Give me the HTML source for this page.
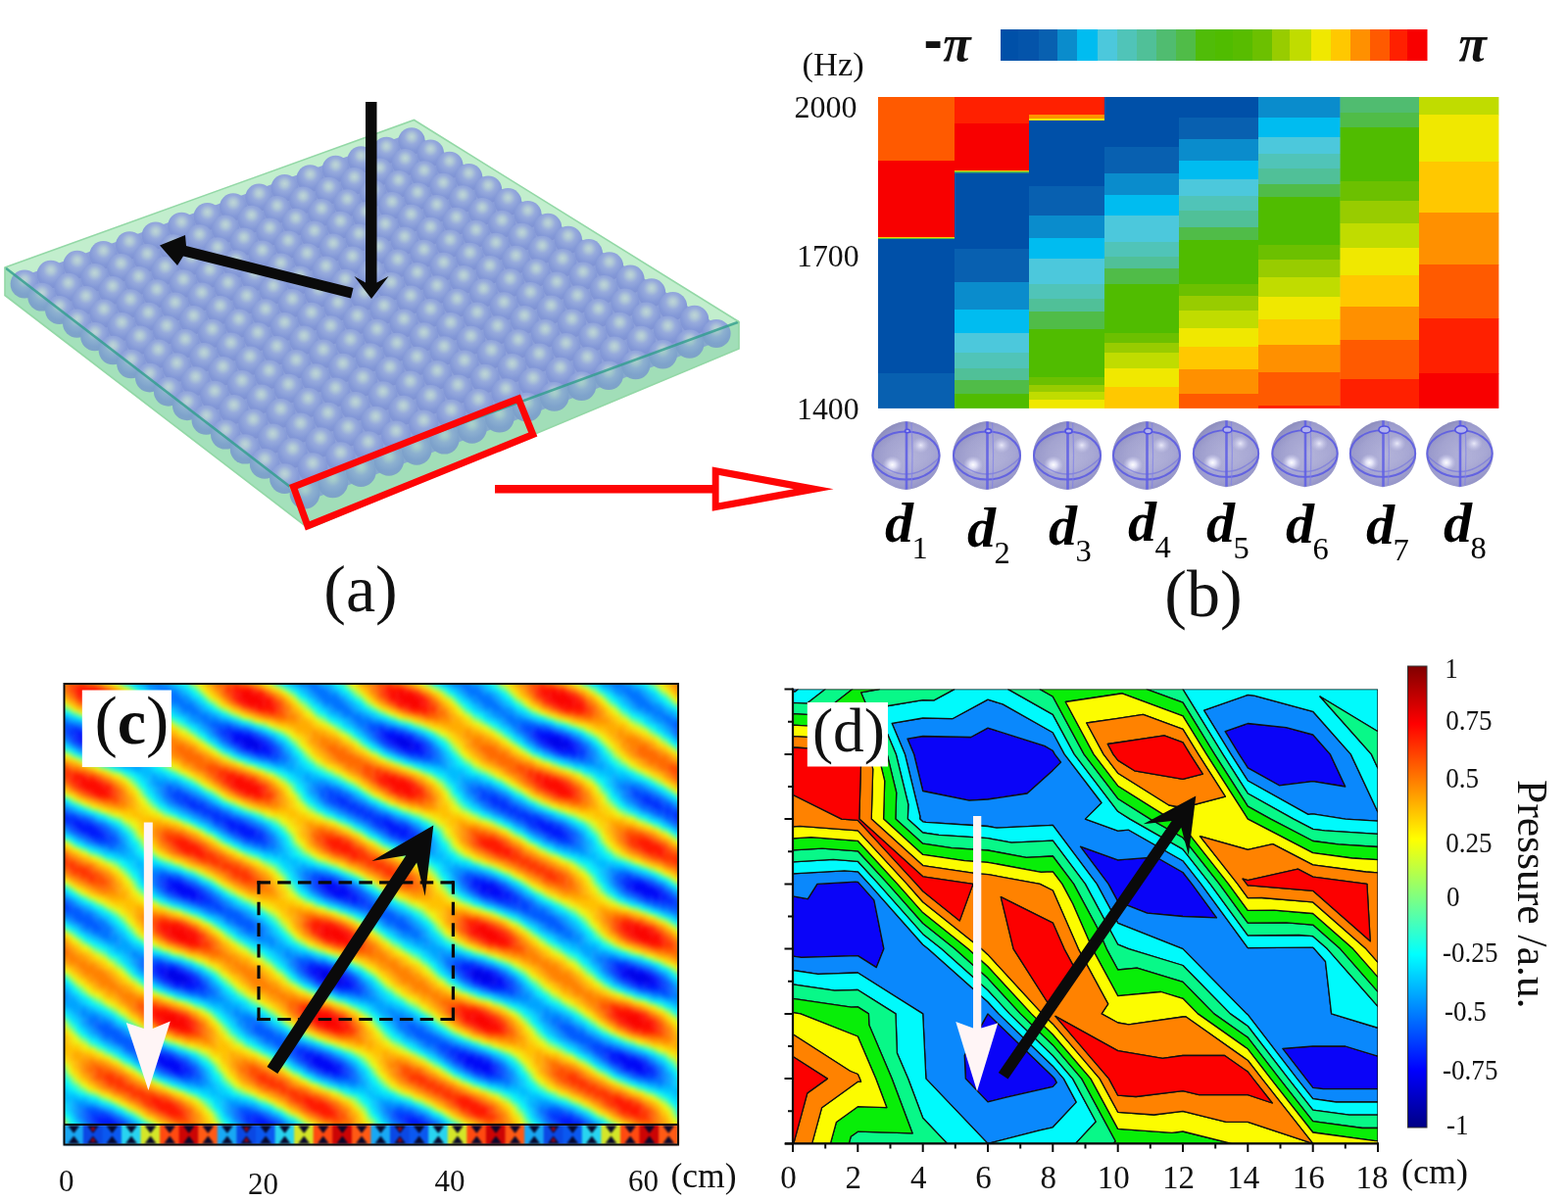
<!DOCTYPE html>
<html lang="en"><head><meta charset="utf-8"><title>Figure</title>
<style>
html,body{margin:0;padding:0;background:#fff;}
body{width:1600px;height:1226px;overflow:hidden;font-family:"Liberation Serif","Noto Serif CJK SC",serif;}
svg{display:block;}
</style></head><body>
<svg width="1600" height="1226" viewBox="0 0 1600 1226">
<defs>
<radialGradient id="ball" cx=".5" cy=".36" r=".62" fx=".5" fy=".34"><stop offset="0" stop-color="#bdd5d6"/><stop offset=".18" stop-color="#b1c9d6"/><stop offset=".44" stop-color="#96aadc"/><stop offset=".78" stop-color="#8499d8"/><stop offset="1" stop-color="#7e92d3" stop-opacity=".92"/></radialGradient>

<radialGradient id="sg" cx=".55" cy=".5" r=".6"><stop offset="0" stop-color="#b4b4da"/><stop offset=".55" stop-color="#a8a8d4"/><stop offset="1" stop-color="#9696cc"/></radialGradient>
<linearGradient id="sgs" x1=".1" y1="0" x2=".75" y2="1"><stop offset="0" stop-color="#6c6c96" stop-opacity=".55"/><stop offset=".3" stop-color="#8080b0" stop-opacity=".12"/><stop offset=".7" stop-color="#9090c0" stop-opacity="0"/><stop offset="1" stop-color="#7878b0" stop-opacity=".35"/></linearGradient>
<radialGradient id="hl"><stop offset="0" stop-color="#fff" stop-opacity=".98"/><stop offset=".35" stop-color="#f0f0ff" stop-opacity=".8"/><stop offset="1" stop-color="#d0d0f0" stop-opacity="0"/></radialGradient>
<radialGradient id="hl2"><stop offset="0" stop-color="#f4f4ff" stop-opacity=".85"/><stop offset="1" stop-color="#d0d0f0" stop-opacity="0"/></radialGradient>
<filter id="bl2" x="-1%" y="-10%" width="102%" height="120%" color-interpolation-filters="sRGB"><feGaussianBlur stdDeviation="0.9"/></filter><filter id="bl" x="-2%" y="-2%" width="104%" height="104%" color-interpolation-filters="sRGB"><feGaussianBlur stdDeviation="0.55"/></filter><linearGradient id="jetv" x1="0" y1="0" x2="0" y2="1"><stop offset="0" stop-color="#800000"/><stop offset=".125" stop-color="#ff0000"/><stop offset=".375" stop-color="#ffff00"/><stop offset=".5" stop-color="#80ff80"/><stop offset=".625" stop-color="#00ffff"/><stop offset=".875" stop-color="#0000ff"/><stop offset="1" stop-color="#000084"/></linearGradient></defs>
<rect width="1600" height="1226" fill="#fff"/>
<g id="pa">
<polygon points="5,273 422.5,122.5 754,328.5 754,356 315,539.5 5,301.5" fill="#c2eecd"/>
<polygon points="5,273 295.5,496.5 315,539.5 5,301.5" fill="#b4e8c2"/>
<polygon points="295.5,496.5 754,328.5 754,356 315,539.5" fill="#b0e4be"/>
<polygon points="25,290 420,144 731,340.5 311,504" fill="#8da1da" stroke="#8da1da" stroke-width="16" stroke-linejoin="round"/>
<circle cx="420" cy="144" r="13.7" fill="url(#ball)"/>
<circle cx="394.3" cy="153.5" r="13.7" fill="url(#ball)"/>
<circle cx="439.3" cy="156.2" r="13.7" fill="url(#ball)"/>
<circle cx="368.4" cy="163.1" r="13.8" fill="url(#ball)"/>
<circle cx="413.4" cy="165.8" r="13.8" fill="url(#ball)"/>
<circle cx="458.7" cy="168.5" r="13.8" fill="url(#ball)"/>
<circle cx="342.5" cy="172.6" r="13.8" fill="url(#ball)"/>
<circle cx="387.5" cy="175.4" r="13.8" fill="url(#ball)"/>
<circle cx="432.8" cy="178.1" r="13.9" fill="url(#ball)"/>
<circle cx="478.4" cy="180.9" r="13.9" fill="url(#ball)"/>
<circle cx="316.5" cy="182.2" r="13.9" fill="url(#ball)"/>
<circle cx="361.5" cy="185" r="13.9" fill="url(#ball)"/>
<circle cx="406.7" cy="187.8" r="13.9" fill="url(#ball)"/>
<circle cx="452.3" cy="190.6" r="13.9" fill="url(#ball)"/>
<circle cx="290.4" cy="191.9" r="13.9" fill="url(#ball)"/>
<circle cx="498.2" cy="193.4" r="13.9" fill="url(#ball)"/>
<circle cx="335.4" cy="194.7" r="13.9" fill="url(#ball)"/>
<circle cx="380.6" cy="197.5" r="13.9" fill="url(#ball)"/>
<circle cx="426.2" cy="200.4" r="14" fill="url(#ball)"/>
<circle cx="264.3" cy="201.6" r="14" fill="url(#ball)"/>
<circle cx="472.1" cy="203.2" r="14" fill="url(#ball)"/>
<circle cx="309.2" cy="204.4" r="14" fill="url(#ball)"/>
<circle cx="518.3" cy="206.1" r="14" fill="url(#ball)"/>
<circle cx="354.4" cy="207.3" r="14" fill="url(#ball)"/>
<circle cx="400" cy="210.1" r="14" fill="url(#ball)"/>
<circle cx="238" cy="211.3" r="14" fill="url(#ball)"/>
<circle cx="445.8" cy="213" r="14" fill="url(#ball)"/>
<circle cx="282.9" cy="214.1" r="14" fill="url(#ball)"/>
<circle cx="492" cy="216" r="14" fill="url(#ball)"/>
<circle cx="328.1" cy="217" r="14" fill="url(#ball)"/>
<circle cx="538.6" cy="218.9" r="14" fill="url(#ball)"/>
<circle cx="373.7" cy="220" r="14" fill="url(#ball)"/>
<circle cx="211.7" cy="221" r="14" fill="url(#ball)"/>
<circle cx="419.5" cy="222.9" r="14.1" fill="url(#ball)"/>
<circle cx="256.6" cy="223.9" r="14.1" fill="url(#ball)"/>
<circle cx="465.7" cy="225.9" r="14.1" fill="url(#ball)"/>
<circle cx="301.8" cy="226.8" r="14.1" fill="url(#ball)"/>
<circle cx="512.2" cy="228.9" r="14.1" fill="url(#ball)"/>
<circle cx="347.3" cy="229.8" r="14.1" fill="url(#ball)"/>
<circle cx="185.3" cy="230.8" r="14.1" fill="url(#ball)"/>
<circle cx="559.1" cy="231.9" r="14.1" fill="url(#ball)"/>
<circle cx="393.1" cy="232.8" r="14.1" fill="url(#ball)"/>
<circle cx="230.1" cy="233.7" r="14.1" fill="url(#ball)"/>
<circle cx="439.3" cy="235.8" r="14.1" fill="url(#ball)"/>
<circle cx="275.3" cy="236.7" r="14.1" fill="url(#ball)"/>
<circle cx="485.8" cy="238.8" r="14.1" fill="url(#ball)"/>
<circle cx="320.8" cy="239.7" r="14.1" fill="url(#ball)"/>
<circle cx="158.8" cy="240.5" r="14.1" fill="url(#ball)"/>
<circle cx="532.6" cy="241.9" r="14.2" fill="url(#ball)"/>
<circle cx="366.6" cy="242.7" r="14.2" fill="url(#ball)"/>
<circle cx="203.6" cy="243.5" r="14.2" fill="url(#ball)"/>
<circle cx="579.8" cy="244.9" r="14.2" fill="url(#ball)"/>
<circle cx="412.8" cy="245.8" r="14.2" fill="url(#ball)"/>
<circle cx="248.8" cy="246.6" r="14.2" fill="url(#ball)"/>
<circle cx="459.2" cy="248.8" r="14.2" fill="url(#ball)"/>
<circle cx="294.2" cy="249.6" r="14.2" fill="url(#ball)"/>
<circle cx="132.2" cy="250.4" r="14.2" fill="url(#ball)"/>
<circle cx="506" cy="251.9" r="14.2" fill="url(#ball)"/>
<circle cx="340" cy="252.7" r="14.2" fill="url(#ball)"/>
<circle cx="177" cy="253.4" r="14.2" fill="url(#ball)"/>
<circle cx="553.2" cy="255" r="14.2" fill="url(#ball)"/>
<circle cx="386.2" cy="255.8" r="14.2" fill="url(#ball)"/>
<circle cx="222.1" cy="256.5" r="14.2" fill="url(#ball)"/>
<circle cx="600.7" cy="258.2" r="14.2" fill="url(#ball)"/>
<circle cx="432.6" cy="258.9" r="14.2" fill="url(#ball)"/>
<circle cx="267.6" cy="259.6" r="14.2" fill="url(#ball)"/>
<circle cx="105.5" cy="260.2" r="14.2" fill="url(#ball)"/>
<circle cx="479.4" cy="262" r="14.3" fill="url(#ball)"/>
<circle cx="313.4" cy="262.7" r="14.3" fill="url(#ball)"/>
<circle cx="150.3" cy="263.3" r="14.2" fill="url(#ball)"/>
<circle cx="526.5" cy="265.1" r="14.3" fill="url(#ball)"/>
<circle cx="359.5" cy="265.8" r="14.3" fill="url(#ball)"/>
<circle cx="195.4" cy="266.4" r="14.3" fill="url(#ball)"/>
<circle cx="574" cy="268.3" r="14.3" fill="url(#ball)"/>
<circle cx="405.9" cy="268.9" r="14.3" fill="url(#ball)"/>
<circle cx="240.9" cy="269.5" r="14.3" fill="url(#ball)"/>
<circle cx="78.8" cy="270.1" r="14.3" fill="url(#ball)"/>
<circle cx="621.8" cy="271.5" r="14.3" fill="url(#ball)"/>
<circle cx="452.7" cy="272.1" r="14.3" fill="url(#ball)"/>
<circle cx="286.6" cy="272.7" r="14.3" fill="url(#ball)"/>
<circle cx="123.5" cy="273.2" r="14.3" fill="url(#ball)"/>
<circle cx="499.8" cy="275.3" r="14.3" fill="url(#ball)"/>
<circle cx="332.7" cy="275.8" r="14.3" fill="url(#ball)"/>
<circle cx="168.6" cy="276.4" r="14.3" fill="url(#ball)"/>
<circle cx="547.2" cy="278.5" r="14.3" fill="url(#ball)"/>
<circle cx="379.1" cy="279" r="14.3" fill="url(#ball)"/>
<circle cx="214" cy="279.5" r="14.3" fill="url(#ball)"/>
<circle cx="51.9" cy="280" r="14.3" fill="url(#ball)"/>
<circle cx="595" cy="281.8" r="14.3" fill="url(#ball)"/>
<circle cx="425.9" cy="282.2" r="14.3" fill="url(#ball)"/>
<circle cx="259.8" cy="282.7" r="14.3" fill="url(#ball)"/>
<circle cx="96.7" cy="283.2" r="14.3" fill="url(#ball)"/>
<circle cx="643.2" cy="285" r="14.4" fill="url(#ball)"/>
<circle cx="473" cy="285.5" r="14.4" fill="url(#ball)"/>
<circle cx="305.8" cy="285.9" r="14.4" fill="url(#ball)"/>
<circle cx="141.7" cy="286.4" r="14.4" fill="url(#ball)"/>
<circle cx="520.4" cy="288.7" r="14.4" fill="url(#ball)"/>
<circle cx="352.2" cy="289.2" r="14.4" fill="url(#ball)"/>
<circle cx="187.1" cy="289.6" r="14.4" fill="url(#ball)"/>
<circle cx="25" cy="290" r="14.4" fill="url(#ball)"/>
<circle cx="568.2" cy="292" r="14.4" fill="url(#ball)"/>
<circle cx="399" cy="292.4" r="14.4" fill="url(#ball)"/>
<circle cx="232.8" cy="292.8" r="14.4" fill="url(#ball)"/>
<circle cx="69.7" cy="293.2" r="14.4" fill="url(#ball)"/>
<circle cx="616.3" cy="295.3" r="14.4" fill="url(#ball)"/>
<circle cx="446" cy="295.7" r="14.4" fill="url(#ball)"/>
<circle cx="278.9" cy="296.1" r="14.4" fill="url(#ball)"/>
<circle cx="114.8" cy="296.4" r="14.4" fill="url(#ball)"/>
<circle cx="664.8" cy="298.7" r="14.4" fill="url(#ball)"/>
<circle cx="493.4" cy="299" r="14.4" fill="url(#ball)"/>
<circle cx="325.3" cy="299.3" r="14.4" fill="url(#ball)"/>
<circle cx="160.1" cy="299.7" r="14.4" fill="url(#ball)"/>
<circle cx="541.2" cy="302.3" r="14.4" fill="url(#ball)"/>
<circle cx="372" cy="302.6" r="14.4" fill="url(#ball)"/>
<circle cx="205.8" cy="302.9" r="14.4" fill="url(#ball)"/>
<circle cx="42.7" cy="303.2" r="14.4" fill="url(#ball)"/>
<circle cx="589.3" cy="305.7" r="14.5" fill="url(#ball)"/>
<circle cx="419" cy="306" r="14.5" fill="url(#ball)"/>
<circle cx="251.8" cy="306.2" r="14.5" fill="url(#ball)"/>
<circle cx="87.7" cy="306.5" r="14.5" fill="url(#ball)"/>
<circle cx="637.8" cy="309.1" r="14.5" fill="url(#ball)"/>
<circle cx="466.4" cy="309.3" r="14.5" fill="url(#ball)"/>
<circle cx="298.2" cy="309.5" r="14.5" fill="url(#ball)"/>
<circle cx="133" cy="309.8" r="14.5" fill="url(#ball)"/>
<circle cx="686.6" cy="312.5" r="14.5" fill="url(#ball)"/>
<circle cx="514.2" cy="312.7" r="14.5" fill="url(#ball)"/>
<circle cx="344.9" cy="312.9" r="14.5" fill="url(#ball)"/>
<circle cx="178.7" cy="313.1" r="14.5" fill="url(#ball)"/>
<circle cx="562.3" cy="316.1" r="14.5" fill="url(#ball)"/>
<circle cx="391.9" cy="316.2" r="14.5" fill="url(#ball)"/>
<circle cx="224.7" cy="316.4" r="14.5" fill="url(#ball)"/>
<circle cx="60.5" cy="316.6" r="14.5" fill="url(#ball)"/>
<circle cx="610.7" cy="319.5" r="14.5" fill="url(#ball)"/>
<circle cx="439.3" cy="319.6" r="14.5" fill="url(#ball)"/>
<circle cx="271" cy="319.8" r="14.5" fill="url(#ball)"/>
<circle cx="105.9" cy="319.9" r="14.5" fill="url(#ball)"/>
<circle cx="659.5" cy="322.9" r="14.5" fill="url(#ball)"/>
<circle cx="487" cy="323" r="14.5" fill="url(#ball)"/>
<circle cx="317.7" cy="323.2" r="14.5" fill="url(#ball)"/>
<circle cx="151.5" cy="323.3" r="14.5" fill="url(#ball)"/>
<circle cx="708.7" cy="326.4" r="14.6" fill="url(#ball)"/>
<circle cx="535.1" cy="326.5" r="14.6" fill="url(#ball)"/>
<circle cx="364.7" cy="326.6" r="14.6" fill="url(#ball)"/>
<circle cx="197.5" cy="326.7" r="14.6" fill="url(#ball)"/>
<circle cx="583.5" cy="330" r="14.6" fill="url(#ball)"/>
<circle cx="412.1" cy="330" r="14.6" fill="url(#ball)"/>
<circle cx="243.8" cy="330.1" r="14.6" fill="url(#ball)"/>
<circle cx="78.6" cy="330.1" r="14.6" fill="url(#ball)"/>
<circle cx="632.3" cy="333.4" r="14.6" fill="url(#ball)"/>
<circle cx="459.8" cy="333.5" r="14.6" fill="url(#ball)"/>
<circle cx="290.4" cy="333.5" r="14.6" fill="url(#ball)"/>
<circle cx="124.2" cy="333.5" r="14.6" fill="url(#ball)"/>
<circle cx="170.2" cy="336.9" r="14.6" fill="url(#ball)"/>
<circle cx="337.4" cy="336.9" r="14.6" fill="url(#ball)"/>
<circle cx="507.8" cy="336.9" r="14.6" fill="url(#ball)"/>
<circle cx="681.5" cy="337" r="14.6" fill="url(#ball)"/>
<circle cx="216.5" cy="340.4" r="14.6" fill="url(#ball)"/>
<circle cx="384.8" cy="340.4" r="14.6" fill="url(#ball)"/>
<circle cx="556.3" cy="340.5" r="14.6" fill="url(#ball)"/>
<circle cx="731" cy="340.5" r="14.6" fill="url(#ball)"/>
<circle cx="96.8" cy="343.7" r="14.6" fill="url(#ball)"/>
<circle cx="263.1" cy="343.8" r="14.6" fill="url(#ball)"/>
<circle cx="432.5" cy="343.9" r="14.6" fill="url(#ball)"/>
<circle cx="605" cy="344" r="14.6" fill="url(#ball)"/>
<circle cx="142.8" cy="347.2" r="14.7" fill="url(#ball)"/>
<circle cx="310.1" cy="347.3" r="14.7" fill="url(#ball)"/>
<circle cx="480.5" cy="347.4" r="14.7" fill="url(#ball)"/>
<circle cx="654.2" cy="347.5" r="14.7" fill="url(#ball)"/>
<circle cx="189" cy="350.7" r="14.7" fill="url(#ball)"/>
<circle cx="357.4" cy="350.8" r="14.7" fill="url(#ball)"/>
<circle cx="528.9" cy="351" r="14.7" fill="url(#ball)"/>
<circle cx="703.7" cy="351.1" r="14.7" fill="url(#ball)"/>
<circle cx="235.6" cy="354.2" r="14.7" fill="url(#ball)"/>
<circle cx="405" cy="354.4" r="14.7" fill="url(#ball)"/>
<circle cx="577.6" cy="354.6" r="14.7" fill="url(#ball)"/>
<circle cx="115.3" cy="357.5" r="14.7" fill="url(#ball)"/>
<circle cx="282.6" cy="357.8" r="14.7" fill="url(#ball)"/>
<circle cx="453.1" cy="358" r="14.7" fill="url(#ball)"/>
<circle cx="626.8" cy="358.2" r="14.7" fill="url(#ball)"/>
<circle cx="161.5" cy="361.1" r="14.7" fill="url(#ball)"/>
<circle cx="329.9" cy="361.3" r="14.7" fill="url(#ball)"/>
<circle cx="501.4" cy="361.6" r="14.7" fill="url(#ball)"/>
<circle cx="676.3" cy="361.8" r="14.7" fill="url(#ball)"/>
<circle cx="208.1" cy="364.6" r="14.7" fill="url(#ball)"/>
<circle cx="377.5" cy="364.9" r="14.7" fill="url(#ball)"/>
<circle cx="550.2" cy="365.2" r="14.7" fill="url(#ball)"/>
<circle cx="255" cy="368.2" r="14.8" fill="url(#ball)"/>
<circle cx="425.5" cy="368.5" r="14.8" fill="url(#ball)"/>
<circle cx="599.3" cy="368.8" r="14.8" fill="url(#ball)"/>
<circle cx="133.9" cy="371.5" r="14.8" fill="url(#ball)"/>
<circle cx="302.3" cy="371.8" r="14.8" fill="url(#ball)"/>
<circle cx="473.9" cy="372.2" r="14.8" fill="url(#ball)"/>
<circle cx="648.7" cy="372.5" r="14.8" fill="url(#ball)"/>
<circle cx="180.5" cy="375.1" r="14.8" fill="url(#ball)"/>
<circle cx="349.9" cy="375.5" r="14.8" fill="url(#ball)"/>
<circle cx="522.6" cy="375.8" r="14.8" fill="url(#ball)"/>
<circle cx="227.4" cy="378.7" r="14.8" fill="url(#ball)"/>
<circle cx="397.9" cy="379.1" r="14.8" fill="url(#ball)"/>
<circle cx="571.7" cy="379.5" r="14.8" fill="url(#ball)"/>
<circle cx="274.6" cy="382.4" r="14.8" fill="url(#ball)"/>
<circle cx="446.2" cy="382.8" r="14.8" fill="url(#ball)"/>
<circle cx="621.1" cy="383.3" r="14.8" fill="url(#ball)"/>
<circle cx="152.7" cy="385.6" r="14.8" fill="url(#ball)"/>
<circle cx="322.2" cy="386" r="14.8" fill="url(#ball)"/>
<circle cx="494.9" cy="386.5" r="14.8" fill="url(#ball)"/>
<circle cx="199.6" cy="389.2" r="14.9" fill="url(#ball)"/>
<circle cx="370.2" cy="389.8" r="14.9" fill="url(#ball)"/>
<circle cx="544" cy="390.3" r="14.9" fill="url(#ball)"/>
<circle cx="246.8" cy="392.9" r="14.9" fill="url(#ball)"/>
<circle cx="418.5" cy="393.5" r="14.9" fill="url(#ball)"/>
<circle cx="593.4" cy="394.1" r="14.9" fill="url(#ball)"/>
<circle cx="294.4" cy="396.7" r="14.9" fill="url(#ball)"/>
<circle cx="467.2" cy="397.3" r="14.9" fill="url(#ball)"/>
<circle cx="171.8" cy="399.8" r="14.9" fill="url(#ball)"/>
<circle cx="342.4" cy="400.4" r="14.9" fill="url(#ball)"/>
<circle cx="516.2" cy="401.1" r="14.9" fill="url(#ball)"/>
<circle cx="219" cy="403.6" r="14.9" fill="url(#ball)"/>
<circle cx="390.7" cy="404.2" r="14.9" fill="url(#ball)"/>
<circle cx="565.6" cy="404.9" r="14.9" fill="url(#ball)"/>
<circle cx="266.5" cy="407.3" r="14.9" fill="url(#ball)"/>
<circle cx="439.3" cy="408" r="14.9" fill="url(#ball)"/>
<circle cx="314.4" cy="411.1" r="15" fill="url(#ball)"/>
<circle cx="488.3" cy="411.9" r="15" fill="url(#ball)"/>
<circle cx="191" cy="414.2" r="15" fill="url(#ball)"/>
<circle cx="362.7" cy="415" r="15" fill="url(#ball)"/>
<circle cx="537.7" cy="415.7" r="15" fill="url(#ball)"/>
<circle cx="238.5" cy="418" r="15" fill="url(#ball)"/>
<circle cx="411.4" cy="418.8" r="15" fill="url(#ball)"/>
<circle cx="286.4" cy="421.9" r="15" fill="url(#ball)"/>
<circle cx="460.4" cy="422.7" r="15" fill="url(#ball)"/>
<circle cx="334.7" cy="425.8" r="15" fill="url(#ball)"/>
<circle cx="509.7" cy="426.6" r="15" fill="url(#ball)"/>
<circle cx="210.5" cy="428.8" r="15" fill="url(#ball)"/>
<circle cx="383.3" cy="429.7" r="15" fill="url(#ball)"/>
<circle cx="258.3" cy="432.7" r="15.1" fill="url(#ball)"/>
<circle cx="432.3" cy="433.6" r="15.1" fill="url(#ball)"/>
<circle cx="306.6" cy="436.6" r="15.1" fill="url(#ball)"/>
<circle cx="481.6" cy="437.6" r="15.1" fill="url(#ball)"/>
<circle cx="355.2" cy="440.5" r="15.1" fill="url(#ball)"/>
<circle cx="230.1" cy="443.5" r="15.1" fill="url(#ball)"/>
<circle cx="404.1" cy="444.5" r="15.1" fill="url(#ball)"/>
<circle cx="278.3" cy="447.5" r="15.1" fill="url(#ball)"/>
<circle cx="453.5" cy="448.5" r="15.1" fill="url(#ball)"/>
<circle cx="326.9" cy="451.5" r="15.2" fill="url(#ball)"/>
<circle cx="375.8" cy="455.5" r="15.2" fill="url(#ball)"/>
<circle cx="250" cy="458.4" r="15.2" fill="url(#ball)"/>
<circle cx="425.2" cy="459.6" r="15.2" fill="url(#ball)"/>
<circle cx="298.6" cy="462.4" r="15.2" fill="url(#ball)"/>
<circle cx="347.5" cy="466.5" r="15.2" fill="url(#ball)"/>
<circle cx="396.8" cy="470.6" r="15.2" fill="url(#ball)"/>
<circle cx="270.1" cy="473.4" r="15.3" fill="url(#ball)"/>
<circle cx="319" cy="477.5" r="15.3" fill="url(#ball)"/>
<circle cx="368.3" cy="481.7" r="15.3" fill="url(#ball)"/>
<circle cx="290.4" cy="488.6" r="15.3" fill="url(#ball)"/>
<circle cx="339.7" cy="492.8" r="15.4" fill="url(#ball)"/>
<circle cx="311" cy="504" r="15.4" fill="url(#ball)"/>
<polygon points="5,273 295.5,496.5 315,539.5 5,301.5" fill="#6fc8a6" opacity=".22"/>
<polygon points="295.5,496.5 754,328.5 754,356 315,539.5" fill="#6fc8a6" opacity=".22"/>
<polyline points="5,273 295.5,496.5 754,328.5" fill="none" stroke="#2f9d8c" stroke-width="2.6" opacity=".8"/>
<polygon points="5,273 422.5,122.5 754,328.5 754,356 315,539.5 5,301.5" fill="none" stroke="#93d8a6" stroke-width="1.6"/>
<path d="M295.5 496.5L315 539.5" stroke="#93d8a6" stroke-width="1.4" fill="none"/>
<path d="M373 104H384.5V288.5L396.5 282L379 305L361.5 282L373 288.5Z" fill="#0a0a0a"/>
<path d="M360.5 294L358 304.5L187 261.5L181 271L163 250.5L189 240L190 251Z" fill="#0a0a0a"/>
<polygon points="299.4,496.9 529,406.9 543.8,443.6 313.9,536.8" fill="none" stroke="#fe0505" stroke-width="7" stroke-linejoin="miter"/>
<path d="M505 499.3H728" stroke="#fe0505" stroke-width="8.6" fill="none"/>
<path d="M726.7 476.5V521.8L850.5 499.3ZM733.6 485L810 499.3L733.6 513.3Z" fill="#fe0505" fill-rule="evenodd"/>
<text x="368" y="624" font-size="68" text-anchor="middle" font-family="'Liberation Serif','Noto Serif CJK SC',serif" fill="#111">(a)</text>
</g>
<g id="pb">
<rect x="1021" y="30" width="18.5" height="32" fill="#0050a8"/>
<rect x="1039" y="30" width="21.5" height="32" fill="#0454aa"/>
<rect x="1060" y="30" width="19.5" height="32" fill="#0860b0"/>
<rect x="1079" y="30" width="20.5" height="32" fill="#0a8ccc"/>
<rect x="1099" y="30" width="21.5" height="32" fill="#00bcf0"/>
<rect x="1120" y="30" width="20.5" height="32" fill="#4cc8dc"/>
<rect x="1140" y="30" width="20.5" height="32" fill="#50c4b8"/>
<rect x="1160" y="30" width="20.5" height="32" fill="#50c098"/>
<rect x="1180" y="30" width="20.5" height="32" fill="#50bc70"/>
<rect x="1200" y="30" width="20.5" height="32" fill="#50bc48"/>
<rect x="1220" y="30" width="20.5" height="32" fill="#50bc08"/>
<rect x="1240" y="30" width="18.5" height="32" fill="#50bc00"/>
<rect x="1258" y="30" width="20.5" height="32" fill="#58bc00"/>
<rect x="1278" y="30" width="20.5" height="32" fill="#6cc000"/>
<rect x="1298" y="30" width="18.5" height="32" fill="#98cc00"/>
<rect x="1316" y="30" width="22.5" height="32" fill="#c0dc00"/>
<rect x="1338" y="30" width="20.5" height="32" fill="#f0e800"/>
<rect x="1358" y="30" width="20.5" height="32" fill="#ffc800"/>
<rect x="1378" y="30" width="20.5" height="32" fill="#ff9000"/>
<rect x="1398" y="30" width="20.5" height="32" fill="#ff5a00"/>
<rect x="1418" y="30" width="18.5" height="32" fill="#ff2000"/>
<rect x="1436" y="30" width="20.5" height="32" fill="#f80000"/>
<rect x="896" y="99" width="78.4" height="65.4" fill="#ff5a00"/>
<rect x="896" y="164" width="78.4" height="78.4" fill="#f80000"/>
<rect x="896" y="242" width="78.4" height="1.4" fill="#ffc800"/>
<rect x="896" y="243" width="78.4" height="1.4" fill="#50bc48"/>
<rect x="896" y="244" width="78.4" height="137.4" fill="#0050a8"/>
<rect x="896" y="381" width="78.4" height="35.9" fill="#0860b0"/>
<rect x="974" y="99" width="76.4" height="27.4" fill="#ff2000"/>
<rect x="974" y="126" width="76.4" height="48.4" fill="#f80000"/>
<rect x="974" y="174" width="76.4" height="1.4" fill="#ffc800"/>
<rect x="974" y="175" width="76.4" height="1.9" fill="#50bc48"/>
<rect x="974" y="176.5" width="76.4" height="77.9" fill="#0050a8"/>
<rect x="974" y="254" width="76.4" height="34.4" fill="#0860b0"/>
<rect x="974" y="288" width="76.4" height="28.4" fill="#0a8ccc"/>
<rect x="974" y="316" width="76.4" height="24.4" fill="#00bcf0"/>
<rect x="974" y="340" width="76.4" height="20.4" fill="#4cc8dc"/>
<rect x="974" y="360" width="76.4" height="16.4" fill="#50c4b8"/>
<rect x="974" y="376" width="76.4" height="12.4" fill="#50c098"/>
<rect x="974" y="388" width="76.4" height="14.4" fill="#50bc48"/>
<rect x="974" y="402" width="76.4" height="14.9" fill="#50bc00"/>
<rect x="1050" y="99" width="77.4" height="18.4" fill="#ff2000"/>
<rect x="1050" y="117" width="77.4" height="4.4" fill="#ff9000"/>
<rect x="1050" y="121" width="77.4" height="2.4" fill="#f0e800"/>
<rect x="1050" y="123" width="77.4" height="67.4" fill="#0050a8"/>
<rect x="1050" y="190" width="77.4" height="30.4" fill="#0860b0"/>
<rect x="1050" y="220" width="77.4" height="23.4" fill="#0a8ccc"/>
<rect x="1050" y="243" width="77.4" height="21.4" fill="#00bcf0"/>
<rect x="1050" y="264" width="77.4" height="26.4" fill="#4cc8dc"/>
<rect x="1050" y="290" width="77.4" height="15.4" fill="#50c4b8"/>
<rect x="1050" y="305" width="77.4" height="13.4" fill="#50c098"/>
<rect x="1050" y="318" width="77.4" height="18.4" fill="#50bc48"/>
<rect x="1050" y="336" width="77.4" height="49.4" fill="#50bc00"/>
<rect x="1050" y="385" width="77.4" height="8.4" fill="#6cc000"/>
<rect x="1050" y="393" width="77.4" height="7.4" fill="#98cc00"/>
<rect x="1050" y="400" width="77.4" height="8.4" fill="#c0dc00"/>
<rect x="1050" y="408" width="77.4" height="8.9" fill="#f0e800"/>
<rect x="1127" y="99" width="76.4" height="51.4" fill="#0050a8"/>
<rect x="1127" y="150" width="76.4" height="27.4" fill="#0860b0"/>
<rect x="1127" y="177" width="76.4" height="22.4" fill="#0a8ccc"/>
<rect x="1127" y="199" width="76.4" height="21.4" fill="#00bcf0"/>
<rect x="1127" y="220" width="76.4" height="27.4" fill="#4cc8dc"/>
<rect x="1127" y="247" width="76.4" height="15.4" fill="#50c4b8"/>
<rect x="1127" y="262" width="76.4" height="12.4" fill="#50c098"/>
<rect x="1127" y="274" width="76.4" height="16.4" fill="#50bc48"/>
<rect x="1127" y="290" width="76.4" height="50.4" fill="#50bc00"/>
<rect x="1127" y="340" width="76.4" height="10.4" fill="#6cc000"/>
<rect x="1127" y="350" width="76.4" height="10.4" fill="#98cc00"/>
<rect x="1127" y="360" width="76.4" height="16.4" fill="#c0dc00"/>
<rect x="1127" y="376" width="76.4" height="19.4" fill="#f0e800"/>
<rect x="1127" y="395" width="76.4" height="21.9" fill="#ffc800"/>
<rect x="1203" y="99" width="81.4" height="21.4" fill="#0050a8"/>
<rect x="1203" y="120" width="81.4" height="22.4" fill="#0860b0"/>
<rect x="1203" y="142" width="81.4" height="22.4" fill="#0a8ccc"/>
<rect x="1203" y="164" width="81.4" height="19.4" fill="#00bcf0"/>
<rect x="1203" y="183" width="81.4" height="17.4" fill="#4cc8dc"/>
<rect x="1203" y="200" width="81.4" height="15.4" fill="#50c4b8"/>
<rect x="1203" y="215" width="81.4" height="17.4" fill="#50c098"/>
<rect x="1203" y="232" width="81.4" height="13.4" fill="#50bc48"/>
<rect x="1203" y="245" width="81.4" height="45.4" fill="#50bc00"/>
<rect x="1203" y="290" width="81.4" height="12.4" fill="#6cc000"/>
<rect x="1203" y="302" width="81.4" height="15.4" fill="#98cc00"/>
<rect x="1203" y="317" width="81.4" height="18.4" fill="#c0dc00"/>
<rect x="1203" y="335" width="81.4" height="19.4" fill="#f0e800"/>
<rect x="1203" y="354" width="81.4" height="23.4" fill="#ffc800"/>
<rect x="1203" y="377" width="81.4" height="25.4" fill="#ff9000"/>
<rect x="1203" y="402" width="81.4" height="14.9" fill="#ff5a00"/>
<rect x="1284" y="99" width="83.9" height="21.4" fill="#0a8ccc"/>
<rect x="1284" y="120" width="83.9" height="20.4" fill="#00bcf0"/>
<rect x="1284" y="140" width="83.9" height="17.4" fill="#4cc8dc"/>
<rect x="1284" y="157" width="83.9" height="15.4" fill="#50c4b8"/>
<rect x="1284" y="172" width="83.9" height="16.4" fill="#50c098"/>
<rect x="1284" y="188" width="83.9" height="13.4" fill="#50bc48"/>
<rect x="1284" y="201" width="83.9" height="49.4" fill="#50bc00"/>
<rect x="1284" y="250" width="83.9" height="15.4" fill="#6cc000"/>
<rect x="1284" y="265" width="83.9" height="18.4" fill="#98cc00"/>
<rect x="1284" y="283" width="83.9" height="20.4" fill="#c0dc00"/>
<rect x="1284" y="303" width="83.9" height="23.4" fill="#f0e800"/>
<rect x="1284" y="326" width="83.9" height="26.4" fill="#ffc800"/>
<rect x="1284" y="352" width="83.9" height="28.4" fill="#ff9000"/>
<rect x="1284" y="380" width="83.9" height="34.4" fill="#ff5a00"/>
<rect x="1284" y="414" width="83.9" height="2.9" fill="#ff2000"/>
<rect x="1367.5" y="99" width="80.9" height="16.4" fill="#50bc70"/>
<rect x="1367.5" y="115" width="80.9" height="15.4" fill="#50bc48"/>
<rect x="1367.5" y="130" width="80.9" height="55.4" fill="#50bc00"/>
<rect x="1367.5" y="185" width="80.9" height="20.4" fill="#6cc000"/>
<rect x="1367.5" y="205" width="80.9" height="23.4" fill="#98cc00"/>
<rect x="1367.5" y="228" width="80.9" height="25.4" fill="#c0dc00"/>
<rect x="1367.5" y="253" width="80.9" height="28.4" fill="#f0e800"/>
<rect x="1367.5" y="281" width="80.9" height="32.4" fill="#ffc800"/>
<rect x="1367.5" y="313" width="80.9" height="34.4" fill="#ff9000"/>
<rect x="1367.5" y="347" width="80.9" height="40.4" fill="#ff5a00"/>
<rect x="1367.5" y="387" width="80.9" height="29.9" fill="#ff2000"/>
<rect x="1448" y="99" width="81.4" height="18.4" fill="#c0dc00"/>
<rect x="1448" y="117" width="81.4" height="48.4" fill="#f0e800"/>
<rect x="1448" y="165" width="81.4" height="52.4" fill="#ffc800"/>
<rect x="1448" y="217" width="81.4" height="53.4" fill="#ff9000"/>
<rect x="1448" y="270" width="81.4" height="55.4" fill="#ff5a00"/>
<rect x="1448" y="325" width="81.4" height="56.4" fill="#ff2000"/>
<rect x="1448" y="381" width="81.4" height="35.9" fill="#f80000"/>
<g font-family="'Liberation Serif','Noto Serif CJK SC',serif" fill="#111">
<text x="818.5" y="76.5" font-size="34.5">(Hz)</text>
<text x="810.5" y="120.3" font-size="31.5" textLength="64" lengthAdjust="spacingAndGlyphs">2000</text>
<text x="813" y="271.6" font-size="31.5" textLength="63.5" lengthAdjust="spacingAndGlyphs">1700</text>
<text x="813" y="428" font-size="31.5" textLength="63.5" lengthAdjust="spacingAndGlyphs">1400</text>
<text x="942.5" y="62" font-size="50" font-weight="bold" font-style="italic"><tspan font-family="Liberation Sans,sans-serif" font-style="normal" font-size="58" dy="-1">-</tspan><tspan dx="0.5" dy="1" font-size="52">π</tspan></text>
<text x="1488.5" y="62" font-size="52" font-weight="bold" font-style="italic">π</text>
<text x="903" y="552.5" font-size="58" font-weight="bold" font-style="italic" fill="#000">d<tspan font-size="32.5" font-weight="normal" font-style="normal" dx="-1.5" dy="17">1</tspan></text>
<text x="987" y="557.5" font-size="58" font-weight="bold" font-style="italic" fill="#000">d<tspan font-size="32.5" font-weight="normal" font-style="normal" dx="-1.5" dy="17">2</tspan></text>
<text x="1070" y="556" font-size="58" font-weight="bold" font-style="italic" fill="#000">d<tspan font-size="32.5" font-weight="normal" font-style="normal" dx="-1.5" dy="17">3</tspan></text>
<text x="1151" y="551.5" font-size="58" font-weight="bold" font-style="italic" fill="#000">d<tspan font-size="32.5" font-weight="normal" font-style="normal" dx="-1.5" dy="17">4</tspan></text>
<text x="1231" y="552.5" font-size="58" font-weight="bold" font-style="italic" fill="#000">d<tspan font-size="32.5" font-weight="normal" font-style="normal" dx="-1.5" dy="17">5</tspan></text>
<text x="1312" y="554" font-size="58" font-weight="bold" font-style="italic" fill="#000">d<tspan font-size="32.5" font-weight="normal" font-style="normal" dx="-1.5" dy="17">6</tspan></text>
<text x="1394" y="555" font-size="58" font-weight="bold" font-style="italic" fill="#000">d<tspan font-size="32.5" font-weight="normal" font-style="normal" dx="-1.5" dy="17">7</tspan></text>
<text x="1473" y="552.5" font-size="58" font-weight="bold" font-style="italic" fill="#000">d<tspan font-size="32.5" font-weight="normal" font-style="normal" dx="-1.5" dy="17">8</tspan></text>
<text x="1228" y="629" font-size="68" text-anchor="middle">(b)</text>
</g>
<g transform="translate(924.5,465) scale(1)">
<path d="M0 -35C20 -33 35 -18 35 0C35 19 20 33 0 35C-20 33 -35 19 -35 0C-35 -18 -20 -33 0 -35Z" fill="url(#sg)"/>
<path d="M0 -35C20 -33 35 -18 35 0C35 19 20 33 0 35C-20 33 -35 19 -35 0C-35 -18 -20 -33 0 -35Z" fill="url(#sgs)"/>
<ellipse cx="-14" cy="9.5" rx="10" ry="9" fill="url(#hl)"/>
<ellipse cx="15" cy="-10.5" rx="9" ry="8" fill="url(#hl2)"/>
<ellipse cx="0" cy="0" rx="34" ry="24.5" fill="none" stroke="#5c5ce2" stroke-width="2" opacity=".9"/>
<path d="M-34 2Q0 36 34 2" fill="none" stroke="#6a6ae0" stroke-width="1.4" opacity=".55"/>
<path d="M0.5 -34.5V34.5" fill="none" stroke="#6060e4" stroke-width="2.6" opacity=".9"/>
<path d="M5.5 -33Q7.5 0 5.5 33" fill="none" stroke="#8080e8" stroke-width="1.2" opacity=".7"/>
<ellipse cx="1.5" cy="-25" rx="2.4" ry="1.7" fill="#b4b4ee" stroke="#5252e4" stroke-width="1.6"/>
</g>
<g transform="translate(1007,465) scale(1)">
<path d="M0 -35C20 -33 35 -18 35 0C35 19 20 33 0 35C-20 33 -35 19 -35 0C-35 -18 -20 -33 0 -35Z" fill="url(#sg)"/>
<path d="M0 -35C20 -33 35 -18 35 0C35 19 20 33 0 35C-20 33 -35 19 -35 0C-35 -18 -20 -33 0 -35Z" fill="url(#sgs)"/>
<ellipse cx="-14" cy="9.5" rx="10" ry="9" fill="url(#hl)"/>
<ellipse cx="15" cy="-10.5" rx="9" ry="8" fill="url(#hl2)"/>
<ellipse cx="0" cy="0" rx="34" ry="24.5" fill="none" stroke="#5c5ce2" stroke-width="2" opacity=".9"/>
<path d="M-34 2Q0 36 34 2" fill="none" stroke="#6a6ae0" stroke-width="1.4" opacity=".55"/>
<path d="M0.5 -34.5V34.5" fill="none" stroke="#6060e4" stroke-width="2.6" opacity=".9"/>
<path d="M5.5 -33Q7.5 0 5.5 33" fill="none" stroke="#8080e8" stroke-width="1.2" opacity=".7"/>
<ellipse cx="1.5" cy="-25" rx="3" ry="2.1" fill="#b4b4ee" stroke="#5252e4" stroke-width="1.6"/>
</g>
<g transform="translate(1089,465) scale(1)">
<path d="M0 -35C20 -33 35 -18 35 0C35 19 20 33 0 35C-20 33 -35 19 -35 0C-35 -18 -20 -33 0 -35Z" fill="url(#sg)"/>
<path d="M0 -35C20 -33 35 -18 35 0C35 19 20 33 0 35C-20 33 -35 19 -35 0C-35 -18 -20 -33 0 -35Z" fill="url(#sgs)"/>
<ellipse cx="-14" cy="9.5" rx="10" ry="9" fill="url(#hl)"/>
<ellipse cx="15" cy="-10.5" rx="9" ry="8" fill="url(#hl2)"/>
<ellipse cx="0" cy="0" rx="34" ry="24.5" fill="none" stroke="#5c5ce2" stroke-width="2" opacity=".9"/>
<path d="M-34 2Q0 36 34 2" fill="none" stroke="#6a6ae0" stroke-width="1.4" opacity=".55"/>
<path d="M0.5 -34.5V34.5" fill="none" stroke="#6060e4" stroke-width="2.6" opacity=".9"/>
<path d="M5.5 -33Q7.5 0 5.5 33" fill="none" stroke="#8080e8" stroke-width="1.2" opacity=".7"/>
<ellipse cx="1.5" cy="-25" rx="3.5" ry="2.4" fill="#b4b4ee" stroke="#5252e4" stroke-width="1.6"/>
</g>
<g transform="translate(1170,465) scale(1)">
<path d="M0 -35C20 -33 35 -18 35 0C35 19 20 33 0 35C-20 33 -35 19 -35 0C-35 -18 -20 -33 0 -35Z" fill="url(#sg)"/>
<path d="M0 -35C20 -33 35 -18 35 0C35 19 20 33 0 35C-20 33 -35 19 -35 0C-35 -18 -20 -33 0 -35Z" fill="url(#sgs)"/>
<ellipse cx="-14" cy="9.5" rx="10" ry="9" fill="url(#hl)"/>
<ellipse cx="15" cy="-10.5" rx="9" ry="8" fill="url(#hl2)"/>
<ellipse cx="0" cy="0" rx="34" ry="24.5" fill="none" stroke="#5c5ce2" stroke-width="2" opacity=".9"/>
<path d="M-34 2Q0 36 34 2" fill="none" stroke="#6a6ae0" stroke-width="1.4" opacity=".55"/>
<path d="M0.5 -34.5V34.5" fill="none" stroke="#6060e4" stroke-width="2.6" opacity=".9"/>
<path d="M5.5 -33Q7.5 0 5.5 33" fill="none" stroke="#8080e8" stroke-width="1.2" opacity=".7"/>
<ellipse cx="1.5" cy="-25" rx="4" ry="2.8" fill="#b4b4ee" stroke="#5252e4" stroke-width="1.6"/>
</g>
<g transform="translate(1251,463) scale(0.975)">
<path d="M0 -35C20 -33 35 -18 35 0C35 19 20 33 0 35C-20 33 -35 19 -35 0C-35 -18 -20 -33 0 -35Z" fill="url(#sg)"/>
<path d="M0 -35C20 -33 35 -18 35 0C35 19 20 33 0 35C-20 33 -35 19 -35 0C-35 -18 -20 -33 0 -35Z" fill="url(#sgs)"/>
<ellipse cx="-14" cy="9.5" rx="10" ry="9" fill="url(#hl)"/>
<ellipse cx="15" cy="-10.5" rx="9" ry="8" fill="url(#hl2)"/>
<ellipse cx="0" cy="0" rx="34" ry="24.5" fill="none" stroke="#5c5ce2" stroke-width="2" opacity=".9"/>
<path d="M-34 2Q0 36 34 2" fill="none" stroke="#6a6ae0" stroke-width="1.4" opacity=".55"/>
<path d="M0.5 -34.5V34.5" fill="none" stroke="#6060e4" stroke-width="2.6" opacity=".9"/>
<path d="M5.5 -33Q7.5 0 5.5 33" fill="none" stroke="#8080e8" stroke-width="1.2" opacity=".7"/>
<ellipse cx="1.5" cy="-25" rx="4.6" ry="3.1" fill="#b4b4ee" stroke="#5252e4" stroke-width="1.6"/>
</g>
<g transform="translate(1331.5,463) scale(0.975)">
<path d="M0 -35C20 -33 35 -18 35 0C35 19 20 33 0 35C-20 33 -35 19 -35 0C-35 -18 -20 -33 0 -35Z" fill="url(#sg)"/>
<path d="M0 -35C20 -33 35 -18 35 0C35 19 20 33 0 35C-20 33 -35 19 -35 0C-35 -18 -20 -33 0 -35Z" fill="url(#sgs)"/>
<ellipse cx="-14" cy="9.5" rx="10" ry="9" fill="url(#hl)"/>
<ellipse cx="15" cy="-10.5" rx="9" ry="8" fill="url(#hl2)"/>
<ellipse cx="0" cy="0" rx="34" ry="24.5" fill="none" stroke="#5c5ce2" stroke-width="2" opacity=".9"/>
<path d="M-34 2Q0 36 34 2" fill="none" stroke="#6a6ae0" stroke-width="1.4" opacity=".55"/>
<path d="M0.5 -34.5V34.5" fill="none" stroke="#6060e4" stroke-width="2.6" opacity=".9"/>
<path d="M5.5 -33Q7.5 0 5.5 33" fill="none" stroke="#8080e8" stroke-width="1.2" opacity=".7"/>
<ellipse cx="1.5" cy="-25" rx="5.2" ry="3.4" fill="#b4b4ee" stroke="#5252e4" stroke-width="1.6"/>
</g>
<g transform="translate(1411,463) scale(0.975)">
<path d="M0 -35C20 -33 35 -18 35 0C35 19 20 33 0 35C-20 33 -35 19 -35 0C-35 -18 -20 -33 0 -35Z" fill="url(#sg)"/>
<path d="M0 -35C20 -33 35 -18 35 0C35 19 20 33 0 35C-20 33 -35 19 -35 0C-35 -18 -20 -33 0 -35Z" fill="url(#sgs)"/>
<ellipse cx="-14" cy="9.5" rx="10" ry="9" fill="url(#hl)"/>
<ellipse cx="15" cy="-10.5" rx="9" ry="8" fill="url(#hl2)"/>
<ellipse cx="0" cy="0" rx="34" ry="24.5" fill="none" stroke="#5c5ce2" stroke-width="2" opacity=".9"/>
<path d="M-34 2Q0 36 34 2" fill="none" stroke="#6a6ae0" stroke-width="1.4" opacity=".55"/>
<path d="M0.5 -34.5V34.5" fill="none" stroke="#6060e4" stroke-width="2.6" opacity=".9"/>
<path d="M5.5 -33Q7.5 0 5.5 33" fill="none" stroke="#8080e8" stroke-width="1.2" opacity=".7"/>
<ellipse cx="1.5" cy="-25" rx="5.7" ry="3.8" fill="#b4b4ee" stroke="#5252e4" stroke-width="1.6"/>
</g>
<g transform="translate(1489.5,463) scale(0.975)">
<path d="M0 -35C20 -33 35 -18 35 0C35 19 20 33 0 35C-20 33 -35 19 -35 0C-35 -18 -20 -33 0 -35Z" fill="url(#sg)"/>
<path d="M0 -35C20 -33 35 -18 35 0C35 19 20 33 0 35C-20 33 -35 19 -35 0C-35 -18 -20 -33 0 -35Z" fill="url(#sgs)"/>
<ellipse cx="-14" cy="9.5" rx="10" ry="9" fill="url(#hl)"/>
<ellipse cx="15" cy="-10.5" rx="9" ry="8" fill="url(#hl2)"/>
<ellipse cx="0" cy="0" rx="34" ry="24.5" fill="none" stroke="#5c5ce2" stroke-width="2" opacity=".9"/>
<path d="M-34 2Q0 36 34 2" fill="none" stroke="#6a6ae0" stroke-width="1.4" opacity=".55"/>
<path d="M0.5 -34.5V34.5" fill="none" stroke="#6060e4" stroke-width="2.6" opacity=".9"/>
<path d="M5.5 -33Q7.5 0 5.5 33" fill="none" stroke="#8080e8" stroke-width="1.2" opacity=".7"/>
<ellipse cx="1.5" cy="-25" rx="6.3" ry="4.1" fill="#b4b4ee" stroke="#5252e4" stroke-width="1.6"/>
</g>
</g>
<g id="pc">
<clipPath id="cpc"><rect x="65.5" y="698" width="626.5" height="450"/></clipPath>
<g clip-path="url(#cpc)"><g transform="translate(57.5,692) scale(4)" fill="none" stroke-width="1.25" filter="url(#bl)">
<path stroke="#0003e8" d="M8 16h4M47 16h4M86 16h4M125 16h4M9 17h4M48 17h4M87 17h4M126 17h5M11 18h2M50 18h2M90 18h1M129 18h1M71 54h1M110 54h1M28 75h3M67 75h3M106 75h3M145 75h3M28 76h5M67 76h5M106 76h5M146 76h5M29 77h5M68 77h5M108 77h4M147 77h5M32 78h1M71 78h2M111 78h1M150 78h1"/>
<path stroke="#0008f6" d="M6 15h5M45 15h5M84 15h5M123 15h6M6 16h2M12 16h1M45 16h2M51 16h1M85 16h1M90 16h1M124 16h1M129 16h2M7 17h2M13 17h1M47 17h1M52 17h1M86 17h1M91 17h2M125 17h1M131 17h1M9 18h2M13 18h2M48 18h2M52 18h2M88 18h2M91 18h2M127 18h2M130 18h2M29 53h4M68 53h4M108 53h4M147 53h4M30 54h5M69 54h2M72 54h2M108 54h2M111 54h2M147 54h6M31 55h5M70 55h5M110 55h4M149 55h5M34 56h2M74 56h1M113 56h1M152 56h2M27 74h1M66 74h2M106 74h1M145 74h1M26 75h2M31 75h1M65 75h2M70 75h1M105 75h1M109 75h2M144 75h1M148 75h2M27 76h1M33 76h1M66 76h1M72 76h1M105 76h1M111 76h1M144 76h2M151 76h1M28 77h1M34 77h1M67 77h1M73 77h1M106 77h2M112 77h2M146 77h1M152 77h1M30 78h2M33 78h2M69 78h2M73 78h2M108 78h3M112 78h2M148 78h2M151 78h2M25 97h3M65 97h3M104 97h3M143 97h3M26 98h5M65 98h5M104 98h5M144 98h5M27 99h5M66 99h5M106 99h5M145 99h5M29 100h3M68 100h4M108 100h3M147 100h3"/>
<path stroke="#001afb" d="M5 14h4M44 14h4M83 14h4M122 14h5M5 15h1M11 15h1M44 15h1M50 15h1M83 15h1M89 15h2M122 15h1M129 15h1M5 16h1M13 16h1M52 16h1M84 16h1M91 16h1M123 16h1M131 16h1M6 17h1M14 17h1M46 17h1M53 17h1M85 17h1M93 17h1M124 17h1M132 17h1M8 18h1M15 18h1M47 18h1M54 18h1M87 18h1M93 18h1M126 18h1M132 18h1M11 19h5M50 19h5M89 19h5M128 19h5M4 37h3M43 37h3M83 37h3M122 37h3M5 38h5M44 38h5M84 38h4M123 38h4M6 39h5M46 39h5M85 39h5M124 39h5M8 40h4M47 40h4M87 40h3M126 40h4M28 52h4M67 52h4M106 52h4M146 52h4M28 53h1M33 53h1M67 53h1M72 53h2M106 53h2M112 53h1M145 53h2M151 53h1M28 54h2M35 54h1M68 54h1M74 54h1M107 54h1M113 54h1M146 54h1M153 54h1M30 55h1M36 55h1M69 55h1M75 55h1M108 55h2M114 55h2M148 55h1M154 55h1M32 56h2M36 56h2M71 56h3M75 56h2M111 56h2M114 56h2M150 56h2M154 56h2M36 57h1M75 57h2M115 57h1M154 57h1M25 74h2M28 74h3M64 74h2M68 74h2M103 74h3M107 74h2M143 74h2M146 74h2M25 75h1M32 75h1M64 75h1M71 75h1M104 75h1M111 75h1M143 75h1M150 75h1M26 76h1M34 76h1M65 76h1M73 76h1M104 76h1M112 76h1M152 76h1M27 77h1M35 77h1M66 77h1M74 77h1M145 77h1M153 77h1M29 78h1M35 78h2M68 78h1M75 78h1M107 78h1M114 78h1M147 78h1M153 78h1M32 79h4M71 79h5M110 79h5M150 79h4M24 96h3M63 96h3M102 96h3M141 96h4M24 97h1M28 97h2M63 97h2M68 97h1M102 97h2M107 97h2M141 97h2M146 97h2M25 98h1M31 98h1M64 98h1M70 98h1M103 98h1M109 98h2M142 98h2M149 98h1M26 99h1M32 99h1M65 99h1M71 99h2M104 99h2M111 99h1M144 99h1M150 99h1M28 100h1M32 100h2M67 100h1M72 100h1M106 100h2M111 100h1M145 100h2M150 100h2M30 101h3M70 101h3M109 101h3M148 101h3M11 112h1M50 112h1M89 112h1M129 112h1M10 113h5M50 113h4M89 113h4M128 113h4M11 114h5M51 114h5M90 114h5M129 114h5M13 115h5M52 115h5M92 115h4M131 115h4M16 116h2M55 116h2M95 116h2M134 116h2"/>
<path stroke="#0030fc" d="M4 13h2M43 13h2M82 13h2M122 13h2M3 14h2M9 14h1M42 14h2M48 14h2M82 14h1M87 14h2M121 14h1M127 14h1M160 14h1M4 15h1M12 15h1M43 15h1M51 15h1M82 15h1M121 15h1M130 15h1M4 16h1M14 16h1M44 16h1M53 16h1M83 16h1M92 16h1M122 16h1M15 17h1M45 17h1M54 17h1M84 17h1M123 17h1M133 17h1M7 18h1M16 18h1M55 18h1M86 18h1M94 18h1M125 18h1M133 18h1M10 19h1M16 19h1M49 19h1M55 19h1M88 19h1M94 19h1M127 19h1M133 19h2M14 20h1M53 20h2M92 20h2M131 20h2M32 31h2M71 31h3M110 31h3M149 31h3M33 32h3M72 32h3M111 32h4M150 32h4M34 33h4M74 33h3M113 33h3M152 33h3M37 34h3M76 34h3M115 34h3M155 34h2M0 35h3M39 35h3M78 35h3M117 35h4M157 35h3M1 36h5M40 36h5M80 36h5M119 36h5M158 36h3M2 37h2M7 37h2M42 37h1M46 37h2M81 37h2M86 37h1M120 37h2M125 37h2M159 37h2M4 38h1M10 38h1M43 38h1M49 38h1M82 38h2M88 38h2M121 38h2M127 38h2M5 39h1M11 39h1M44 39h2M51 39h1M84 39h1M90 39h1M123 39h1M129 39h1M7 40h1M12 40h1M46 40h1M51 40h2M85 40h2M90 40h2M125 40h1M130 40h1M9 41h4M48 41h5M87 41h5M127 41h4M28 51h2M67 51h2M106 51h2M145 51h2M27 52h1M32 52h1M66 52h1M71 52h1M105 52h1M110 52h2M144 52h2M150 52h1M27 53h1M34 53h1M66 53h1M74 53h1M105 53h1M113 53h1M152 53h1M36 54h1M67 54h1M75 54h1M106 54h1M114 54h1M145 54h1M154 54h1M29 55h1M37 55h1M68 55h1M76 55h1M107 55h1M116 55h1M147 55h1M155 55h1M31 56h1M38 56h1M70 56h1M77 56h1M109 56h2M116 56h2M149 56h1M156 56h1M0 57h1M34 57h2M37 57h3M73 57h2M77 57h2M112 57h3M116 57h2M152 57h2M155 57h3M78 58h1M117 58h1M156 58h1M25 73h3M64 73h3M103 73h4M142 73h4M24 74h1M31 74h1M63 74h1M70 74h1M102 74h1M109 74h1M142 74h1M148 74h1M24 75h1M33 75h1M63 75h1M72 75h1M103 75h1M112 75h1M142 75h1M151 75h1M25 76h1M35 76h1M64 76h1M74 76h1M113 76h1M143 76h1M26 77h1M36 77h1M75 77h1M105 77h1M114 77h1M144 77h1M28 78h1M67 78h1M76 78h1M106 78h1M115 78h1M146 78h1M154 78h1M30 79h2M36 79h2M70 79h1M76 79h1M109 79h1M115 79h1M148 79h2M154 79h1M22 95h3M61 95h3M100 95h3M139 95h3M22 96h2M27 96h2M61 96h2M66 96h2M100 96h2M105 96h2M140 96h1M145 96h1M23 97h1M30 97h1M62 97h1M69 97h1M101 97h1M109 97h1M140 97h1M148 97h1M24 98h1M32 98h1M63 98h1M71 98h1M102 98h1M141 98h1M150 98h1M25 99h1M33 99h1M64 99h1M112 99h1M143 99h1M151 99h1M27 100h1M34 100h1M66 100h1M73 100h1M105 100h1M112 100h1M144 100h1M152 100h1M29 101h1M33 101h2M68 101h2M73 101h1M107 101h2M112 101h1M147 101h1M151 101h2M9 112h2M12 112h2M48 112h2M51 112h2M87 112h2M90 112h2M126 112h3M130 112h2M9 113h1M15 113h1M48 113h2M54 113h1M88 113h1M93 113h1M127 113h1M132 113h2M10 114h1M16 114h2M49 114h2M56 114h1M89 114h1M95 114h1M128 114h1M134 114h1M12 115h1M18 115h1M51 115h1M57 115h1M90 115h2M96 115h1M129 115h2M135 115h2M14 116h2M18 116h2M53 116h2M57 116h2M92 116h3M97 116h2M132 116h2M136 116h2"/>
<path stroke="#0046fe" d="M2 13h2M6 13h2M41 13h2M45 13h2M80 13h2M84 13h3M119 13h3M124 13h2M159 13h2M2 14h1M10 14h1M41 14h1M50 14h1M81 14h1M89 14h1M120 14h1M128 14h1M159 14h1M3 15h1M13 15h1M42 15h1M52 15h1M81 15h1M91 15h1M160 15h1M43 16h1M54 16h1M82 16h1M93 16h1M132 16h1M5 17h1M16 17h1M44 17h1M55 17h1M83 17h1M94 17h1M46 18h1M56 18h1M85 18h1M95 18h1M124 18h1M134 18h1M9 19h1M17 19h1M48 19h1M56 19h1M87 19h1M95 19h1M126 19h1M12 20h2M15 20h2M51 20h2M55 20h2M90 20h2M94 20h2M129 20h2M133 20h2M30 29h2M69 29h2M108 29h2M147 29h2M29 30h5M69 30h4M108 30h5M147 30h5M30 31h2M34 31h2M69 31h2M74 31h1M108 31h2M113 31h2M148 31h1M152 31h2M31 32h2M36 32h2M70 32h2M75 32h2M110 32h1M115 32h1M149 32h1M154 32h1M33 33h1M38 33h1M72 33h2M77 33h2M111 33h2M116 33h2M151 33h1M155 33h2M0 34h2M35 34h2M40 34h2M74 34h2M79 34h2M113 34h2M118 34h2M153 34h2M157 34h2M3 35h2M37 35h2M42 35h2M76 35h2M81 35h2M115 35h2M121 35h2M155 35h2M160 35h1M0 36h1M6 36h2M39 36h1M45 36h2M78 36h2M85 36h1M117 36h2M124 36h1M157 36h1M1 37h1M9 37h1M40 37h2M48 37h1M80 37h1M87 37h2M119 37h1M127 37h1M158 37h1M3 38h1M11 38h1M42 38h1M50 38h1M81 38h1M90 38h1M120 38h1M129 38h1M160 38h1M4 39h1M12 39h1M43 39h1M52 39h1M83 39h1M91 39h1M122 39h1M130 39h1M6 40h1M13 40h1M45 40h1M53 40h1M84 40h1M92 40h1M124 40h1M131 40h1M8 41h1M13 41h2M47 41h1M53 41h1M86 41h1M92 41h1M125 41h2M131 41h1M10 42h4M50 42h4M89 42h4M128 42h4M26 51h2M30 51h2M65 51h2M69 51h2M104 51h2M108 51h2M144 51h1M147 51h2M26 52h1M33 52h1M65 52h1M72 52h1M104 52h1M112 52h1M143 52h1M151 52h1M26 53h1M35 53h1M65 53h1M114 53h1M144 53h1M153 53h1M27 54h1M37 54h1M66 54h1M76 54h1M105 54h1M115 54h1M28 55h1M38 55h1M67 55h1M77 55h1M146 55h1M156 55h1M0 56h1M30 56h1M39 56h1M69 56h1M78 56h1M108 56h1M118 56h1M148 56h1M157 56h1M1 57h1M33 57h1M40 57h1M72 57h1M79 57h1M111 57h1M118 57h2M150 57h2M158 57h1M0 58h3M36 58h6M75 58h3M79 58h2M114 58h3M118 58h3M154 58h2M157 58h3M1 59h3M40 59h3M79 59h3M118 59h3M158 59h3M23 73h2M28 73h2M62 73h2M67 73h2M101 73h2M107 73h1M141 73h1M146 73h1M23 74h1M32 74h1M62 74h1M71 74h1M101 74h1M110 74h1M141 74h1M149 74h1M34 75h1M73 75h1M102 75h1M141 75h1M24 76h1M75 76h1M103 76h1M114 76h1M142 76h1M153 76h1M65 77h1M76 77h1M104 77h1M115 77h1M143 77h1M154 77h1M27 78h1M37 78h1M66 78h1M116 78h1M145 78h1M155 78h1M29 79h1M38 79h1M69 79h1M77 79h1M108 79h1M116 79h1M147 79h1M155 79h1M33 80h5M72 80h6M111 80h6M151 80h5M19 94h4M58 94h4M97 94h4M136 94h4M20 95h2M25 95h1M59 95h2M64 95h2M98 95h2M103 95h2M137 95h2M142 95h2M21 96h1M29 96h1M60 96h1M68 96h1M99 96h1M107 96h1M138 96h2M146 96h1M22 97h1M31 97h1M61 97h1M70 97h1M100 97h1M110 97h1M139 97h1M149 97h1M23 98h1M33 98h1M62 98h1M72 98h1M101 98h1M111 98h1M24 99h1M34 99h1M73 99h1M103 99h1M142 99h1M152 99h1M26 100h1M35 100h1M65 100h1M74 100h1M104 100h1M113 100h1M28 101h1M35 101h1M67 101h1M74 101h1M106 101h1M113 101h1M146 101h1M153 101h1M31 102h4M70 102h5M109 102h5M149 102h4M8 111h5M47 111h5M86 111h5M125 111h5M8 112h1M14 112h1M47 112h1M53 112h1M86 112h1M92 112h2M125 112h1M132 112h1M8 113h1M16 113h1M47 113h1M55 113h1M87 113h1M94 113h1M126 113h1M134 113h1M9 114h1M48 114h1M57 114h1M88 114h1M96 114h1M127 114h1M135 114h1M11 115h1M19 115h1M50 115h1M58 115h1M89 115h1M97 115h1M128 115h1M137 115h1M13 116h1M20 116h1M52 116h1M59 116h2M91 116h1M99 116h1M131 116h1M138 116h1"/>
<path stroke="#005cff" d="M0 12h5M39 12h6M79 12h5M118 12h5M157 12h4M1 13h1M8 13h1M40 13h1M47 13h2M79 13h1M87 13h1M118 13h1M126 13h1M158 13h1M1 14h1M11 14h1M40 14h1M51 14h1M80 14h1M90 14h1M119 14h1M129 14h1M158 14h1M2 15h1M41 15h1M53 15h1M92 15h1M120 15h1M131 15h1M159 15h1M3 16h1M15 16h1M42 16h1M94 16h1M121 16h1M133 16h1M160 16h1M4 17h1M95 17h1M122 17h1M134 17h1M6 18h1M17 18h1M45 18h1M84 18h1M135 18h1M8 19h1M47 19h1M57 19h1M86 19h1M96 19h1M135 19h1M10 20h2M17 20h2M50 20h1M57 20h1M89 20h1M96 20h1M128 20h1M135 20h1M15 21h2M54 21h3M93 21h3M133 21h2M28 28h2M68 28h2M107 28h2M146 28h2M28 29h2M32 29h1M67 29h2M71 29h2M106 29h2M110 29h2M146 29h1M149 29h2M28 30h1M34 30h1M67 30h2M73 30h2M107 30h1M113 30h1M146 30h1M152 30h1M29 31h1M36 31h1M68 31h1M75 31h1M107 31h1M115 31h1M147 31h1M154 31h1M30 32h1M38 32h1M69 32h1M77 32h1M109 32h1M116 32h1M148 32h1M155 32h2M0 33h1M32 33h1M39 33h2M71 33h1M79 33h1M110 33h1M118 33h1M149 33h2M157 33h1M2 34h1M34 34h1M42 34h1M73 34h1M81 34h1M112 34h1M120 34h1M151 34h2M159 34h1M5 35h1M36 35h1M44 35h1M75 35h1M83 35h2M114 35h1M123 35h1M153 35h2M8 36h1M38 36h1M47 36h1M77 36h1M86 36h1M116 36h1M125 36h1M155 36h2M0 37h1M10 37h1M49 37h1M79 37h1M89 37h1M118 37h1M128 37h1M157 37h1M2 38h1M12 38h1M41 38h1M51 38h1M80 38h1M130 38h1M159 38h1M3 39h1M13 39h1M82 39h1M92 39h1M121 39h1M131 39h1M160 39h1M5 40h1M14 40h1M44 40h1M93 40h1M123 40h1M132 40h1M7 41h1M15 41h1M46 41h1M54 41h1M85 41h1M93 41h1M132 41h1M9 42h1M14 42h2M48 42h2M54 42h1M88 42h1M93 42h1M127 42h1M132 42h1M13 43h2M52 43h2M91 43h2M131 43h1M26 50h3M65 50h3M104 50h3M143 50h4M25 51h1M32 51h1M64 51h1M71 51h1M103 51h1M110 51h1M142 51h2M149 51h1M25 52h1M34 52h1M64 52h1M73 52h1M103 52h1M152 52h1M25 53h1M36 53h1M75 53h1M104 53h1M143 53h1M154 53h1M26 54h1M65 54h1M77 54h1M116 54h1M144 54h1M155 54h1M27 55h1M39 55h1M78 55h1M106 55h1M117 55h1M145 55h1M1 56h1M29 56h1M40 56h1M68 56h1M79 56h1M147 56h1M158 56h1M2 57h1M32 57h1M41 57h1M71 57h1M80 57h1M110 57h1M120 57h1M149 57h1M159 57h1M3 58h1M35 58h1M42 58h1M74 58h1M81 58h2M113 58h1M121 58h1M152 58h2M160 58h1M0 59h1M4 59h2M38 59h2M43 59h2M77 59h2M82 59h2M116 59h2M121 59h2M156 59h2M2 60h5M41 60h6M80 60h6M119 60h6M159 60h2M4 61h5M43 61h5M82 61h5M121 61h6M5 62h5M45 62h5M84 62h5M123 62h5M7 63h4M46 63h5M86 63h4M125 63h4M9 64h3M48 64h3M87 64h4M127 64h3M22 72h5M61 72h5M101 72h4M140 72h4M22 73h1M30 73h1M61 73h1M69 73h1M100 73h1M108 73h1M140 73h1M147 73h1M22 74h1M61 74h1M72 74h1M111 74h1M140 74h1M150 74h1M23 75h1M62 75h1M74 75h1M101 75h1M113 75h1M152 75h1M36 76h1M63 76h1M102 76h1M154 76h1M25 77h1M37 77h1M64 77h1M103 77h1M116 77h1M155 77h1M38 78h1M77 78h1M105 78h1M144 78h1M156 78h1M68 79h1M78 79h1M107 79h1M117 79h1M146 79h1M156 79h1M32 80h1M38 80h2M71 80h1M78 80h1M110 80h1M117 80h1M149 80h2M156 80h1M36 81h3M76 81h2M115 81h2M154 81h3M10 88h1M50 88h1M89 88h1M128 88h1M10 89h4M50 89h3M89 89h3M128 89h4M11 90h5M50 90h5M90 90h4M129 90h4M12 91h5M51 91h5M91 91h5M130 91h5M14 92h5M53 92h5M92 92h6M131 92h6M15 93h6M55 93h6M94 93h6M133 93h6M17 94h2M23 94h1M56 94h2M62 94h2M96 94h1M101 94h2M135 94h1M140 94h2M18 95h2M26 95h2M58 95h1M66 95h1M97 95h1M105 95h1M136 95h1M144 95h1M20 96h1M30 96h1M59 96h1M69 96h1M98 96h1M108 96h1M137 96h1M147 96h1M21 97h1M32 97h1M60 97h1M71 97h1M99 97h1M150 97h1M22 98h1M61 98h1M73 98h1M112 98h1M140 98h1M151 98h1M35 99h1M63 99h1M74 99h1M102 99h1M113 99h1M141 99h1M25 100h1M64 100h1M75 100h1M114 100h1M143 100h1M153 100h1M27 101h1M36 101h1M66 101h1M75 101h1M114 101h1M145 101h1M30 102h1M35 102h2M69 102h1M75 102h1M108 102h1M114 102h1M147 102h2M153 102h1M7 110h4M46 110h4M86 110h3M125 110h4M7 111h1M13 111h1M46 111h1M52 111h1M85 111h1M91 111h1M124 111h1M130 111h2M7 112h1M15 112h1M46 112h1M54 112h1M85 112h1M133 112h1M7 113h1M17 113h1M56 113h1M86 113h1M95 113h1M125 113h1M8 114h1M18 114h1M87 114h1M97 114h1M126 114h1M136 114h1M10 115h1M20 115h1M49 115h1M59 115h1M88 115h1M98 115h1M138 115h1M12 116h1M21 116h1M51 116h1M61 116h1M90 116h1M100 116h1M130 116h1M139 116h1"/>
<path stroke="#0074ff" d="M19 0h6M59 0h5M98 0h5M137 0h5M23 1h3M62 1h3M101 1h3M140 1h3M25 2h2M64 2h3M103 2h3M142 2h3M26 3h3M65 3h4M104 3h4M144 3h3M27 4h4M66 4h4M105 4h4M145 4h4M28 5h4M67 5h5M107 5h4M146 5h4M29 6h4M68 6h5M108 6h4M147 6h4M31 7h4M70 7h4M109 7h4M148 7h4M32 8h4M71 8h4M111 8h3M150 8h3M34 9h3M73 9h3M113 9h2M152 9h3M36 10h3M75 10h3M114 10h3M154 10h3M0 11h3M37 11h5M76 11h5M115 11h6M155 11h5M5 12h2M38 12h1M45 12h1M77 12h2M84 12h1M116 12h2M123 12h2M156 12h1M0 13h1M9 13h1M39 13h1M49 13h1M78 13h1M88 13h1M117 13h1M127 13h1M157 13h1M0 14h1M12 14h1M79 14h1M91 14h1M118 14h1M130 14h1M157 14h1M1 15h1M14 15h1M80 15h1M93 15h1M119 15h1M132 15h1M158 15h1M2 16h1M16 16h1M55 16h1M81 16h1M120 16h1M159 16h1M17 17h1M43 17h1M56 17h1M82 17h1M135 17h1M5 18h1M18 18h1M57 18h1M96 18h1M123 18h1M7 19h1M18 19h1M46 19h1M97 19h1M125 19h1M136 19h1M49 20h1M58 20h1M88 20h1M97 20h1M127 20h1M136 20h1M13 21h2M17 21h2M52 21h2M57 21h2M91 21h2M96 21h2M131 21h2M135 21h2M28 27h1M67 27h1M106 27h1M145 27h1M27 28h1M30 28h2M66 28h2M70 28h2M105 28h2M109 28h2M144 28h2M148 28h2M27 29h1M33 29h1M66 29h1M73 29h1M105 29h1M112 29h1M145 29h1M151 29h1M27 30h1M35 30h1M75 30h1M106 30h1M114 30h1M145 30h1M153 30h1M28 31h1M37 31h1M67 31h1M76 31h1M146 31h1M155 31h1M29 32h1M39 32h1M68 32h1M78 32h1M108 32h1M117 32h1M147 32h1M1 33h1M31 33h1M41 33h1M70 33h1M80 33h1M109 33h1M119 33h1M148 33h1M158 33h1M3 34h1M33 34h1M43 34h1M72 34h1M82 34h1M111 34h1M121 34h1M150 34h1M160 34h1M6 35h1M35 35h1M45 35h1M74 35h1M85 35h1M113 35h1M124 35h1M152 35h1M9 36h1M37 36h1M48 36h1M76 36h1M87 36h1M115 36h1M126 36h1M11 37h1M39 37h1M50 37h1M78 37h1M117 37h1M129 37h1M156 37h1M1 38h1M13 38h1M40 38h1M52 38h1M91 38h1M119 38h1M158 38h1M14 39h1M42 39h1M53 39h1M81 39h1M120 39h1M132 39h1M4 40h1M15 40h1M54 40h1M83 40h1M122 40h1M133 40h1M6 41h1M45 41h1M55 41h1M94 41h1M124 41h1M133 41h1M8 42h1M16 42h1M47 42h1M55 42h1M87 42h1M94 42h1M126 42h1M133 42h1M11 43h2M15 43h1M50 43h2M54 43h2M89 43h2M93 43h2M129 43h2M132 43h2M24 50h2M29 50h2M63 50h2M68 50h2M103 50h1M107 50h2M142 50h1M147 50h1M24 51h1M63 51h1M72 51h1M102 51h1M111 51h1M150 51h1M24 52h1M35 52h1M63 52h1M74 52h1M113 52h1M142 52h1M64 53h1M76 53h1M103 53h1M115 53h1M142 53h1M38 54h1M104 54h1M143 54h1M156 54h1M0 55h1M66 55h1M79 55h1M105 55h1M118 55h1M144 55h1M157 55h1M28 56h1M41 56h1M80 56h1M107 56h1M119 56h1M146 56h1M3 57h1M31 57h1M42 57h1M70 57h1M81 57h1M109 57h1M121 57h1M148 57h1M160 57h1M4 58h1M34 58h1M43 58h1M73 58h1M83 58h1M112 58h1M122 58h1M151 58h1M6 59h1M37 59h1M45 59h1M76 59h1M84 59h1M115 59h1M123 59h2M154 59h2M0 60h2M7 60h2M39 60h2M47 60h1M79 60h1M86 60h1M118 60h1M125 60h1M157 60h2M2 61h2M9 61h1M42 61h1M48 61h1M81 61h1M87 61h2M120 61h1M127 61h1M159 61h2M4 62h1M10 62h2M43 62h2M50 62h1M83 62h1M89 62h1M122 62h1M128 62h1M6 63h1M11 63h2M45 63h1M51 63h1M84 63h2M90 63h1M124 63h1M129 63h1M7 64h2M12 64h2M47 64h1M51 64h2M86 64h1M91 64h1M125 64h2M130 64h1M9 65h5M48 65h5M88 65h5M127 65h5M11 66h3M51 66h2M90 66h3M129 66h3M22 71h1M61 71h1M100 71h1M139 71h1M21 72h1M27 72h1M60 72h1M66 72h1M99 72h2M105 72h2M138 72h2M144 72h2M21 73h1M31 73h1M60 73h1M70 73h1M99 73h1M109 73h1M139 73h1M148 73h1M21 74h1M33 74h1M100 74h1M112 74h1M139 74h1M151 74h1M22 75h1M35 75h1M61 75h1M114 75h1M140 75h1M153 75h1M23 76h1M62 76h1M76 76h1M115 76h1M141 76h1M24 77h1M38 77h1M77 77h1M142 77h1M26 78h1M65 78h1M78 78h1M104 78h1M117 78h1M0 79h1M28 79h1M39 79h1M67 79h1M106 79h1M118 79h1M157 79h1M0 80h1M31 80h1M40 80h1M70 80h1M79 80h1M109 80h1M118 80h1M148 80h1M157 80h1M0 81h2M34 81h2M39 81h2M74 81h2M78 81h2M113 81h2M117 81h2M152 81h2M157 81h2M8 87h3M47 87h4M86 87h4M126 87h3M8 88h2M11 88h3M48 88h2M51 88h2M87 88h2M90 88h2M126 88h2M129 88h2M9 89h1M14 89h1M48 89h2M53 89h1M87 89h2M92 89h2M127 89h1M132 89h1M10 90h1M16 90h1M49 90h1M55 90h1M88 90h2M94 90h1M128 90h1M133 90h2M11 91h1M17 91h1M50 91h1M56 91h2M89 91h2M96 91h1M129 91h1M135 91h1M12 92h2M19 92h1M52 92h1M58 92h2M91 92h1M98 92h1M130 92h1M137 92h1M14 93h1M21 93h2M53 93h2M61 93h1M93 93h1M100 93h1M132 93h1M139 93h1M16 94h1M24 94h2M55 94h1M64 94h1M94 94h2M103 94h1M134 94h1M142 94h1M17 95h1M28 95h1M57 95h1M67 95h1M96 95h1M106 95h1M135 95h1M145 95h1M19 96h1M58 96h1M70 96h1M97 96h1M109 96h1M148 96h1M20 97h1M33 97h1M59 97h1M72 97h1M111 97h1M138 97h1M34 98h1M100 98h1M113 98h1M139 98h1M152 98h1M23 99h1M62 99h1M101 99h1M114 99h1M153 99h1M36 100h1M103 100h1M142 100h1M154 100h1M26 101h1M76 101h1M105 101h1M115 101h1M144 101h1M154 101h1M29 102h1M37 102h1M68 102h1M76 102h1M107 102h1M115 102h1M146 102h1M154 102h1M32 103h5M71 103h6M110 103h6M150 103h5M6 110h1M11 110h1M45 110h1M50 110h1M84 110h2M89 110h2M123 110h2M129 110h1M6 111h1M14 111h1M45 111h1M53 111h1M84 111h1M92 111h1M123 111h1M6 112h1M16 112h1M45 112h1M55 112h1M94 112h1M124 112h1M46 113h1M57 113h1M85 113h1M96 113h1M124 113h1M135 113h1M19 114h1M47 114h1M58 114h1M86 114h1M125 114h1M137 114h1M9 115h1M21 115h1M48 115h1M60 115h1M99 115h1M127 115h1M11 116h1M22 116h1M50 116h1M62 116h1M89 116h1M101 116h1M129 116h1M140 116h1"/>
<path stroke="#008cff" d="M18 0h1M25 0h1M57 0h2M64 0h1M96 0h2M103 0h2M136 0h1M142 0h2M21 1h2M26 1h2M60 1h2M65 1h2M99 1h2M104 1h2M139 1h1M143 1h2M23 2h2M27 2h2M62 2h2M67 2h1M101 2h2M106 2h2M141 2h1M145 2h2M24 3h2M29 3h2M64 3h1M69 3h1M103 3h1M108 3h1M142 3h2M147 3h2M26 4h1M31 4h1M65 4h1M70 4h2M104 4h1M109 4h2M143 4h2M149 4h1M27 5h1M32 5h2M66 5h1M72 5h1M105 5h2M111 5h1M145 5h1M150 5h1M28 6h1M33 6h2M67 6h1M73 6h1M106 6h2M112 6h1M146 6h1M151 6h1M29 7h2M35 7h1M68 7h2M74 7h1M108 7h1M113 7h1M147 7h1M152 7h2M31 8h1M36 8h1M70 8h1M75 8h1M109 8h2M114 8h2M148 8h2M153 8h2M32 9h2M37 9h2M72 9h1M76 9h2M111 9h2M115 9h2M150 9h2M155 9h1M0 10h1M34 10h2M39 10h2M73 10h2M78 10h2M112 10h2M117 10h2M152 10h2M157 10h1M3 11h1M35 11h2M42 11h2M75 11h1M81 11h2M114 11h1M121 11h1M153 11h2M160 11h1M7 12h1M37 12h1M46 12h1M76 12h1M85 12h1M115 12h1M125 12h1M155 12h1M10 13h1M38 13h1M77 13h1M89 13h1M116 13h1M128 13h1M156 13h1M13 14h1M39 14h1M52 14h1M78 14h1M117 14h1M131 14h1M15 15h1M40 15h1M54 15h1M79 15h1M133 15h1M41 16h1M80 16h1M95 16h1M134 16h1M3 17h1M42 17h1M57 17h1M96 17h1M121 17h1M160 17h1M44 18h1M83 18h1M97 18h1M122 18h1M136 18h1M6 19h1M19 19h1M58 19h1M85 19h1M124 19h1M137 19h1M9 20h1M19 20h1M48 20h1M59 20h1M87 20h1M98 20h1M137 20h1M12 21h1M19 21h1M51 21h1M59 21h1M90 21h1M98 21h1M130 21h1M137 21h1M16 22h4M55 22h4M95 22h4M134 22h4M25 27h3M29 27h2M65 27h2M68 27h2M104 27h2M107 27h2M143 27h2M146 27h3M26 28h1M32 28h1M65 28h1M72 28h1M104 28h1M111 28h1M143 28h1M150 28h1M26 29h1M34 29h1M65 29h1M74 29h1M104 29h1M113 29h1M144 29h1M152 29h1M36 30h1M66 30h1M105 30h1M115 30h1M144 30h1M154 30h1M27 31h1M38 31h1M77 31h1M106 31h1M116 31h1M145 31h1M0 32h1M28 32h1M79 32h1M107 32h1M118 32h1M146 32h1M157 32h1M2 33h1M30 33h1M69 33h1M81 33h1M108 33h1M120 33h1M159 33h1M4 34h1M32 34h1M44 34h1M71 34h1M83 34h1M110 34h1M122 34h1M149 34h1M7 35h1M34 35h1M46 35h1M73 35h1M112 35h1M125 35h1M36 36h1M49 36h1M75 36h1M88 36h1M114 36h1M127 36h1M154 36h1M12 37h1M38 37h1M51 37h1M77 37h1M90 37h1M116 37h1M0 38h1M53 38h1M79 38h1M92 38h1M118 38h1M131 38h1M157 38h1M2 39h1M15 39h1M41 39h1M54 39h1M93 39h1M159 39h1M43 40h1M55 40h1M82 40h1M94 40h1M121 40h1M5 41h1M16 41h1M84 41h1M95 41h1M123 41h1M134 41h1M7 42h1M56 42h1M86 42h1M95 42h1M125 42h1M134 42h1M10 43h1M16 43h2M49 43h1M56 43h1M88 43h1M95 43h1M127 43h2M134 43h1M13 44h4M52 44h4M92 44h4M131 44h4M23 49h5M63 49h4M102 49h4M141 49h5M23 50h1M31 50h1M62 50h1M70 50h1M101 50h2M109 50h1M141 50h1M148 50h1M23 51h1M33 51h1M62 51h1M112 51h1M141 51h1M151 51h1M23 52h1M75 52h1M102 52h1M114 52h1M141 52h1M153 52h1M24 53h1M37 53h1M63 53h1M155 53h1M25 54h1M39 54h1M64 54h1M78 54h1M103 54h1M117 54h1M1 55h1M26 55h1M40 55h1M65 55h1M158 55h1M2 56h1M67 56h1M81 56h1M106 56h1M120 56h1M145 56h1M159 56h1M4 57h1M30 57h1M43 57h1M69 57h1M82 57h1M108 57h1M5 58h1M33 58h1M44 58h1M72 58h1M84 58h1M111 58h1M123 58h1M150 58h1M7 59h1M36 59h1M46 59h1M75 59h1M85 59h1M114 59h1M125 59h1M153 59h1M9 60h1M38 60h1M48 60h1M78 60h1M87 60h1M117 60h1M126 60h1M156 60h1M1 61h1M10 61h1M41 61h1M49 61h1M80 61h1M89 61h1M119 61h1M128 61h1M158 61h1M3 62h1M12 62h1M51 62h1M82 62h1M90 62h1M121 62h1M129 62h1M160 62h1M5 63h1M13 63h1M44 63h1M52 63h1M83 63h1M91 63h1M123 63h1M130 63h1M6 64h1M14 64h1M46 64h1M53 64h1M85 64h1M92 64h1M124 64h1M131 64h1M8 65h1M14 65h1M47 65h1M53 65h1M87 65h1M93 65h1M126 65h1M132 65h1M10 66h1M14 66h2M49 66h2M53 66h2M88 66h2M93 66h1M128 66h1M132 66h2M12 67h4M51 67h5M91 67h4M130 67h4M15 68h1M54 68h2M94 68h1M133 68h1M19 70h2M58 70h2M98 70h1M137 70h1M19 71h3M23 71h2M58 71h3M62 71h3M98 71h2M101 71h3M137 71h2M140 71h3M20 72h1M28 72h1M59 72h1M67 72h2M98 72h1M107 72h1M137 72h1M146 72h1M20 73h1M59 73h1M71 73h1M110 73h1M138 73h1M149 73h1M34 74h1M60 74h1M73 74h1M99 74h1M152 74h1M36 75h1M75 75h1M100 75h1M139 75h1M37 76h1M101 76h1M116 76h1M140 76h1M155 76h1M63 77h1M102 77h1M117 77h1M156 77h1M0 78h1M25 78h1M39 78h1M118 78h1M143 78h1M157 78h1M1 79h1M27 79h1M40 79h1M66 79h1M79 79h1M145 79h1M158 79h1M1 80h1M30 80h1M41 80h1M69 80h1M80 80h1M108 80h1M119 80h1M158 80h1M2 81h1M33 81h1M41 81h1M72 81h2M80 81h1M112 81h1M119 81h2M151 81h1M159 81h1M0 82h3M37 82h6M77 82h5M116 82h5M155 82h5M6 85h2M45 85h2M84 85h3M124 85h2M6 86h5M45 86h5M85 86h4M124 86h5M7 87h1M11 87h2M46 87h1M51 87h1M85 87h1M90 87h1M124 87h2M129 87h2M7 88h1M14 88h1M46 88h2M53 88h1M86 88h1M92 88h1M125 88h1M131 88h1M8 89h1M15 89h1M47 89h1M54 89h1M86 89h1M94 89h1M126 89h1M133 89h1M9 90h1M17 90h1M48 90h1M56 90h1M87 90h1M95 90h1M127 90h1M10 91h1M18 91h1M49 91h1M58 91h1M97 91h1M128 91h1M136 91h1M11 92h1M20 92h1M51 92h1M60 92h1M90 92h1M99 92h1M129 92h1M138 92h1M13 93h1M23 93h1M52 93h1M62 93h1M92 93h1M101 93h1M131 93h1M140 93h1M15 94h1M26 94h1M54 94h1M65 94h1M93 94h1M104 94h1M133 94h1M143 94h1M29 95h1M56 95h1M68 95h1M95 95h1M107 95h1M134 95h1M146 95h1M18 96h1M31 96h1M57 96h1M110 96h1M136 96h1M149 96h1M98 97h1M112 97h1M137 97h1M151 97h1M21 98h1M35 98h1M60 98h1M74 98h1M99 98h1M22 99h1M36 99h1M75 99h1M140 99h1M154 99h1M24 100h1M37 100h1M63 100h1M76 100h1M102 100h1M115 100h1M37 101h1M65 101h1M104 101h1M116 101h1M143 101h1M155 101h1M28 102h1M67 102h1M77 102h1M106 102h1M116 102h1M155 102h1M31 103h1M37 103h2M70 103h1M77 103h1M109 103h1M116 103h1M148 103h2M155 103h1M35 104h3M74 104h3M114 104h2M153 104h2M5 109h5M44 109h5M83 109h6M123 109h5M5 110h1M12 110h1M44 110h1M51 110h1M83 110h1M91 110h1M122 110h1M130 110h1M5 111h1M44 111h1M54 111h1M83 111h1M93 111h1M132 111h1M5 112h1M56 112h1M84 112h1M95 112h1M123 112h1M134 112h1M6 113h1M18 113h1M45 113h1M97 113h1M136 113h1M7 114h1M20 114h1M46 114h1M59 114h1M85 114h1M98 114h1M8 115h1M61 115h1M87 115h1M100 115h1M126 115h1M139 115h1M10 116h1M23 116h1M49 116h1M102 116h1M128 116h1M141 116h1"/>
<path stroke="#00a4ff" d="M17 0h1M26 0h1M56 0h1M65 0h1M95 0h1M105 0h1M134 0h2M144 0h1M20 1h1M28 1h1M59 1h1M67 1h1M98 1h1M106 1h1M137 1h2M145 1h1M22 2h1M29 2h1M61 2h1M68 2h2M100 2h1M108 2h1M139 2h2M147 2h1M23 3h1M31 3h1M63 3h1M70 3h1M102 3h1M109 3h1M141 3h1M149 3h1M25 4h1M32 4h1M64 4h1M103 4h1M111 4h1M142 4h1M150 4h1M26 5h1M65 5h1M73 5h1M104 5h1M112 5h1M144 5h1M151 5h1M27 6h1M35 6h1M66 6h1M74 6h1M113 6h1M145 6h1M152 6h1M28 7h1M36 7h1M75 7h1M107 7h1M114 7h1M146 7h1M154 7h1M30 8h1M37 8h1M69 8h1M76 8h1M108 8h1M116 8h1M147 8h1M155 8h1M0 9h1M31 9h1M39 9h1M70 9h2M78 9h1M110 9h1M117 9h1M149 9h1M156 9h2M1 10h2M33 10h1M41 10h1M72 10h1M80 10h1M111 10h1M119 10h1M151 10h1M158 10h2M4 11h2M34 11h1M44 11h1M74 11h1M83 11h1M113 11h1M122 11h1M152 11h1M8 12h1M36 12h1M47 12h1M75 12h1M86 12h1M114 12h1M126 12h1M154 12h1M11 13h1M37 13h1M50 13h1M76 13h1M129 13h1M155 13h1M38 14h1M53 14h1M92 14h1M156 14h1M0 15h1M39 15h1M55 15h1M94 15h1M118 15h1M157 15h1M1 16h1M17 16h1M56 16h1M119 16h1M135 16h1M158 16h1M18 17h1M81 17h1M120 17h1M136 17h1M4 18h1M19 18h1M43 18h1M58 18h1M137 18h1M45 19h1M59 19h1M84 19h1M98 19h1M8 20h1M20 20h1M47 20h1M126 20h1M138 20h1M11 21h1M20 21h1M50 21h1M60 21h1M89 21h1M99 21h1M129 21h1M138 21h1M14 22h2M20 22h2M54 22h1M59 22h2M93 22h2M99 22h1M132 22h2M138 22h2M19 23h3M58 23h3M98 23h2M137 23h3M24 25h2M63 25h2M103 25h1M142 25h1M24 26h5M63 26h6M103 26h5M142 26h5M24 27h1M31 27h1M64 27h1M70 27h1M103 27h1M109 27h2M142 27h1M149 27h1M25 28h1M33 28h1M64 28h1M103 28h1M112 28h1M142 28h1M151 28h1M25 29h1M35 29h1M64 29h1M114 29h1M143 29h1M153 29h1M26 30h1M37 30h1M65 30h1M76 30h1M104 30h1M66 31h1M78 31h1M105 31h1M117 31h1M144 31h1M156 31h1M1 32h1M40 32h1M67 32h1M106 32h1M119 32h1M145 32h1M158 32h1M3 33h1M29 33h1M42 33h1M68 33h1M121 33h1M147 33h1M160 33h1M5 34h1M31 34h1M70 34h1M84 34h1M109 34h1M123 34h1M8 35h1M33 35h1M47 35h1M72 35h1M86 35h1M111 35h1M126 35h1M151 35h1M10 36h1M35 36h1M50 36h1M74 36h1M89 36h1M128 36h1M153 36h1M37 37h1M52 37h1M76 37h1M91 37h1M130 37h1M155 37h1M14 38h1M39 38h1M78 38h1M117 38h1M132 38h1M1 39h1M80 39h1M94 39h1M119 39h1M133 39h1M158 39h1M3 40h1M16 40h1M42 40h1M95 40h1M134 40h1M160 40h1M17 41h1M44 41h1M56 41h1M83 41h1M122 41h1M17 42h1M46 42h1M85 42h1M96 42h1M124 42h1M135 42h1M9 43h1M48 43h1M57 43h1M87 43h1M96 43h1M135 43h1M12 44h1M17 44h2M51 44h1M56 44h2M90 44h2M96 44h1M129 44h2M135 44h1M16 45h2M55 45h2M94 45h3M133 45h3M23 48h1M62 48h2M101 48h2M141 48h1M22 49h1M28 49h1M61 49h2M67 49h2M100 49h2M106 49h2M140 49h1M146 49h1M22 50h1M61 50h1M71 50h1M110 50h1M140 50h1M149 50h1M22 51h1M34 51h1M73 51h1M101 51h1M140 51h1M152 51h1M36 52h1M62 52h1M101 52h1M154 52h1M38 53h1M77 53h1M102 53h1M116 53h1M141 53h1M0 54h1M24 54h1M118 54h1M142 54h1M157 54h1M25 55h1M41 55h1M80 55h1M104 55h1M119 55h1M143 55h1M3 56h1M27 56h1M42 56h1M66 56h1M121 56h1M160 56h1M29 57h1M44 57h1M68 57h1M83 57h1M122 57h1M147 57h1M6 58h1M32 58h1M45 58h1M71 58h1M110 58h1M124 58h1M8 59h1M35 59h1M47 59h1M74 59h1M86 59h1M113 59h1M126 59h1M152 59h1M10 60h1M37 60h1M49 60h1M77 60h1M88 60h1M116 60h1M127 60h1M155 60h1M11 61h1M40 61h1M50 61h1M79 61h1M90 61h1M118 61h1M129 61h1M2 62h1M42 62h1M52 62h1M81 62h1M91 62h1M120 62h1M130 62h1M159 62h1M4 63h1M43 63h1M53 63h1M92 63h1M122 63h1M131 63h1M45 64h1M54 64h1M84 64h1M93 64h1M123 64h1M132 64h1M7 65h1M15 65h1M46 65h1M54 65h1M86 65h1M94 65h1M125 65h1M133 65h1M9 66h1M16 66h1M48 66h1M55 66h1M87 66h1M94 66h1M127 66h1M134 66h1M11 67h1M16 67h2M50 67h1M56 67h1M89 67h2M95 67h1M128 67h2M134 67h1M13 68h2M16 68h3M52 68h2M56 68h2M91 68h3M95 68h2M131 68h2M134 68h2M15 69h5M54 69h6M93 69h6M133 69h5M17 70h2M21 70h2M56 70h2M60 70h2M95 70h3M99 70h3M134 70h3M138 70h3M18 71h1M25 71h2M57 71h1M65 71h1M96 71h2M104 71h1M135 71h2M143 71h1M19 72h1M29 72h1M58 72h1M97 72h1M108 72h1M136 72h1M147 72h1M19 73h1M32 73h1M98 73h1M111 73h1M137 73h1M150 73h1M20 74h1M59 74h1M74 74h1M113 74h1M138 74h1M21 75h1M60 75h1M115 75h1M154 75h1M22 76h1M38 76h1M61 76h1M77 76h1M23 77h1M39 77h1M62 77h1M78 77h1M141 77h1M40 78h1M64 78h1M79 78h1M103 78h1M142 78h1M41 79h1M80 79h1M105 79h1M119 79h1M144 79h1M2 80h1M29 80h1M68 80h1M81 80h1M120 80h1M147 80h1M159 80h1M3 81h1M32 81h1M42 81h1M71 81h1M81 81h1M111 81h1M121 81h1M150 81h1M160 81h1M3 82h2M36 82h1M43 82h1M75 82h2M82 82h1M114 82h2M121 82h2M154 82h1M160 82h1M0 83h6M39 83h6M79 83h5M118 83h6M157 83h4M2 84h6M42 84h5M81 84h5M120 84h6M159 84h2M4 85h2M8 85h2M43 85h2M47 85h2M82 85h2M87 85h2M122 85h2M126 85h2M5 86h1M11 86h1M44 86h1M50 86h1M83 86h2M89 86h2M123 86h1M129 86h1M6 87h1M13 87h1M45 87h1M52 87h1M84 87h1M91 87h1M123 87h1M131 87h1M6 88h1M54 88h1M85 88h1M93 88h1M124 88h1M132 88h1M7 89h1M16 89h1M46 89h1M55 89h1M95 89h1M125 89h1M134 89h1M8 90h1M18 90h1M47 90h1M57 90h1M96 90h1M126 90h1M135 90h1M9 91h1M19 91h1M48 91h1M88 91h1M98 91h1M127 91h1M137 91h1M21 92h1M50 92h1M89 92h1M100 92h1M128 92h1M139 92h1M12 93h1M24 93h1M51 93h1M63 93h1M91 93h1M102 93h1M130 93h1M141 93h1M14 94h1M27 94h1M53 94h1M66 94h1M92 94h1M105 94h1M132 94h1M144 94h1M16 95h1M55 95h1M69 95h1M94 95h1M108 95h1M133 95h1M147 95h1M17 96h1M32 96h1M71 96h1M96 96h1M135 96h1M150 96h1M19 97h1M34 97h1M58 97h1M73 97h1M97 97h1M152 97h1M20 98h1M75 98h1M114 98h1M138 98h1M153 98h1M61 99h1M76 99h1M100 99h1M115 99h1M23 100h1M116 100h1M141 100h1M155 100h1M25 101h1M38 101h1M64 101h1M77 101h1M156 101h1M27 102h1M38 102h1M66 102h1M117 102h1M145 102h1M156 102h1M30 103h1M69 103h1M78 103h1M108 103h1M117 103h1M156 103h1M33 104h2M38 104h2M72 104h2M77 104h2M112 104h2M116 104h2M151 104h2M155 104h2M4 108h4M43 108h4M82 108h4M122 108h4M4 109h1M10 109h1M43 109h1M49 109h2M82 109h1M89 109h1M121 109h2M128 109h1M4 110h1M13 110h1M43 110h1M52 110h1M82 110h1M92 110h1M131 110h1M4 111h1M15 111h1M43 111h1M94 111h1M122 111h1M133 111h1M17 112h1M44 112h1M83 112h1M122 112h1M135 112h1M5 113h1M19 113h1M58 113h1M84 113h1M123 113h1M6 114h1M60 114h1M99 114h1M124 114h1M138 114h1M22 115h1M47 115h1M86 115h1M125 115h1M140 115h1M9 116h1M24 116h1M63 116h1M88 116h1M127 116h1M142 116h1"/>
<path stroke="#00bcff" d="M16 0h1M27 0h1M55 0h1M66 0h1M94 0h1M106 0h1M133 0h1M145 0h1M19 1h1M29 1h1M58 1h1M68 1h1M97 1h1M107 1h1M136 1h1M146 1h1M21 2h1M30 2h1M60 2h1M70 2h1M99 2h1M109 2h1M148 2h1M32 3h1M62 3h1M71 3h1M101 3h1M110 3h1M140 3h1M150 3h1M24 4h1M33 4h1M63 4h1M72 4h1M102 4h1M112 4h1M151 4h1M25 5h1M34 5h1M64 5h1M113 5h1M143 5h1M152 5h1M26 6h1M75 6h1M105 6h1M114 6h1M144 6h1M153 6h1M27 7h1M37 7h1M67 7h1M76 7h1M106 7h1M115 7h1M145 7h1M29 8h1M38 8h1M68 8h1M77 8h1M107 8h1M146 8h1M156 8h1M30 9h1M40 9h1M69 9h1M79 9h1M109 9h1M118 9h1M148 9h1M3 10h1M32 10h1M42 10h1M71 10h1M81 10h1M110 10h1M120 10h1M150 10h1M160 10h1M6 11h1M33 11h1M45 11h1M73 11h1M84 11h1M112 11h1M123 11h1M151 11h1M9 12h1M35 12h1M48 12h1M74 12h1M87 12h1M113 12h1M153 12h1M12 13h1M36 13h1M51 13h1M90 13h1M115 13h1M154 13h1M14 14h1M77 14h1M93 14h1M116 14h1M132 14h1M155 14h1M16 15h1M78 15h1M117 15h1M134 15h1M40 16h1M57 16h1M79 16h1M96 16h1M2 17h1M41 17h1M58 17h1M97 17h1M159 17h1M59 18h1M82 18h1M98 18h1M121 18h1M5 19h1M20 19h1M99 19h1M123 19h1M138 19h1M7 20h1M21 20h1M60 20h1M86 20h1M99 20h1M125 20h1M10 21h1M21 21h1M49 21h1M61 21h1M100 21h1M128 21h1M139 21h1M13 22h1M22 22h1M53 22h1M61 22h1M92 22h1M100 22h1M131 22h1M140 22h1M17 23h2M22 23h2M56 23h2M61 23h2M96 23h2M100 23h2M135 23h2M140 23h2M20 24h5M59 24h6M99 24h5M138 24h5M22 25h2M26 25h2M61 25h2M65 25h2M100 25h3M104 25h2M140 25h2M143 25h3M23 26h1M29 26h2M62 26h1M69 26h1M101 26h2M108 26h1M141 26h1M147 26h1M23 27h1M32 27h1M63 27h1M71 27h1M102 27h1M141 27h1M150 27h1M24 28h1M34 28h1M63 28h1M73 28h1M102 28h1M152 28h1M36 29h1M75 29h1M103 29h1M142 29h1M25 30h1M64 30h1M77 30h1M116 30h1M143 30h1M155 30h1M0 31h1M26 31h1M39 31h1M65 31h1M104 31h1M118 31h1M157 31h1M2 32h1M27 32h1M41 32h1M66 32h1M80 32h1M159 32h1M4 33h1M28 33h1M43 33h1M82 33h1M107 33h1M146 33h1M6 34h1M30 34h1M45 34h1M69 34h1M124 34h1M148 34h1M9 35h1M32 35h1M48 35h1M71 35h1M87 35h1M150 35h1M11 36h1M34 36h1M90 36h1M113 36h1M129 36h1M152 36h1M13 37h1M36 37h1M92 37h1M115 37h1M131 37h1M154 37h1M15 38h1M38 38h1M54 38h1M93 38h1M156 38h1M16 39h1M40 39h1M55 39h1M79 39h1M134 39h1M2 40h1M17 40h1M56 40h1M81 40h1M120 40h1M159 40h1M4 41h1M43 41h1M57 41h1M96 41h1M135 41h1M6 42h1M18 42h1M45 42h1M57 42h1M84 42h1M136 42h1M8 43h1M18 43h1M47 43h1M97 43h1M126 43h1M136 43h1M11 44h1M19 44h1M50 44h1M58 44h1M89 44h1M97 44h1M128 44h1M136 44h1M14 45h2M18 45h2M53 45h2M57 45h2M92 45h2M97 45h2M131 45h2M136 45h2M17 46h4M57 46h3M96 46h3M135 46h3M20 47h3M59 47h3M98 47h3M137 47h4M20 48h3M24 48h3M60 48h2M64 48h2M99 48h2M103 48h2M138 48h3M142 48h3M21 49h1M29 49h1M60 49h1M69 49h1M99 49h1M108 49h1M139 49h1M147 49h1M21 50h1M32 50h1M100 50h1M111 50h1M139 50h1M150 50h1M35 51h1M61 51h1M74 51h1M100 51h1M113 51h1M22 52h1M76 52h1M115 52h1M140 52h1M23 53h1M62 53h1M101 53h1M117 53h1M156 53h1M40 54h1M63 54h1M79 54h1M102 54h1M2 55h1M64 55h1M103 55h1M120 55h1M159 55h1M26 56h1M43 56h1M82 56h1M105 56h1M144 56h1M5 57h1M28 57h1M84 57h1M107 57h1M123 57h1M146 57h1M7 58h1M31 58h1M46 58h1M70 58h1M85 58h1M109 58h1M125 58h1M149 58h1M9 59h1M34 59h1M48 59h1M73 59h1M87 59h1M112 59h1M50 60h1M76 60h1M89 60h1M115 60h1M128 60h1M154 60h1M0 61h1M12 61h1M39 61h1M51 61h1M78 61h1M130 61h1M157 61h1M13 62h1M41 62h1M80 62h1M92 62h1M119 62h1M131 62h1M3 63h1M14 63h1M82 63h1M93 63h1M121 63h1M132 63h1M160 63h1M5 64h1M15 64h1M44 64h1M83 64h1M94 64h1M133 64h1M6 65h1M16 65h1M55 65h1M85 65h1M124 65h1M134 65h1M8 66h1M17 66h1M47 66h1M56 66h1M86 66h1M95 66h1M126 66h1M10 67h1M18 67h1M49 67h1M57 67h1M88 67h1M96 67h1M127 67h1M135 67h1M12 68h1M19 68h1M51 68h1M58 68h1M90 68h1M97 68h1M129 68h2M136 68h2M14 69h1M20 69h2M53 69h1M60 69h1M92 69h1M99 69h1M131 69h2M138 69h1M15 70h2M23 70h1M55 70h1M62 70h2M94 70h1M102 70h1M133 70h1M141 70h1M17 71h1M27 71h1M56 71h1M66 71h1M95 71h1M105 71h1M134 71h1M144 71h1M18 72h1M30 72h1M57 72h1M69 72h1M96 72h1M109 72h1M148 72h1M33 73h1M58 73h1M72 73h1M97 73h1M136 73h1M151 73h1M35 74h1M98 74h1M114 74h1M137 74h1M153 74h1M20 75h1M37 75h1M76 75h1M99 75h1M138 75h1M155 75h1M21 76h1M100 76h1M117 76h1M139 76h1M156 76h1M0 77h1M79 77h1M101 77h1M118 77h1M140 77h1M157 77h1M1 78h1M24 78h1M63 78h1M80 78h1M119 78h1M158 78h1M2 79h1M26 79h1M65 79h1M104 79h1M120 79h1M159 79h1M3 80h1M28 80h1M42 80h1M107 80h1M121 80h1M146 80h1M160 80h1M4 81h1M31 81h1M43 81h1M82 81h1M110 81h1M149 81h1M5 82h1M35 82h1M44 82h1M74 82h1M83 82h1M113 82h1M123 82h1M152 82h2M6 83h1M38 83h1M45 83h2M77 83h2M84 83h2M116 83h2M124 83h1M156 83h1M1 84h1M8 84h1M40 84h2M47 84h1M80 84h1M86 84h2M119 84h1M126 84h1M158 84h1M3 85h1M10 85h1M42 85h1M49 85h1M81 85h1M89 85h1M121 85h1M128 85h1M160 85h1M4 86h1M12 86h1M43 86h1M51 86h1M82 86h1M91 86h1M122 86h1M130 86h1M5 87h1M14 87h1M44 87h1M53 87h1M83 87h1M92 87h1M15 88h1M45 88h1M84 88h1M94 88h1M123 88h1M133 88h1M6 89h1M17 89h1M56 89h1M85 89h1M124 89h1M7 90h1M58 90h1M86 90h1M97 90h1M125 90h1M136 90h1M8 91h1M20 91h1M59 91h1M87 91h1M126 91h1M138 91h1M10 92h1M22 92h1M49 92h1M61 92h1M88 92h1M101 92h1M127 92h1M140 92h1M11 93h1M64 93h1M90 93h1M103 93h1M129 93h1M142 93h1M13 94h1M52 94h1M67 94h1M106 94h1M131 94h1M145 94h1M15 95h1M30 95h1M54 95h1M93 95h1M109 95h1M148 95h1M33 96h1M56 96h1M72 96h1M95 96h1M111 96h1M134 96h1M18 97h1M35 97h1M57 97h1M74 97h1M113 97h1M136 97h1M36 98h1M59 98h1M98 98h1M137 98h1M154 98h1M21 99h1M37 99h1M60 99h1M139 99h1M155 99h1M38 100h1M62 100h1M77 100h1M101 100h1M24 101h1M78 101h1M103 101h1M117 101h1M142 101h1M0 102h1M26 102h1M39 102h1M78 102h1M105 102h1M144 102h1M157 102h1M0 103h1M29 103h1M39 103h1M68 103h1M79 103h1M107 103h1M118 103h1M147 103h1M157 103h1M0 104h1M32 104h1M40 104h1M71 104h1M79 104h1M110 104h2M118 104h1M150 104h1M157 104h1M0 105h2M36 105h5M75 105h5M114 105h6M153 105h6M0 106h3M39 106h3M79 106h2M118 106h3M157 106h3M2 107h4M41 107h4M80 107h4M120 107h4M159 107h2M2 108h2M8 108h1M42 108h1M47 108h2M81 108h1M86 108h2M120 108h2M126 108h1M159 108h2M3 109h1M11 109h1M42 109h1M51 109h1M81 109h1M90 109h1M120 109h1M129 109h1M160 109h1M3 110h1M14 110h1M42 110h1M53 110h1M121 110h1M132 110h1M160 110h1M16 111h1M55 111h1M82 111h1M121 111h1M134 111h1M4 112h1M18 112h1M43 112h1M57 112h1M96 112h1M44 113h1M83 113h1M98 113h1M137 113h1M21 114h1M45 114h1M84 114h1M139 114h1M7 115h1M23 115h1M46 115h1M62 115h1M85 115h1M101 115h1M25 116h1M48 116h1M64 116h1M87 116h1M103 116h1M126 116h1"/>
<path stroke="#00d0fc" d="M15 0h1M28 0h1M54 0h1M67 0h1M93 0h1M146 0h1M18 1h1M30 1h1M57 1h1M69 1h1M96 1h1M108 1h1M135 1h1M147 1h1M20 2h1M31 2h1M59 2h1M98 2h1M110 2h1M138 2h1M149 2h1M22 3h1M33 3h1M61 3h1M72 3h1M100 3h1M111 3h1M139 3h1M23 4h1M34 4h1M62 4h1M73 4h1M141 4h1M152 4h1M24 5h1M35 5h1M74 5h1M103 5h1M142 5h1M153 5h1M36 6h1M65 6h1M104 6h1M115 6h1M143 6h1M154 6h1M66 7h1M77 7h1M105 7h1M116 7h1M144 7h1M155 7h1M0 8h1M28 8h1M39 8h1M67 8h1M78 8h1M106 8h1M117 8h1M157 8h1M1 9h1M29 9h1M41 9h1M80 9h1M108 9h1M119 9h1M147 9h1M158 9h1M4 10h1M31 10h1M43 10h1M70 10h1M82 10h1M109 10h1M121 10h1M149 10h1M46 11h1M72 11h1M85 11h1M111 11h1M124 11h1M150 11h1M10 12h1M34 12h1M49 12h1M73 12h1M88 12h1M127 12h1M152 12h1M52 13h1M75 13h1M91 13h1M114 13h1M130 13h1M153 13h1M15 14h1M37 14h1M54 14h1M76 14h1M115 14h1M133 14h1M17 15h1M38 15h1M56 15h1M77 15h1M95 15h1M156 15h1M0 16h1M18 16h1M39 16h1M118 16h1M136 16h1M157 16h1M19 17h1M80 17h1M119 17h1M137 17h1M3 18h1M20 18h1M42 18h1M138 18h1M160 18h1M21 19h1M44 19h1M60 19h1M83 19h1M122 19h1M46 20h1M61 20h1M85 20h1M100 20h1M124 20h1M139 20h1M9 21h1M22 21h1M88 21h1M101 21h1M127 21h1M140 21h1M12 22h1M23 22h1M52 22h1M62 22h1M91 22h1M101 22h1M130 22h1M141 22h1M16 23h1M24 23h1M55 23h1M63 23h1M94 23h2M102 23h2M134 23h1M142 23h1M19 24h1M25 24h2M58 24h1M65 24h1M97 24h2M104 24h1M136 24h2M143 24h2M21 25h1M28 25h1M60 25h1M67 25h1M99 25h1M106 25h2M138 25h2M146 25h1M22 26h1M31 26h1M61 26h1M70 26h1M100 26h1M109 26h1M140 26h1M148 26h1M33 27h1M62 27h1M72 27h1M101 27h1M111 27h1M140 27h1M23 28h1M35 28h1M74 28h1M113 28h1M141 28h1M24 29h1M63 29h1M76 29h1M102 29h1M115 29h1M154 29h1M38 30h1M103 30h1M142 30h1M156 30h1M25 31h1M40 31h1M79 31h1M143 31h1M26 32h1M81 32h1M105 32h1M120 32h1M144 32h1M44 33h1M67 33h1M83 33h1M106 33h1M122 33h1M145 33h1M7 34h1M29 34h1M46 34h1M85 34h1M108 34h1M147 34h1M31 35h1M49 35h1M88 35h1M110 35h1M127 35h1M149 35h1M12 36h1M51 36h1M73 36h1M112 36h1M130 36h1M151 36h1M14 37h1M53 37h1M75 37h1M114 37h1M77 38h1M94 38h1M116 38h1M133 38h1M155 38h1M0 39h1M39 39h1M56 39h1M95 39h1M118 39h1M157 39h1M41 40h1M80 40h1M96 40h1M135 40h1M18 41h1M82 41h1M121 41h1M136 41h1M5 42h1M58 42h1M97 42h1M123 42h1M7 43h1M19 43h1M58 43h1M86 43h1M125 43h1M137 43h1M10 44h1M49 44h1M59 44h1M88 44h1M98 44h1M127 44h1M137 44h1M12 45h2M20 45h1M52 45h1M59 45h1M91 45h1M99 45h1M130 45h1M138 45h1M15 46h2M21 46h1M55 46h2M60 46h2M94 46h2M99 46h2M133 46h2M138 46h2M18 47h2M23 47h2M57 47h2M62 47h2M96 47h2M101 47h2M136 47h1M141 47h2M19 48h1M27 48h1M58 48h2M66 48h1M98 48h1M105 48h2M137 48h1M145 48h1M20 49h1M30 49h1M59 49h1M98 49h1M109 49h1M138 49h1M148 49h1M33 50h1M60 50h1M72 50h1M99 50h1M138 50h1M151 50h1M21 51h1M60 51h1M114 51h1M139 51h1M153 51h1M37 52h1M61 52h1M100 52h1M116 52h1M139 52h1M155 52h1M22 53h1M39 53h1M78 53h1M140 53h1M1 54h1M23 54h1M62 54h1M119 54h1M141 54h1M158 54h1M24 55h1M42 55h1M81 55h1M142 55h1M4 56h1M65 56h1M83 56h1M104 56h1M122 56h1M143 56h1M6 57h1M45 57h1M67 57h1M106 57h1M145 57h1M8 58h1M30 58h1M47 58h1M69 58h1M86 58h1M148 58h1M33 59h1M49 59h1M72 59h1M88 59h1M127 59h1M151 59h1M11 60h1M36 60h1M75 60h1M90 60h1M114 60h1M129 60h1M13 61h1M38 61h1M52 61h1M91 61h1M117 61h1M156 61h1M1 62h1M14 62h1M40 62h1M53 62h1M132 62h1M158 62h1M15 63h1M42 63h1M54 63h1M81 63h1M120 63h1M133 63h1M4 64h1M16 64h1M55 64h1M122 64h1M17 65h1M45 65h1M56 65h1M84 65h1M95 65h1M123 65h1M7 66h1M46 66h1M57 66h1M96 66h1M125 66h1M135 66h1M9 67h1M48 67h1M58 67h1M87 67h1M97 67h1M136 67h1M11 68h1M20 68h1M50 68h1M59 68h1M89 68h1M98 68h1M128 68h1M138 68h1M13 69h1M22 69h1M52 69h1M61 69h1M91 69h1M100 69h1M130 69h1M139 69h1M14 70h1M24 70h1M54 70h1M64 70h1M93 70h1M103 70h1M132 70h1M142 70h1M16 71h1M28 71h1M55 71h1M67 71h1M94 71h1M106 71h1M145 71h1M17 72h1M31 72h1M56 72h1M70 72h1M95 72h1M135 72h1M149 72h1M18 73h1M34 73h1M57 73h1M73 73h1M112 73h1M19 74h1M36 74h1M58 74h1M75 74h1M97 74h1M59 75h1M77 75h1M98 75h1M116 75h1M39 76h1M60 76h1M78 76h1M99 76h1M1 77h1M22 77h1M40 77h1M61 77h1M158 77h1M2 78h1M41 78h1M102 78h1M141 78h1M159 78h1M3 79h1M25 79h1M42 79h1M81 79h1M143 79h1M160 79h1M43 80h1M67 80h1M82 80h1M106 80h1M145 80h1M5 81h1M30 81h1M44 81h1M70 81h1M83 81h1M109 81h1M122 81h1M148 81h1M6 82h1M34 82h1M45 82h1M73 82h1M84 82h1M112 82h1M124 82h1M151 82h1M7 83h1M37 83h1M47 83h1M76 83h1M86 83h1M115 83h1M125 83h1M155 83h1M0 84h1M9 84h1M39 84h1M48 84h1M79 84h1M88 84h1M118 84h1M127 84h1M157 84h1M2 85h1M11 85h1M41 85h1M50 85h1M80 85h1M90 85h1M120 85h1M129 85h1M159 85h1M3 86h1M13 86h1M42 86h1M52 86h1M121 86h1M131 86h1M160 86h1M4 87h1M43 87h1M54 87h1M93 87h1M122 87h1M132 87h1M5 88h1M16 88h1M44 88h1M55 88h1M83 88h1M134 88h1M45 89h1M57 89h1M84 89h1M96 89h1M135 89h1M19 90h1M46 90h1M85 90h1M124 90h1M137 90h1M21 91h1M47 91h1M60 91h1M86 91h1M99 91h1M125 91h1M9 92h1M23 92h1M48 92h1M62 92h1M141 92h1M25 93h1M50 93h1M65 93h1M89 93h1M104 93h1M128 93h1M143 93h1M12 94h1M28 94h1M91 94h1M107 94h1M130 94h1M146 94h1M14 95h1M31 95h1M53 95h1M70 95h1M132 95h1M149 95h1M16 96h1M55 96h1M73 96h1M94 96h1M112 96h1M151 96h1M96 97h1M114 97h1M135 97h1M153 97h1M19 98h1M58 98h1M76 98h1M115 98h1M77 99h1M99 99h1M116 99h1M138 99h1M22 100h1M61 100h1M78 100h1M117 100h1M140 100h1M156 100h1M0 101h1M39 101h1M63 101h1M102 101h1M157 101h1M65 102h1M79 102h1M104 102h1M118 102h1M1 103h1M28 103h1M40 103h1M67 103h1M119 103h1M146 103h1M158 103h1M1 104h1M31 104h1M41 104h1M70 104h1M80 104h1M119 104h1M149 104h1M158 104h1M2 105h1M34 105h2M41 105h2M74 105h1M80 105h2M113 105h1M120 105h1M152 105h1M159 105h1M3 106h2M37 106h2M42 106h2M77 106h2M81 106h2M116 106h2M121 106h2M155 106h2M160 106h1M0 107h2M6 107h2M39 107h2M45 107h2M79 107h1M84 107h2M118 107h2M124 107h1M157 107h2M1 108h1M9 108h2M40 108h2M49 108h1M80 108h1M88 108h1M119 108h1M127 108h1M158 108h1M2 109h1M12 109h1M41 109h1M80 109h1M91 109h1M130 109h1M159 109h1M2 110h1M54 110h1M81 110h1M93 110h1M120 110h1M159 110h1M3 111h1M42 111h1M56 111h1M81 111h1M95 111h1M160 111h1M82 112h1M97 112h1M121 112h1M136 112h1M4 113h1M20 113h1M59 113h1M122 113h1M138 113h1M5 114h1M44 114h1M61 114h1M100 114h1M123 114h1M6 115h1M63 115h1M102 115h1M124 115h1M141 115h1M8 116h1M47 116h1M86 116h1M104 116h1M143 116h1"/>
<path stroke="#00e4f9" d="M14 0h1M29 0h1M53 0h1M68 0h1M107 0h1M132 0h1M17 1h1M56 1h1M70 1h1M95 1h1M109 1h1M148 1h1M19 2h1M32 2h1M58 2h1M71 2h1M137 2h1M150 2h1M21 3h1M60 3h1M112 3h1M151 3h1M74 4h1M101 4h1M113 4h1M140 4h1M36 5h1M63 5h1M75 5h1M102 5h1M114 5h1M25 6h1M37 6h1M64 6h1M76 6h1M103 6h1M26 7h1M38 7h1M65 7h1M156 7h1M27 8h1M79 8h1M118 8h1M145 8h1M2 9h1M68 9h1M81 9h1M107 9h1M120 9h1M146 9h1M159 9h1M30 10h1M44 10h1M69 10h1M83 10h1M122 10h1M148 10h1M7 11h1M32 11h1M71 11h1M86 11h1M110 11h1M125 11h1M33 12h1M50 12h1M89 12h1M112 12h1M128 12h1M151 12h1M13 13h1M35 13h1M74 13h1M92 13h1M113 13h1M131 13h1M36 14h1M55 14h1M94 14h1M154 14h1M96 15h1M116 15h1M135 15h1M155 15h1M58 16h1M78 16h1M97 16h1M117 16h1M1 17h1M20 17h1M40 17h1M59 17h1M98 17h1M158 17h1M2 18h1M60 18h1M81 18h1M99 18h1M120 18h1M159 18h1M4 19h1M43 19h1M100 19h1M139 19h1M6 20h1M22 20h1M45 20h1M140 20h1M23 21h1M48 21h1M62 21h1M87 21h1M126 21h1M24 22h1M51 22h1M63 22h1M90 22h1M102 22h1M129 22h1M15 23h1M25 23h1M54 23h1M64 23h1M93 23h1M104 23h1M132 23h2M143 23h1M18 24h1M27 24h1M57 24h1M66 24h1M96 24h1M105 24h1M135 24h1M145 24h1M20 25h1M29 25h1M59 25h1M68 25h1M98 25h1M108 25h1M137 25h1M147 25h1M21 26h1M60 26h1M71 26h1M99 26h1M110 26h1M139 26h1M149 26h1M22 27h1M61 27h1M73 27h1M100 27h1M112 27h1M151 27h1M62 28h1M101 28h1M114 28h1M140 28h1M153 28h1M23 29h1M37 29h1M141 29h1M155 29h1M24 30h1M39 30h1M63 30h1M78 30h1M117 30h1M1 31h1M64 31h1M103 31h1M119 31h1M158 31h1M3 32h1M42 32h1M65 32h1M104 32h1M121 32h1M160 32h1M5 33h1M27 33h1M66 33h1M105 33h1M123 33h1M47 34h1M68 34h1M86 34h1M107 34h1M125 34h1M146 34h1M10 35h1M70 35h1M89 35h1M109 35h1M128 35h1M148 35h1M33 36h1M52 36h1M72 36h1M91 36h1M111 36h1M35 37h1M54 37h1M74 37h1M93 37h1M132 37h1M153 37h1M16 38h1M37 38h1M55 38h1M76 38h1M134 38h1M17 39h1M78 39h1M117 39h1M135 39h1M1 40h1M18 40h1M57 40h1M119 40h1M158 40h1M3 41h1M42 41h1M58 41h1M97 41h1M160 41h1M19 42h1M44 42h1M83 42h1M137 42h1M20 43h1M46 43h1M59 43h1M85 43h1M98 43h1M124 43h1M9 44h1M20 44h1M48 44h1M60 44h1M87 44h1M99 44h1M138 44h1M11 45h1M21 45h1M51 45h1M60 45h1M90 45h1M100 45h1M129 45h1M139 45h1M14 46h1M22 46h2M53 46h2M62 46h1M93 46h1M101 46h1M132 46h1M140 46h1M17 47h1M25 47h1M56 47h1M64 47h1M95 47h1M103 47h2M134 47h2M143 47h1M18 48h1M28 48h1M57 48h1M67 48h1M97 48h1M107 48h1M136 48h1M146 48h1M19 49h1M31 49h1M58 49h1M70 49h1M110 49h1M137 49h1M149 49h1M20 50h1M34 50h1M59 50h1M73 50h1M98 50h1M112 50h1M36 51h1M75 51h1M99 51h1M138 51h1M21 52h1M38 52h1M60 52h1M77 52h1M0 53h1M61 53h1M100 53h1M118 53h1M157 53h1M2 54h1M41 54h1M80 54h1M101 54h1M140 54h1M159 54h1M3 55h1M63 55h1M82 55h1M102 55h1M121 55h1M141 55h1M160 55h1M5 56h1M25 56h1M44 56h1M64 56h1M27 57h1M46 57h1M66 57h1M85 57h1M124 57h1M29 58h1M48 58h1M87 58h1M108 58h1M126 58h1M147 58h1M10 59h1M32 59h1M89 59h1M111 59h1M128 59h1M150 59h1M12 60h1M35 60h1M51 60h1M74 60h1M130 60h1M153 60h1M53 61h1M77 61h1M92 61h1M116 61h1M131 61h1M155 61h1M0 62h1M54 62h1M79 62h1M93 62h1M118 62h1M157 62h1M2 63h1M41 63h1M55 63h1M94 63h1M159 63h1M43 64h1M56 64h1M82 64h1M95 64h1M121 64h1M134 64h1M5 65h1M44 65h1M96 65h1M135 65h1M18 66h1M85 66h1M97 66h1M124 66h1M136 66h1M8 67h1M19 67h1M47 67h1M98 67h1M126 67h1M137 67h1M10 68h1M21 68h1M49 68h1M60 68h1M88 68h1M99 68h1M12 69h1M23 69h1M51 69h1M62 69h1M90 69h1M101 69h1M129 69h1M140 69h1M13 70h1M25 70h1M53 70h1M65 70h1M92 70h1M104 70h1M131 70h1M143 70h1M15 71h1M54 71h1M68 71h1M93 71h1M107 71h1M133 71h1M146 71h1M16 72h1M32 72h1M55 72h1M71 72h1M110 72h1M134 72h1M17 73h1M96 73h1M113 73h1M135 73h1M152 73h1M18 74h1M115 74h1M136 74h1M154 74h1M19 75h1M38 75h1M137 75h1M156 75h1M0 76h1M20 76h1M118 76h1M138 76h1M157 76h1M80 77h1M100 77h1M119 77h1M139 77h1M23 78h1M62 78h1M81 78h1M120 78h1M64 79h1M82 79h1M103 79h1M121 79h1M142 79h1M4 80h1M27 80h1M66 80h1M83 80h1M105 80h1M122 80h1M45 81h1M69 81h1M84 81h1M108 81h1M123 81h1M147 81h1M7 82h1M33 82h1M46 82h1M72 82h1M85 82h1M111 82h1M8 83h1M36 83h1M48 83h1M75 83h1M87 83h1M114 83h1M126 83h1M154 83h1M10 84h1M38 84h1M49 84h1M78 84h1M89 84h1M117 84h1M128 84h1M156 84h1M1 85h1M12 85h1M40 85h1M51 85h1M119 85h1M130 85h1M158 85h1M2 86h1M14 86h1M53 86h1M81 86h1M92 86h1M120 86h1M159 86h1M3 87h1M15 87h1M82 87h1M94 87h1M121 87h1M133 87h1M160 87h1M4 88h1M17 88h1M56 88h1M95 88h1M122 88h1M5 89h1M18 89h1M44 89h1M123 89h1M136 89h1M6 90h1M20 90h1M45 90h1M59 90h1M98 90h1M7 91h1M46 91h1M61 91h1M100 91h1M139 91h1M8 92h1M63 92h1M87 92h1M102 92h1M126 92h1M10 93h1M26 93h1M49 93h1M88 93h1M105 93h1M144 93h1M29 94h1M51 94h1M68 94h1M90 94h1M129 94h1M147 94h1M13 95h1M32 95h1M71 95h1M92 95h1M110 95h1M131 95h1M15 96h1M34 96h1M113 96h1M133 96h1M152 96h1M17 97h1M36 97h1M56 97h1M75 97h1M95 97h1M154 97h1M37 98h1M97 98h1M116 98h1M136 98h1M155 98h1M20 99h1M38 99h1M59 99h1M117 99h1M156 99h1M0 100h1M39 100h1M100 100h1M139 100h1M157 100h1M23 101h1M79 101h1M118 101h1M141 101h1M1 102h1M25 102h1M40 102h1M119 102h1M143 102h1M158 102h1M41 103h1M80 103h1M106 103h1M145 103h1M2 104h1M30 104h1M42 104h1M69 104h1M81 104h1M109 104h1M120 104h1M148 104h1M159 104h1M3 105h1M33 105h1M43 105h1M72 105h2M82 105h1M112 105h1M121 105h1M151 105h1M160 105h1M5 106h1M36 106h1M44 106h1M75 106h2M83 106h2M115 106h1M123 106h1M154 106h1M8 107h1M38 107h1M47 107h1M78 107h1M86 107h1M117 107h1M125 107h1M156 107h1M0 108h1M50 108h1M79 108h1M89 108h1M118 108h1M128 108h1M157 108h1M1 109h1M13 109h1M40 109h1M52 109h1M119 109h1M131 109h1M158 109h1M15 110h1M41 110h1M80 110h1M94 110h1M133 110h1M2 111h1M17 111h1M120 111h1M135 111h1M159 111h1M3 112h1M19 112h1M42 112h1M58 112h1M160 112h1M43 113h1M60 113h1M82 113h1M99 113h1M121 113h1M22 114h1M83 114h1M101 114h1M122 114h1M140 114h1M24 115h1M45 115h1M84 115h1M123 115h1M142 115h1M7 116h1M26 116h1M65 116h1M125 116h1M144 116h1"/>
<path stroke="#00f8f5" d="M13 0h1M30 0h1M69 0h1M92 0h1M108 0h1M131 0h1M147 0h1M16 1h1M31 1h1M55 1h1M110 1h1M134 1h1M149 1h1M33 2h1M72 2h1M97 2h1M111 2h1M136 2h1M20 3h1M34 3h1M73 3h1M99 3h1M138 3h1M152 3h1M22 4h1M35 4h1M61 4h1M100 4h1M114 4h1M153 4h1M23 5h1M62 5h1M115 5h1M141 5h1M154 5h1M24 6h1M77 6h1M116 6h1M142 6h1M155 6h1M25 7h1M39 7h1M78 7h1M104 7h1M117 7h1M143 7h1M1 8h1M40 8h1M66 8h1M105 8h1M119 8h1M144 8h1M158 8h1M3 9h1M28 9h1M42 9h1M67 9h1M106 9h1M160 9h1M5 10h1M29 10h1M84 10h1M108 10h1M123 10h1M147 10h1M8 11h1M31 11h1M47 11h1M70 11h1M109 11h1M126 11h1M149 11h1M11 12h1M72 12h1M90 12h1M111 12h1M129 12h1M150 12h1M14 13h1M34 13h1M53 13h1M73 13h1M132 13h1M152 13h1M16 14h1M75 14h1M95 14h1M114 14h1M134 14h1M153 14h1M18 15h1M37 15h1M57 15h1M76 15h1M19 16h1M38 16h1M98 16h1M137 16h1M156 16h1M0 17h1M79 17h1M99 17h1M118 17h1M138 17h1M157 17h1M21 18h1M41 18h1M80 18h1M139 18h1M22 19h1M61 19h1M82 19h1M121 19h1M23 20h1M62 20h1M84 20h1M101 20h1M123 20h1M8 21h1M47 21h1M63 21h1M86 21h1M102 21h1M141 21h1M11 22h1M25 22h1M50 22h1M64 22h1M89 22h1M103 22h1M128 22h1M142 22h1M14 23h1M26 23h1M53 23h1M65 23h1M92 23h1M105 23h1M144 23h1M17 24h1M28 24h1M56 24h1M67 24h1M95 24h1M106 24h1M134 24h1M146 24h1M19 25h1M30 25h1M58 25h1M69 25h1M97 25h1M109 25h1M148 25h1M20 26h1M32 26h1M59 26h1M111 26h1M138 26h1M150 26h1M21 27h1M34 27h1M113 27h1M139 27h1M152 27h1M22 28h1M36 28h1M61 28h1M75 28h1M154 28h1M62 29h1M77 29h1M101 29h1M116 29h1M0 30h1M23 30h1M102 30h1M118 30h1M141 30h1M157 30h1M2 31h1M24 31h1M41 31h1M63 31h1M80 31h1M142 31h1M159 31h1M25 32h1M43 32h1M64 32h1M82 32h1M143 32h1M6 33h1M26 33h1M45 33h1M84 33h1M144 33h1M8 34h1M28 34h1M67 34h1M87 34h1M106 34h1M126 34h1M11 35h1M30 35h1M50 35h1M69 35h1M108 35h1M129 35h1M13 36h1M32 36h1M71 36h1M92 36h1M131 36h1M150 36h1M15 37h1M34 37h1M94 37h1M113 37h1M133 37h1M152 37h1M36 38h1M56 38h1M95 38h1M115 38h1M154 38h1M38 39h1M57 39h1M96 39h1M156 39h1M40 40h1M58 40h1M79 40h1M97 40h1M136 40h1M2 41h1M19 41h1M81 41h1M120 41h1M137 41h1M159 41h1M4 42h1M20 42h1M43 42h1M59 42h1M98 42h1M122 42h1M6 43h1M45 43h1M99 43h1M138 43h1M8 44h1M21 44h1M47 44h1M126 44h1M139 44h1M22 45h1M50 45h1M61 45h1M89 45h1M101 45h1M128 45h1M140 45h1M13 46h1M24 46h1M52 46h1M63 46h1M92 46h1M102 46h1M131 46h1M141 46h1M16 47h1M26 47h1M55 47h1M65 47h1M94 47h1M105 47h1M133 47h1M144 47h1M17 48h1M29 48h1M68 48h1M96 48h1M135 48h1M147 48h1M18 49h1M32 49h1M71 49h1M97 49h1M136 49h1M150 49h1M19 50h1M113 50h1M137 50h1M152 50h1M20 51h1M59 51h1M76 51h1M98 51h1M115 51h1M154 51h1M99 52h1M117 52h1M138 52h1M156 52h1M21 53h1M40 53h1M79 53h1M139 53h1M22 54h1M61 54h1M81 54h1M120 54h1M4 55h1M23 55h1M43 55h1M62 55h1M24 56h1M45 56h1M84 56h1M103 56h1M123 56h1M142 56h1M7 57h1M26 57h1M86 57h1M105 57h1M125 57h1M144 57h1M9 58h1M68 58h1M88 58h1M107 58h1M127 58h1M146 58h1M11 59h1M50 59h1M71 59h1M110 59h1M129 59h1M149 59h1M13 60h1M34 60h1M52 60h1M91 60h1M113 60h1M152 60h1M14 61h1M37 61h1M76 61h1M115 61h1M132 61h1M15 62h1M39 62h1M78 62h1M94 62h1M133 62h1M16 63h1M80 63h1M95 63h1M119 63h1M134 63h1M3 64h1M17 64h1M42 64h1M135 64h1M160 64h1M18 65h1M57 65h1M83 65h1M122 65h1M136 65h1M6 66h1M19 66h1M45 66h1M58 66h1M84 66h1M7 67h1M20 67h1M59 67h1M86 67h1M125 67h1M138 67h1M9 68h1M48 68h1M61 68h1M100 68h1M127 68h1M139 68h1M11 69h1M50 69h1M63 69h1M89 69h1M102 69h1M141 69h1M26 70h1M52 70h1M91 70h1M105 70h1M130 70h1M144 70h1M14 71h1M29 71h1M53 71h1M69 71h1M108 71h1M132 71h1M147 71h1M72 72h1M94 72h1M111 72h1M133 72h1M150 72h1M35 73h1M56 73h1M74 73h1M95 73h1M134 73h1M153 73h1M37 74h1M57 74h1M76 74h1M96 74h1M155 74h1M58 75h1M78 75h1M97 75h1M117 75h1M40 76h1M59 76h1M79 76h1M98 76h1M2 77h1M21 77h1M41 77h1M60 77h1M159 77h1M3 78h1M22 78h1M42 78h1M101 78h1M140 78h1M160 78h1M4 79h1M24 79h1M43 79h1M63 79h1M5 80h1M26 80h1M44 80h1M123 80h1M144 80h1M6 81h1M29 81h1M68 81h1M85 81h1M107 81h1M124 81h1M8 82h1M32 82h1M47 82h1M71 82h1M86 82h1M125 82h1M150 82h1M9 83h1M35 83h1M74 83h1M88 83h1M127 83h1M153 83h1M11 84h1M50 84h1M77 84h1M116 84h1M129 84h1M155 84h1M0 85h1M13 85h1M52 85h1M79 85h1M91 85h1M118 85h1M157 85h1M41 86h1M80 86h1M93 86h1M119 86h1M132 86h1M16 87h1M42 87h1M55 87h1M81 87h1M43 88h1M82 88h1M96 88h1M121 88h1M135 88h1M19 89h1M58 89h1M83 89h1M97 89h1M122 89h1M5 90h1M84 90h1M99 90h1M123 90h1M138 90h1M6 91h1M22 91h1M85 91h1M124 91h1M140 91h1M24 92h1M47 92h1M86 92h1M103 92h1M125 92h1M142 92h1M9 93h1M27 93h1M48 93h1M66 93h1M127 93h1M11 94h1M30 94h1M50 94h1M69 94h1M89 94h1M108 94h1M52 95h1M72 95h1M91 95h1M111 95h1M130 95h1M150 95h1M35 96h1M54 96h1M74 96h1M93 96h1M132 96h1M16 97h1M76 97h1M115 97h1M134 97h1M18 98h1M38 98h1M57 98h1M77 98h1M39 99h1M78 99h1M98 99h1M137 99h1M21 100h1M60 100h1M79 100h1M118 100h1M1 101h1M40 101h1M62 101h1M101 101h1M119 101h1M158 101h1M41 102h1M64 102h1M80 102h1M103 102h1M142 102h1M2 103h1M27 103h1M66 103h1M81 103h1M105 103h1M120 103h1M159 103h1M3 104h1M29 104h1M82 104h1M108 104h1M121 104h1M147 104h1M160 104h1M4 105h1M32 105h1M44 105h1M83 105h1M111 105h1M122 105h1M150 105h1M6 106h1M35 106h1M45 106h1M74 106h1M85 106h1M114 106h1M124 106h1M153 106h1M9 107h1M37 107h1M48 107h1M77 107h1M87 107h1M116 107h1M126 107h1M155 107h1M11 108h1M39 108h1M78 108h1M90 108h1M117 108h1M129 108h1M156 108h1M0 109h1M14 109h1M53 109h1M79 109h1M92 109h1M118 109h1M157 109h1M1 110h1M16 110h1M40 110h1M55 110h1M119 110h1M158 110h1M41 111h1M57 111h1M80 111h1M96 111h1M2 112h1M81 112h1M98 112h1M120 112h1M137 112h1M159 112h1M3 113h1M21 113h1M42 113h1M139 113h1M160 113h1M4 114h1M23 114h1M43 114h1M62 114h1M5 115h1M25 115h1M44 115h1M64 115h1M103 115h1M27 116h1M46 116h1M66 116h1M85 116h1M105 116h1M124 116h1"/>
<path stroke="#29fcce" d="M52 0h1M70 0h1M91 0h1M109 0h1M130 0h1M148 0h1M15 1h1M32 1h1M71 1h1M94 1h1M133 1h1M150 1h1M18 2h1M57 2h1M73 2h1M96 2h1M112 2h1M151 2h1M35 3h1M59 3h1M74 3h1M98 3h1M113 3h1M21 4h1M36 4h1M75 4h1M139 4h1M37 5h1M76 5h1M101 5h1M140 5h1M155 5h1M38 6h1M63 6h1M102 6h1M141 6h1M156 6h1M0 7h1M64 7h1M103 7h1M118 7h1M157 7h1M26 8h1M41 8h1M65 8h1M80 8h1M104 8h1M27 9h1M43 9h1M66 9h1M82 9h1M121 9h1M145 9h1M6 10h1M45 10h1M68 10h1M107 10h1M124 10h1M146 10h1M9 11h1M30 11h1M48 11h1M69 11h1M87 11h1M148 11h1M12 12h1M32 12h1M51 12h1M71 12h1M110 12h1M130 12h1M15 13h1M54 13h1M93 13h1M112 13h1M151 13h1M17 14h1M35 14h1M56 14h1M74 14h1M36 15h1M58 15h1M97 15h1M115 15h1M136 15h1M154 15h1M20 16h1M59 16h1M77 16h1M116 16h1M21 17h1M39 17h1M60 17h1M78 17h1M1 18h1M61 18h1M100 18h1M119 18h1M158 18h1M3 19h1M42 19h1M62 19h1M101 19h1M140 19h1M160 19h1M5 20h1M44 20h1M83 20h1M102 20h1M141 20h1M7 21h1M24 21h1M46 21h1M103 21h1M125 21h1M142 21h1M10 22h1M49 22h1M65 22h1M88 22h1M104 22h1M143 22h1M13 23h1M27 23h1M52 23h1M66 23h1M91 23h1M131 23h1M145 23h1M16 24h1M29 24h1M55 24h1M68 24h1M94 24h1M107 24h1M147 24h1M18 25h1M31 25h1M57 25h1M70 25h1M96 25h1M136 25h1M149 25h1M33 26h1M72 26h1M98 26h1M137 26h1M151 26h1M35 27h1M60 27h1M74 27h1M99 27h1M138 27h1M21 28h1M76 28h1M100 28h1M115 28h1M139 28h1M22 29h1M38 29h1M61 29h1M140 29h1M156 29h1M40 30h1M62 30h1M79 30h1M101 30h1M81 31h1M102 31h1M120 31h1M141 31h1M4 32h1M83 32h1M103 32h1M122 32h1M142 32h1M46 33h1M65 33h1M85 33h1M104 33h1M124 33h1M143 33h1M9 34h1M27 34h1M48 34h1M66 34h1M127 34h1M145 34h1M12 35h1M29 35h1M51 35h1M68 35h1M90 35h1M147 35h1M14 36h1M31 36h1M53 36h1M110 36h1M132 36h1M149 36h1M16 37h1M55 37h1M73 37h1M112 37h1M134 37h1M151 37h1M17 38h1M75 38h1M96 38h1M114 38h1M135 38h1M18 39h1M77 39h1M97 39h1M116 39h1M136 39h1M0 40h1M19 40h1M118 40h1M137 40h1M157 40h1M41 41h1M59 41h1M80 41h1M98 41h1M82 42h1M99 42h1M121 42h1M138 42h1M5 43h1M21 43h1M60 43h1M84 43h1M123 43h1M139 43h1M22 44h1M61 44h1M86 44h1M100 44h1M125 44h1M10 45h1M23 45h1M49 45h1M62 45h1M88 45h1M141 45h1M12 46h1M25 46h1M64 46h1M91 46h1M103 46h1M130 46h1M142 46h1M15 47h1M27 47h1M54 47h1M66 47h1M93 47h1M132 47h1M145 47h1M16 48h1M30 48h1M56 48h1M69 48h1M95 48h1M108 48h1M134 48h1M148 48h1M57 49h1M72 49h1M96 49h1M111 49h1M135 49h1M35 50h1M58 50h1M74 50h1M97 50h1M136 50h1M153 50h1M19 51h1M37 51h1M137 51h1M155 51h1M20 52h1M39 52h1M59 52h1M78 52h1M1 53h1M60 53h1M80 53h1M99 53h1M119 53h1M158 53h1M3 54h1M42 54h1M100 54h1M139 54h1M160 54h1M83 55h1M101 55h1M122 55h1M140 55h1M6 56h1M63 56h1M102 56h1M124 56h1M8 57h1M47 57h1M65 57h1M104 57h1M126 57h1M143 57h1M10 58h1M28 58h1M49 58h1M67 58h1M106 58h1M128 58h1M12 59h1M31 59h1M51 59h1M70 59h1M90 59h1M109 59h1M53 60h1M73 60h1M92 60h1M112 60h1M131 60h1M151 60h1M15 61h1M36 61h1M54 61h1M93 61h1M154 61h1M16 62h1M38 62h1M55 62h1M117 62h1M156 62h1M1 63h1M17 63h1M40 63h1M56 63h1M79 63h1M158 63h1M2 64h1M57 64h1M81 64h1M96 64h1M120 64h1M159 64h1M4 65h1M43 65h1M58 65h1M82 65h1M97 65h1M5 66h1M59 66h1M98 66h1M123 66h1M137 66h1M21 67h1M46 67h1M60 67h1M85 67h1M99 67h1M8 68h1M22 68h1M87 68h1M101 68h1M126 68h1M140 68h1M10 69h1M24 69h1M49 69h1M88 69h1M103 69h1M128 69h1M142 69h1M12 70h1M27 70h1M51 70h1M66 70h1M90 70h1M129 70h1M145 70h1M13 71h1M30 71h1M92 71h1M109 71h1M131 71h1M148 71h1M15 72h1M33 72h1M54 72h1M93 72h1M151 72h1M16 73h1M55 73h1M75 73h1M114 73h1M17 74h1M56 74h1M77 74h1M116 74h1M135 74h1M0 75h1M18 75h1M39 75h1M136 75h1M157 75h1M1 76h1M19 76h1M80 76h1M119 76h1M137 76h1M158 76h1M81 77h1M99 77h1M120 77h1M138 77h1M61 78h1M82 78h1M100 78h1M121 78h1M44 79h1M83 79h1M102 79h1M122 79h1M141 79h1M45 80h1M65 80h1M84 80h1M104 80h1M143 80h1M7 81h1M28 81h1M46 81h1M67 81h1M125 81h1M146 81h1M31 82h1M48 82h1M87 82h1M110 82h1M126 82h1M149 82h1M10 83h1M34 83h1M49 83h1M113 83h1M128 83h1M152 83h1M12 84h1M37 84h1M51 84h1M76 84h1M90 84h1M115 84h1M39 85h1M53 85h1M78 85h1M92 85h1M117 85h1M131 85h1M1 86h1M15 86h1M40 86h1M54 86h1M133 86h1M158 86h1M2 87h1M41 87h1M56 87h1M95 87h1M120 87h1M134 87h1M159 87h1M3 88h1M18 88h1M42 88h1M57 88h1M160 88h1M4 89h1M43 89h1M98 89h1M137 89h1M21 90h1M44 90h1M60 90h1M83 90h1M23 91h1M45 91h1M62 91h1M84 91h1M101 91h1M7 92h1M25 92h1M46 92h1M64 92h1M85 92h1M143 92h1M8 93h1M67 93h1M87 93h1M106 93h1M126 93h1M145 93h1M10 94h1M49 94h1M70 94h1M109 94h1M128 94h1M148 94h1M12 95h1M33 95h1M51 95h1M90 95h1M112 95h1M151 95h1M14 96h1M53 96h1M75 96h1M92 96h1M114 96h1M153 96h1M37 97h1M55 97h1M94 97h1M116 97h1M133 97h1M155 97h1M17 98h1M96 98h1M117 98h1M135 98h1M156 98h1M0 99h1M19 99h1M58 99h1M118 99h1M157 99h1M1 100h1M40 100h1M99 100h1M138 100h1M158 100h1M22 101h1M41 101h1M80 101h1M140 101h1M2 102h1M24 102h1M63 102h1M81 102h1M120 102h1M159 102h1M3 103h1M26 103h1M42 103h1M65 103h1M121 103h1M144 103h1M160 103h1M4 104h1M43 104h1M68 104h1M107 104h1M122 104h1M146 104h1M5 105h1M31 105h1M71 105h1M84 105h1M110 105h1M123 105h1M149 105h1M7 106h1M34 106h1M46 106h1M73 106h1M86 106h1M113 106h1M125 106h1M152 106h1M10 107h1M36 107h1M49 107h1M76 107h1M88 107h1M115 107h1M127 107h1M154 107h1M12 108h1M38 108h1M51 108h1M77 108h1M116 108h1M130 108h1M39 109h1M54 109h1M78 109h1M93 109h1M132 109h1M79 110h1M95 110h1M118 110h1M134 110h1M1 111h1M18 111h1M97 111h1M119 111h1M136 111h1M158 111h1M20 112h1M41 112h1M59 112h1M80 112h1M61 113h1M81 113h1M100 113h1M120 113h1M3 114h1M82 114h1M102 114h1M121 114h1M141 114h1M160 114h1M4 115h1M83 115h1M104 115h1M122 115h1M143 115h1M6 116h1M45 116h1M67 116h1M84 116h1M106 116h1M145 116h1"/>
<path stroke="#57fea2" d="M12 0h1M31 0h1M51 0h1M90 0h1M110 0h1M149 0h1M33 1h1M54 1h1M72 1h1M93 1h1M111 1h1M132 1h1M17 2h1M34 2h1M56 2h1M135 2h1M152 2h1M19 3h1M58 3h1M114 3h1M137 3h1M153 3h1M60 4h1M99 4h1M115 4h1M138 4h1M154 4h1M22 5h1M61 5h1M77 5h1M116 5h1M23 6h1M62 6h1M78 6h1M117 6h1M1 7h1M24 7h1M40 7h1M79 7h1M142 7h1M158 7h1M2 8h1M25 8h1M81 8h1M120 8h1M143 8h1M159 8h1M4 9h1M83 9h1M105 9h1M122 9h1M144 9h1M7 10h1M28 10h1M46 10h1M67 10h1M85 10h1M106 10h1M29 11h1M49 11h1M88 11h1M108 11h1M127 11h1M147 11h1M13 12h1M31 12h1M52 12h1M70 12h1M91 12h1M149 12h1M33 13h1M72 13h1M94 13h1M111 13h1M133 13h1M34 14h1M57 14h1M96 14h1M113 14h1M135 14h1M152 14h1M19 15h1M75 15h1M114 15h1M137 15h1M37 16h1M99 16h1M138 16h1M155 16h1M100 17h1M117 17h1M139 17h1M156 17h1M22 18h1M40 18h1M79 18h1M140 18h1M2 19h1M23 19h1M81 19h1M120 19h1M141 19h1M159 19h1M4 20h1M24 20h1M63 20h1M122 20h1M25 21h1M64 21h1M85 21h1M124 21h1M143 21h1M9 22h1M26 22h1M48 22h1M105 22h1M127 22h1M144 22h1M12 23h1M28 23h1M51 23h1M67 23h1M106 23h1M130 23h1M15 24h1M30 24h1M54 24h1M69 24h1M93 24h1M108 24h1M133 24h1M17 25h1M32 25h1M56 25h1M71 25h1M110 25h1M135 25h1M19 26h1M34 26h1M58 26h1M73 26h1M97 26h1M112 26h1M20 27h1M59 27h1M75 27h1M114 27h1M153 27h1M37 28h1M60 28h1M99 28h1M155 28h1M39 29h1M78 29h1M100 29h1M117 29h1M139 29h1M1 30h1M22 30h1M119 30h1M140 30h1M158 30h1M3 31h1M23 31h1M42 31h1M62 31h1M160 31h1M5 32h1M24 32h1M44 32h1M63 32h1M102 32h1M7 33h1M25 33h1M64 33h1M86 33h1M103 33h1M125 33h1M10 34h1M26 34h1M49 34h1M88 34h1M105 34h1M144 34h1M28 35h1M52 35h1M91 35h1M107 35h1M130 35h1M146 35h1M15 36h1M54 36h1M70 36h1M93 36h1M109 36h1M148 36h1M33 37h1M56 37h1M72 37h1M95 37h1M18 38h1M35 38h1M57 38h1M153 38h1M19 39h1M37 39h1M58 39h1M76 39h1M155 39h1M39 40h1M59 40h1M78 40h1M98 40h1M117 40h1M1 41h1M20 41h1M119 41h1M138 41h1M158 41h1M3 42h1M21 42h1M42 42h1M60 42h1M160 42h1M44 43h1M61 43h1M83 43h1M100 43h1M7 44h1M46 44h1M62 44h1M85 44h1M101 44h1M140 44h1M9 45h1M24 45h1M48 45h1M63 45h1M102 45h1M127 45h1M51 46h1M65 46h1M90 46h1M104 46h1M129 46h1M143 46h1M14 47h1M28 47h1M53 47h1M67 47h1M92 47h1M106 47h1M146 47h1M31 48h1M55 48h1M70 48h1M94 48h1M109 48h1M133 48h1M17 49h1M33 49h1M56 49h1M112 49h1M151 49h1M18 50h1M57 50h1M75 50h1M114 50h1M58 51h1M77 51h1M97 51h1M116 51h1M0 52h1M98 52h1M118 52h1M137 52h1M157 52h1M2 53h1M20 53h1M41 53h1M138 53h1M159 53h1M21 54h1M60 54h1M82 54h1M121 54h1M5 55h1M22 55h1M44 55h1M61 55h1M100 55h1M123 55h1M7 56h1M23 56h1M46 56h1M62 56h1M85 56h1M141 56h1M9 57h1M25 57h1M48 57h1M64 57h1M87 57h1M103 57h1M11 58h1M27 58h1M50 58h1M66 58h1M89 58h1M145 58h1M30 59h1M52 59h1M69 59h1M91 59h1M130 59h1M148 59h1M14 60h1M33 60h1M72 60h1M93 60h1M132 60h1M55 61h1M75 61h1M94 61h1M114 61h1M133 61h1M153 61h1M56 62h1M77 62h1M95 62h1M116 62h1M134 62h1M0 63h1M96 63h1M118 63h1M135 63h1M157 63h1M18 64h1M41 64h1M80 64h1M136 64h1M3 65h1M19 65h1M121 65h1M137 65h1M160 65h1M20 66h1M44 66h1M83 66h1M138 66h1M6 67h1M45 67h1M100 67h1M124 67h1M139 67h1M23 68h1M47 68h1M62 68h1M86 68h1M125 68h1M141 68h1M9 69h1M25 69h1M64 69h1M127 69h1M143 69h1M11 70h1M28 70h1M50 70h1M67 70h1M89 70h1M106 70h1M31 71h1M52 71h1M70 71h1M91 71h1M130 71h1M149 71h1M14 72h1M34 72h1M53 72h1M73 72h1M112 72h1M132 72h1M15 73h1M36 73h1M94 73h1M115 73h1M133 73h1M154 73h1M38 74h1M95 74h1M134 74h1M156 74h1M40 75h1M57 75h1M79 75h1M96 75h1M118 75h1M135 75h1M2 76h1M41 76h1M58 76h1M97 76h1M159 76h1M3 77h1M20 77h1M42 77h1M59 77h1M160 77h1M4 78h1M21 78h1M43 78h1M122 78h1M139 78h1M5 79h1M23 79h1M62 79h1M101 79h1M123 79h1M6 80h1M25 80h1M64 80h1M85 80h1M103 80h1M124 80h1M47 81h1M86 81h1M106 81h1M145 81h1M9 82h1M30 82h1M70 82h1M88 82h1M109 82h1M127 82h1M148 82h1M11 83h1M50 83h1M73 83h1M89 83h1M112 83h1M151 83h1M36 84h1M52 84h1M75 84h1M91 84h1M130 84h1M154 84h1M14 85h1M38 85h1M77 85h1M132 85h1M156 85h1M0 86h1M55 86h1M79 86h1M94 86h1M118 86h1M157 86h1M17 87h1M80 87h1M119 87h1M135 87h1M81 88h1M97 88h1M120 88h1M136 88h1M3 89h1M20 89h1M59 89h1M82 89h1M121 89h1M160 89h1M4 90h1M61 90h1M100 90h1M122 90h1M139 90h1M5 91h1M44 91h1M102 91h1M123 91h1M141 91h1M6 92h1M65 92h1M104 92h1M124 92h1M28 93h1M47 93h1M86 93h1M107 93h1M125 93h1M146 93h1M9 94h1M31 94h1M48 94h1M88 94h1M110 94h1M127 94h1M149 94h1M11 95h1M34 95h1M50 95h1M73 95h1M129 95h1M152 95h1M13 96h1M36 96h1M52 96h1M115 96h1M131 96h1M154 96h1M15 97h1M38 97h1M54 97h1M77 97h1M0 98h1M39 98h1M56 98h1M78 98h1M95 98h1M157 98h1M40 99h1M79 99h1M97 99h1M136 99h1M20 100h1M59 100h1M80 100h1M119 100h1M2 101h1M61 101h1M100 101h1M120 101h1M159 101h1M3 102h1M42 102h1M102 102h1M141 102h1M160 102h1M43 103h1M82 103h1M104 103h1M143 103h1M5 104h1M28 104h1M44 104h1M67 104h1M83 104h1M106 104h1M6 105h1M45 105h1M70 105h1M109 105h1M124 105h1M148 105h1M8 106h1M33 106h1M47 106h1M112 106h1M126 106h1M151 106h1M50 107h1M75 107h1M89 107h1M114 107h1M128 107h1M153 107h1M13 108h1M37 108h1M52 108h1M91 108h1M155 108h1M15 109h1M38 109h1M117 109h1M133 109h1M156 109h1M0 110h1M17 110h1M39 110h1M56 110h1M135 110h1M157 110h1M19 111h1M40 111h1M58 111h1M79 111h1M1 112h1M60 112h1M99 112h1M119 112h1M138 112h1M158 112h1M2 113h1M22 113h1M41 113h1M140 113h1M159 113h1M24 114h1M42 114h1M63 114h1M81 114h1M142 114h1M26 115h1M43 115h1M65 115h1M82 115h1M144 115h1M5 116h1M28 116h1M44 116h1M107 116h1M123 116h1M146 116h1"/>
<path stroke="#88fe71" d="M11 0h1M32 0h1M50 0h1M71 0h1M129 0h1M150 0h1M14 1h1M53 1h1M73 1h1M112 1h1M151 1h1M35 2h1M74 2h1M95 2h1M113 2h1M134 2h1M36 3h1M75 3h1M97 3h1M136 3h1M20 4h1M37 4h1M59 4h1M76 4h1M155 4h1M21 5h1M38 5h1M100 5h1M139 5h1M156 5h1M0 6h1M39 6h1M101 6h1M118 6h1M140 6h1M157 6h1M63 7h1M80 7h1M102 7h1M119 7h1M141 7h1M3 8h1M42 8h1M64 8h1M103 8h1M160 8h1M5 9h1M26 9h1M44 9h1M65 9h1M104 9h1M27 10h1M66 10h1M86 10h1M125 10h1M145 10h1M10 11h1M68 11h1M89 11h1M107 11h1M128 11h1M146 11h1M30 12h1M53 12h1M92 12h1M109 12h1M131 12h1M148 12h1M16 13h1M32 13h1M55 13h1M71 13h1M134 13h1M150 13h1M18 14h1M73 14h1M112 14h1M136 14h1M151 14h1M20 15h1M35 15h1M59 15h1M98 15h1M153 15h1M21 16h1M60 16h1M76 16h1M115 16h1M154 16h1M22 17h1M38 17h1M61 17h1M77 17h1M0 18h1M23 18h1M62 18h1M101 18h1M118 18h1M157 18h1M41 19h1M63 19h1M80 19h1M102 19h1M43 20h1M64 20h1M82 20h1M103 20h1M121 20h1M142 20h1M6 21h1M45 21h1M65 21h1M84 21h1M104 21h1M8 22h1M27 22h1M66 22h1M87 22h1M126 22h1M145 22h1M11 23h1M68 23h1M90 23h1M107 23h1M129 23h1M146 23h1M14 24h1M53 24h1M70 24h1M109 24h1M132 24h1M148 24h1M72 25h1M95 25h1M111 25h1M134 25h1M150 25h1M18 26h1M57 26h1M113 26h1M136 26h1M152 26h1M19 27h1M36 27h1M98 27h1M137 27h1M154 27h1M20 28h1M77 28h1M116 28h1M138 28h1M0 29h1M21 29h1M60 29h1M118 29h1M157 29h1M41 30h1M61 30h1M80 30h1M100 30h1M82 31h1M101 31h1M121 31h1M140 31h1M23 32h1M45 32h1M84 32h1M123 32h1M141 32h1M8 33h1M24 33h1M47 33h1M142 33h1M50 34h1M65 34h1M89 34h1M104 34h1M128 34h1M143 34h1M13 35h1M27 35h1M67 35h1M92 35h1M106 35h1M131 35h1M145 35h1M16 36h1M30 36h1M55 36h1M69 36h1M94 36h1M108 36h1M133 36h1M17 37h1M32 37h1M96 37h1M111 37h1M135 37h1M150 37h1M58 38h1M74 38h1M97 38h1M113 38h1M136 38h1M152 38h1M98 39h1M115 39h1M137 39h1M154 39h1M20 40h1M38 40h1M138 40h1M156 40h1M21 41h1M40 41h1M60 41h1M79 41h1M99 41h1M81 42h1M100 42h1M120 42h1M139 42h1M4 43h1M22 43h1M122 43h1M140 43h1M6 44h1M23 44h1M124 44h1M141 44h1M8 45h1M64 45h1M87 45h1M103 45h1M126 45h1M142 45h1M11 46h1M26 46h1M50 46h1M89 46h1M105 46h1M144 46h1M13 47h1M29 47h1M52 47h1M68 47h1M107 47h1M131 47h1M15 48h1M54 48h1M71 48h1M93 48h1M110 48h1M149 48h1M16 49h1M34 49h1M73 49h1M95 49h1M134 49h1M152 49h1M17 50h1M36 50h1M96 50h1M115 50h1M135 50h1M154 50h1M18 51h1M38 51h1M136 51h1M156 51h1M19 52h1M40 52h1M58 52h1M79 52h1M59 53h1M81 53h1M98 53h1M120 53h1M137 53h1M4 54h1M20 54h1M43 54h1M99 54h1M138 54h1M21 55h1M45 55h1M84 55h1M139 55h1M47 56h1M86 56h1M101 56h1M125 56h1M140 56h1M24 57h1M49 57h1M63 57h1M88 57h1M127 57h1M142 57h1M26 58h1M51 58h1M90 58h1M105 58h1M129 58h1M144 58h1M13 59h1M29 59h1M92 59h1M108 59h1M131 59h1M147 59h1M15 60h1M32 60h1M54 60h1M111 60h1M150 60h1M16 61h1M35 61h1M74 61h1M113 61h1M134 61h1M17 62h1M37 62h1M76 62h1M135 62h1M155 62h1M18 63h1M39 63h1M57 63h1M78 63h1M1 64h1M19 64h1M58 64h1M97 64h1M119 64h1M158 64h1M42 65h1M59 65h1M81 65h1M98 65h1M4 66h1M43 66h1M60 66h1M99 66h1M122 66h1M22 67h1M61 67h1M84 67h1M123 67h1M140 67h1M7 68h1M46 68h1M63 68h1M85 68h1M102 68h1M26 69h1M48 69h1M65 69h1M87 69h1M104 69h1M126 69h1M10 70h1M49 70h1M68 70h1M107 70h1M128 70h1M146 70h1M12 71h1M32 71h1M51 71h1M71 71h1M90 71h1M110 71h1M13 72h1M74 72h1M92 72h1M113 72h1M131 72h1M152 72h1M37 73h1M54 73h1M76 73h1M93 73h1M16 74h1M39 74h1M55 74h1M78 74h1M117 74h1M1 75h1M17 75h1M56 75h1M119 75h1M158 75h1M18 76h1M81 76h1M120 76h1M136 76h1M19 77h1M43 77h1M82 77h1M98 77h1M121 77h1M137 77h1M44 78h1M60 78h1M83 78h1M99 78h1M6 79h1M22 79h1M45 79h1M84 79h1M140 79h1M7 80h1M24 80h1M46 80h1M125 80h1M142 80h1M8 81h1M27 81h1M66 81h1M87 81h1M105 81h1M126 81h1M10 82h1M49 82h1M69 82h1M108 82h1M128 82h1M147 82h1M33 83h1M51 83h1M72 83h1M90 83h1M111 83h1M129 83h1M13 84h1M35 84h1M92 84h1M114 84h1M131 84h1M153 84h1M15 85h1M54 85h1M93 85h1M116 85h1M155 85h1M16 86h1M39 86h1M78 86h1M95 86h1M134 86h1M1 87h1M40 87h1M57 87h1M96 87h1M158 87h1M2 88h1M19 88h1M41 88h1M58 88h1M137 88h1M159 88h1M42 89h1M81 89h1M99 89h1M138 89h1M22 90h1M43 90h1M82 90h1M140 90h1M24 91h1M63 91h1M83 91h1M122 91h1M142 91h1M26 92h1M45 92h1M84 92h1M105 92h1M123 92h1M144 92h1M7 93h1M29 93h1M46 93h1M68 93h1M85 93h1M147 93h1M8 94h1M32 94h1M71 94h1M87 94h1M126 94h1M150 94h1M10 95h1M35 95h1M74 95h1M89 95h1M113 95h1M128 95h1M12 96h1M37 96h1M76 96h1M91 96h1M130 96h1M155 96h1M14 97h1M78 97h1M93 97h1M117 97h1M132 97h1M156 97h1M16 98h1M79 98h1M118 98h1M134 98h1M1 99h1M18 99h1M57 99h1M96 99h1M119 99h1M158 99h1M2 100h1M41 100h1M98 100h1M137 100h1M159 100h1M21 101h1M42 101h1M60 101h1M81 101h1M139 101h1M23 102h1M62 102h1M82 102h1M101 102h1M121 102h1M4 103h1M25 103h1M64 103h1M83 103h1M103 103h1M122 103h1M27 104h1M84 104h1M123 104h1M145 104h1M7 105h1M30 105h1M46 105h1M69 105h1M85 105h1M108 105h1M9 106h1M48 106h1M72 106h1M87 106h1M111 106h1M127 106h1M150 106h1M11 107h1M35 107h1M74 107h1M90 107h1M113 107h1M129 107h1M53 108h1M76 108h1M92 108h1M115 108h1M131 108h1M154 108h1M55 109h1M77 109h1M94 109h1M116 109h1M57 110h1M78 110h1M96 110h1M117 110h1M0 111h1M98 111h1M118 111h1M137 111h1M157 111h1M21 112h1M40 112h1M79 112h1M139 112h1M62 113h1M80 113h1M101 113h1M119 113h1M2 114h1M64 114h1M103 114h1M120 114h1M159 114h1M3 115h1M42 115h1M66 115h1M105 115h1M121 115h1M160 115h1M4 116h1M29 116h1M68 116h1M83 116h1M122 116h1M147 116h1"/>
<path stroke="#bcfc3b" d="M10 0h1M33 0h1M49 0h1M72 0h1M89 0h1M111 0h1M128 0h1M13 1h1M34 1h1M92 1h1M131 1h1M152 1h1M16 2h1M55 2h1M94 2h1M114 2h1M153 2h1M18 3h1M57 3h1M76 3h1M96 3h1M115 3h1M154 3h1M77 4h1M98 4h1M116 4h1M137 4h1M60 5h1M78 5h1M99 5h1M117 5h1M22 6h1M40 6h1M61 6h1M79 6h1M2 7h1M23 7h1M41 7h1M62 7h1M159 7h1M24 8h1M43 8h1M63 8h1M82 8h1M121 8h1M142 8h1M25 9h1M45 9h1M84 9h1M123 9h1M143 9h1M8 10h1M47 10h1M105 10h1M126 10h1M144 10h1M11 11h1M28 11h1M50 11h1M67 11h1M90 11h1M106 11h1M129 11h1M14 12h1M69 12h1M93 12h1M108 12h1M132 12h1M147 12h1M17 13h1M31 13h1M56 13h1M95 13h1M110 13h1M149 13h1M19 14h1M33 14h1M58 14h1M72 14h1M97 14h1M74 15h1M99 15h1M113 15h1M138 15h1M152 15h1M36 16h1M61 16h1M75 16h1M100 16h1M139 16h1M101 17h1M116 17h1M140 17h1M155 17h1M39 18h1M78 18h1M102 18h1M141 18h1M1 19h1M24 19h1M119 19h1M142 19h1M158 19h1M3 20h1M25 20h1M42 20h1M143 20h1M160 20h1M5 21h1M26 21h1M44 21h1M105 21h1M123 21h1M144 21h1M47 22h1M67 22h1M86 22h1M106 22h1M29 23h1M50 23h1M89 23h1M108 23h1M128 23h1M147 23h1M13 24h1M31 24h1M92 24h1M110 24h1M131 24h1M149 24h1M16 25h1M33 25h1M55 25h1M94 25h1M151 25h1M35 26h1M74 26h1M96 26h1M135 26h1M153 26h1M58 27h1M76 27h1M97 27h1M115 27h1M38 28h1M59 28h1M98 28h1M117 28h1M156 28h1M40 29h1M79 29h1M99 29h1M138 29h1M2 30h1M21 30h1M120 30h1M139 30h1M159 30h1M4 31h1M22 31h1M43 31h1M61 31h1M100 31h1M122 31h1M6 32h1M62 32h1M101 32h1M124 32h1M140 32h1M48 33h1M63 33h1M87 33h1M102 33h1M126 33h1M141 33h1M11 34h1M25 34h1M51 34h1M64 34h1M90 34h1M103 34h1M129 34h1M14 35h1M53 35h1M66 35h1M93 35h1M105 35h1M132 35h1M144 35h1M29 36h1M56 36h1M68 36h1M95 36h1M107 36h1M134 36h1M147 36h1M18 37h1M57 37h1M71 37h1M110 37h1M136 37h1M149 37h1M19 38h1M34 38h1M73 38h1M98 38h1M112 38h1M137 38h1M20 39h1M36 39h1M59 39h1M75 39h1M138 39h1M60 40h1M77 40h1M99 40h1M116 40h1M0 41h1M100 41h1M118 41h1M139 41h1M157 41h1M2 42h1M22 42h1M41 42h1M61 42h1M159 42h1M23 43h1M43 43h1M62 43h1M82 43h1M101 43h1M24 44h1M45 44h1M63 44h1M84 44h1M102 44h1M123 44h1M25 45h1M47 45h1M86 45h1M125 45h1M143 45h1M10 46h1M27 46h1M49 46h1M66 46h1M88 46h1M128 46h1M145 46h1M12 47h1M69 47h1M91 47h1M108 47h1M130 47h1M147 47h1M14 48h1M32 48h1M53 48h1M111 48h1M132 48h1M150 48h1M35 49h1M55 49h1M74 49h1M94 49h1M113 49h1M133 49h1M37 50h1M56 50h1M76 50h1M95 50h1M39 51h1M57 51h1M78 51h1M96 51h1M117 51h1M1 52h1M80 52h1M97 52h1M119 52h1M136 52h1M158 52h1M3 53h1M19 53h1M42 53h1M58 53h1M160 53h1M44 54h1M59 54h1M83 54h1M98 54h1M122 54h1M6 55h1M60 55h1M85 55h1M99 55h1M124 55h1M138 55h1M8 56h1M22 56h1M61 56h1M100 56h1M126 56h1M10 57h1M23 57h1M89 57h1M102 57h1M128 57h1M141 57h1M12 58h1M65 58h1M91 58h1M104 58h1M130 58h1M143 58h1M14 59h1M28 59h1M53 59h1M68 59h1M93 59h1M107 59h1M132 59h1M146 59h1M55 60h1M71 60h1M94 60h1M110 60h1M133 60h1M149 60h1M17 61h1M34 61h1M56 61h1M95 61h1M152 61h1M57 62h1M96 62h1M115 62h1M154 62h1M58 63h1M97 63h1M117 63h1M136 63h1M156 63h1M40 64h1M79 64h1M98 64h1M137 64h1M2 65h1M20 65h1M120 65h1M138 65h1M159 65h1M21 66h1M82 66h1M100 66h1M121 66h1M139 66h1M5 67h1M44 67h1M62 67h1M83 67h1M101 67h1M6 68h1M24 68h1M103 68h1M124 68h1M142 68h1M8 69h1M47 69h1M66 69h1M86 69h1M105 69h1M144 69h1M9 70h1M29 70h1M88 70h1M108 70h1M127 70h1M147 70h1M11 71h1M50 71h1M72 71h1M111 71h1M129 71h1M150 71h1M35 72h1M52 72h1M91 72h1M114 72h1M130 72h1M153 72h1M14 73h1M53 73h1M77 73h1M116 73h1M132 73h1M155 73h1M0 74h1M15 74h1M94 74h1M118 74h1M133 74h1M157 74h1M41 75h1M80 75h1M95 75h1M134 75h1M3 76h1M42 76h1M57 76h1M96 76h1M135 76h1M160 76h1M4 77h1M58 77h1M97 77h1M122 77h1M5 78h1M20 78h1M59 78h1M123 78h1M138 78h1M61 79h1M85 79h1M100 79h1M124 79h1M139 79h1M47 80h1M63 80h1M86 80h1M102 80h1M141 80h1M9 81h1M26 81h1M48 81h1M65 81h1M127 81h1M144 81h1M11 82h1M29 82h1M50 82h1M68 82h1M89 82h1M107 82h1M12 83h1M32 83h1M71 83h1M91 83h1M130 83h1M150 83h1M14 84h1M53 84h1M74 84h1M113 84h1M132 84h1M37 85h1M55 85h1M76 85h1M94 85h1M115 85h1M133 85h1M17 86h1M56 86h1M117 86h1M156 86h1M18 87h1M79 87h1M118 87h1M136 87h1M59 88h1M80 88h1M98 88h1M119 88h1M2 89h1M21 89h1M60 89h1M120 89h1M139 89h1M159 89h1M3 90h1M42 90h1M62 90h1M101 90h1M121 90h1M160 90h1M4 91h1M43 91h1M64 91h1M103 91h1M5 92h1M27 92h1M44 92h1M66 92h1M83 92h1M145 92h1M6 93h1M30 93h1M45 93h1M69 93h1M108 93h1M124 93h1M33 94h1M47 94h1M72 94h1M86 94h1M111 94h1M125 94h1M151 94h1M36 95h1M49 95h1M75 95h1M88 95h1M114 95h1M127 95h1M153 95h1M38 96h1M51 96h1M77 96h1M90 96h1M116 96h1M129 96h1M0 97h1M39 97h1M53 97h1M92 97h1M157 97h1M1 98h1M40 98h1M55 98h1M94 98h1M133 98h1M158 98h1M2 99h1M17 99h1M41 99h1M80 99h1M135 99h1M159 99h1M19 100h1M58 100h1M81 100h1M120 100h1M3 101h1M99 101h1M121 101h1M138 101h1M160 101h1M4 102h1M22 102h1M43 102h1M140 102h1M5 103h1M24 103h1M44 103h1M142 103h1M6 104h1M45 104h1M66 104h1M105 104h1M124 104h1M144 104h1M29 105h1M47 105h1M68 105h1M86 105h1M125 105h1M147 105h1M10 106h1M32 106h1M49 106h1M71 106h1M88 106h1M110 106h1M12 107h1M34 107h1M51 107h1M73 107h1M130 107h1M152 107h1M14 108h1M36 108h1M75 108h1M93 108h1M114 108h1M132 108h1M16 109h1M37 109h1M76 109h1M95 109h1M134 109h1M155 109h1M18 110h1M38 110h1M77 110h1M136 110h1M156 110h1M20 111h1M39 111h1M59 111h1M78 111h1M117 111h1M0 112h1M61 112h1M100 112h1M118 112h1M157 112h1M1 113h1M23 113h1M40 113h1M79 113h1M102 113h1M141 113h1M158 113h1M25 114h1M41 114h1M80 114h1M119 114h1M143 114h1M2 115h1M27 115h1M81 115h1M106 115h1M120 115h1M145 115h1M159 115h1M30 116h1M43 116h1M69 116h1M82 116h1M108 116h1M121 116h1"/>
<path stroke="#ecf80a" d="M9 0h1M73 0h1M88 0h1M112 0h1M127 0h1M151 0h1M35 1h1M52 1h1M74 1h1M91 1h1M113 1h1M130 1h1M15 2h1M36 2h1M54 2h1M75 2h1M133 2h1M154 2h1M17 3h1M37 3h1M135 3h1M155 3h1M19 4h1M38 4h1M58 4h1M156 4h1M0 5h1M20 5h1M39 5h1M138 5h1M157 5h1M1 6h1M100 6h1M119 6h1M139 6h1M158 6h1M81 7h1M101 7h1M120 7h1M140 7h1M4 8h1M102 8h1M122 8h1M141 8h1M6 9h1M64 9h1M85 9h1M103 9h1M124 9h1M142 9h1M9 10h1M26 10h1M48 10h1M65 10h1M87 10h1M104 10h1M12 11h1M27 11h1M51 11h1M66 11h1M130 11h1M145 11h1M15 12h1M29 12h1M54 12h1M68 12h1M107 12h1M133 12h1M146 12h1M18 13h1M57 13h1M70 13h1M96 13h1M109 13h1M135 13h1M148 13h1M32 14h1M59 14h1M98 14h1M111 14h1M137 14h1M150 14h1M21 15h1M34 15h1M60 15h1M73 15h1M112 15h1M139 15h1M22 16h1M35 16h1M114 16h1M140 16h1M153 16h1M23 17h1M37 17h1M62 17h1M76 17h1M115 17h1M141 17h1M24 18h1M38 18h1M63 18h1M117 18h1M156 18h1M25 19h1M40 19h1M64 19h1M79 19h1M103 19h1M118 19h1M2 20h1M26 20h1M65 20h1M81 20h1M104 20h1M120 20h1M159 20h1M27 21h1M66 21h1M83 21h1M122 21h1M145 21h1M7 22h1M28 22h1M46 22h1M107 22h1M125 22h1M146 22h1M10 23h1M30 23h1M49 23h1M69 23h1M88 23h1M148 23h1M32 24h1M52 24h1M71 24h1M91 24h1M130 24h1M150 24h1M15 25h1M34 25h1M54 25h1M73 25h1M112 25h1M133 25h1M17 26h1M56 26h1M75 26h1M95 26h1M114 26h1M18 27h1M37 27h1M116 27h1M136 27h1M155 27h1M19 28h1M39 28h1M78 28h1M137 28h1M1 29h1M20 29h1M59 29h1M119 29h1M158 29h1M3 30h1M42 30h1M60 30h1M81 30h1M99 30h1M160 30h1M21 31h1M44 31h1M83 31h1M139 31h1M7 32h1M22 32h1M46 32h1M61 32h1M85 32h1M9 33h1M23 33h1M62 33h1M88 33h1M101 33h1M127 33h1M12 34h1M24 34h1M63 34h1M91 34h1M102 34h1M130 34h1M142 34h1M15 35h1M26 35h1M54 35h1M65 35h1M94 35h1M104 35h1M133 35h1M143 35h1M17 36h1M28 36h1M57 36h1M67 36h1M96 36h1M106 36h1M135 36h1M146 36h1M19 37h1M31 37h1M58 37h1M70 37h1M97 37h1M109 37h1M137 37h1M148 37h1M20 38h1M33 38h1M59 38h1M72 38h1M151 38h1M35 39h1M60 39h1M99 39h1M114 39h1M153 39h1M21 40h1M37 40h1M139 40h1M155 40h1M22 41h1M39 41h1M61 41h1M78 41h1M1 42h1M62 42h1M80 42h1M101 42h1M119 42h1M140 42h1M158 42h1M3 43h1M42 43h1M102 43h1M121 43h1M141 43h1M160 43h1M5 44h1M44 44h1M103 44h1M142 44h1M7 45h1M26 45h1M46 45h1M65 45h1M104 45h1M9 46h1M28 46h1M67 46h1M106 46h1M127 46h1M11 47h1M30 47h1M51 47h1M90 47h1M109 47h1M129 47h1M148 47h1M13 48h1M33 48h1M72 48h1M92 48h1M131 48h1M15 49h1M54 49h1M114 49h1M153 49h1M16 50h1M77 50h1M116 50h1M134 50h1M155 50h1M0 51h1M17 51h1M56 51h1M118 51h1M135 51h1M157 51h1M2 52h1M18 52h1M41 52h1M57 52h1M96 52h1M159 52h1M82 53h1M97 53h1M121 53h1M136 53h1M5 54h1M19 54h1M123 54h1M137 54h1M7 55h1M20 55h1M46 55h1M59 55h1M9 56h1M21 56h1M48 56h1M60 56h1M87 56h1M127 56h1M139 56h1M11 57h1M22 57h1M50 57h1M62 57h1M101 57h1M129 57h1M140 57h1M13 58h1M25 58h1M52 58h1M64 58h1M92 58h1M103 58h1M131 58h1M142 58h1M15 59h1M54 59h1M67 59h1M106 59h1M133 59h1M145 59h1M16 60h1M31 60h1M56 60h1M70 60h1M95 60h1M109 60h1M134 60h1M73 61h1M96 61h1M112 61h1M135 61h1M151 61h1M18 62h1M36 62h1M75 62h1M97 62h1M136 62h1M19 63h1M38 63h1M77 63h1M116 63h1M137 63h1M0 64h1M20 64h1M59 64h1M118 64h1M157 64h1M41 65h1M60 65h1M80 65h1M99 65h1M3 66h1M22 66h1M42 66h1M61 66h1M160 66h1M4 67h1M23 67h1M122 67h1M141 67h1M25 68h1M45 68h1M64 68h1M84 68h1M123 68h1M7 69h1M27 69h1M46 69h1M106 69h1M125 69h1M145 69h1M30 70h1M48 70h1M69 70h1M87 70h1M126 70h1M148 70h1M10 71h1M33 71h1M89 71h1M112 71h1M128 71h1M151 71h1M12 72h1M36 72h1M51 72h1M75 72h1M90 72h1M154 72h1M13 73h1M38 73h1M92 73h1M117 73h1M131 73h1M156 73h1M1 74h1M40 74h1M54 74h1M79 74h1M93 74h1M132 74h1M158 74h1M2 75h1M16 75h1M55 75h1M81 75h1M94 75h1M120 75h1M159 75h1M17 76h1M43 76h1M56 76h1M82 76h1M121 76h1M18 77h1M44 77h1M83 77h1M136 77h1M6 78h1M45 78h1M84 78h1M98 78h1M137 78h1M7 79h1M21 79h1M46 79h1M60 79h1M125 79h1M8 80h1M23 80h1M62 80h1M87 80h1M101 80h1M126 80h1M10 81h1M25 81h1M49 81h1M88 81h1M104 81h1M143 81h1M28 82h1M51 82h1M67 82h1M90 82h1M129 82h1M146 82h1M13 83h1M31 83h1M52 83h1M110 83h1M131 83h1M149 83h1M34 84h1M54 84h1M73 84h1M93 84h1M152 84h1M16 85h1M36 85h1M134 85h1M154 85h1M38 86h1M77 86h1M96 86h1M116 86h1M135 86h1M0 87h1M39 87h1M58 87h1M78 87h1M97 87h1M157 87h1M1 88h1M20 88h1M40 88h1M79 88h1M138 88h1M158 88h1M41 89h1M61 89h1M80 89h1M100 89h1M23 90h1M81 90h1M120 90h1M141 90h1M3 91h1M25 91h1M82 91h1M104 91h1M121 91h1M143 91h1M160 91h1M4 92h1M28 92h1M43 92h1M67 92h1M106 92h1M122 92h1M5 93h1M31 93h1M70 93h1M84 93h1M109 93h1M123 93h1M148 93h1M7 94h1M34 94h1M46 94h1M73 94h1M85 94h1M112 94h1M124 94h1M9 95h1M37 95h1M48 95h1M76 95h1M87 95h1M115 95h1M126 95h1M154 95h1M11 96h1M50 96h1M78 96h1M89 96h1M117 96h1M156 96h1M13 97h1M40 97h1M52 97h1M79 97h1M118 97h1M131 97h1M15 98h1M41 98h1M54 98h1M80 98h1M119 98h1M56 99h1M81 99h1M95 99h1M120 99h1M3 100h1M18 100h1M42 100h1M97 100h1M121 100h1M136 100h1M160 100h1M20 101h1M43 101h1M59 101h1M82 101h1M44 102h1M61 102h1M83 102h1M100 102h1M122 102h1M45 103h1M63 103h1M84 103h1M102 103h1M123 103h1M141 103h1M7 104h1M26 104h1M46 104h1M65 104h1M85 104h1M104 104h1M8 105h1M28 105h1M87 105h1M107 105h1M126 105h1M146 105h1M31 106h1M50 106h1M70 106h1M89 106h1M128 106h1M149 106h1M13 107h1M33 107h1M52 107h1M91 107h1M112 107h1M151 107h1M15 108h1M35 108h1M54 108h1M153 108h1M17 109h1M56 109h1M115 109h1M154 109h1M58 110h1M97 110h1M116 110h1M155 110h1M38 111h1M99 111h1M138 111h1M156 111h1M22 112h1M39 112h1M78 112h1M140 112h1M0 113h1M24 113h1M63 113h1M118 113h1M157 113h1M1 114h1M26 114h1M40 114h1M65 114h1M104 114h1M158 114h1M28 115h1M41 115h1M67 115h1M80 115h1M119 115h1M146 115h1M3 116h1M42 116h1M70 116h1M81 116h1M109 116h1M120 116h1M148 116h1M160 116h1"/>
<path stroke="#f2e606" d="M34 0h1M48 0h1M87 0h1M113 0h1M126 0h1M152 0h1M12 1h1M51 1h1M75 1h1M90 1h1M114 1h1M153 1h1M37 2h1M76 2h1M93 2h1M115 2h1M132 2h1M56 3h1M77 3h1M95 3h1M116 3h1M78 4h1M97 4h1M117 4h1M136 4h1M59 5h1M79 5h1M98 5h1M118 5h1M21 6h1M41 6h1M60 6h1M80 6h1M3 7h1M22 7h1M42 7h1M61 7h1M160 7h1M23 8h1M44 8h1M62 8h1M83 8h1M7 9h1M24 9h1M46 9h1M63 9h1M102 9h1M25 10h1M49 10h1M64 10h1M88 10h1M127 10h1M143 10h1M13 11h1M26 11h1M52 11h1M91 11h1M105 11h1M144 11h1M16 12h1M28 12h1M55 12h1M67 12h1M94 12h1M106 12h1M134 12h1M30 13h1M58 13h1M69 13h1M97 13h1M108 13h1M136 13h1M147 13h1M20 14h1M31 14h1M60 14h1M71 14h1M99 14h1M110 14h1M138 14h1M149 14h1M22 15h1M33 15h1M61 15h1M72 15h1M100 15h1M151 15h1M23 16h1M62 16h1M74 16h1M101 16h1M113 16h1M36 17h1M63 17h1M102 17h1M154 17h1M64 18h1M77 18h1M103 18h1M116 18h1M142 18h1M0 19h1M39 19h1M104 19h1M143 19h1M157 19h1M41 20h1M80 20h1M105 20h1M144 20h1M4 21h1M43 21h1M67 21h1M82 21h1M106 21h1M6 22h1M29 22h1M68 22h1M85 22h1M124 22h1M147 22h1M9 23h1M31 23h1M48 23h1M70 23h1M109 23h1M127 23h1M12 24h1M33 24h1M51 24h1M72 24h1M90 24h1M111 24h1M14 25h1M74 25h1M93 25h1M113 25h1M132 25h1M152 25h1M16 26h1M36 26h1M115 26h1M134 26h1M154 26h1M38 27h1M57 27h1M77 27h1M96 27h1M135 27h1M0 28h1M58 28h1M97 28h1M118 28h1M157 28h1M41 29h1M80 29h1M98 29h1M137 29h1M20 30h1M59 30h1M82 30h1M121 30h1M138 30h1M5 31h1M60 31h1M99 31h1M123 31h1M21 32h1M47 32h1M86 32h1M100 32h1M125 32h1M139 32h1M10 33h1M22 33h1M49 33h1M61 33h1M89 33h1M100 33h1M128 33h1M140 33h1M13 34h1M23 34h1M52 34h2M62 34h1M92 34h1M101 34h1M131 34h1M141 34h1M16 35h1M24 35h2M55 35h2M64 35h1M95 35h1M103 35h1M134 35h1M142 35h1M18 36h2M27 36h1M58 36h1M66 36h1M97 36h1M105 36h1M136 36h1M145 36h1M20 37h1M30 37h1M59 37h1M69 37h1M98 37h1M108 37h1M32 38h1M60 38h1M99 38h1M111 38h1M138 38h1M150 38h1M21 39h1M74 39h1M100 39h1M113 39h1M139 39h1M22 40h1M61 40h1M76 40h1M100 40h1M115 40h1M101 41h1M117 41h1M140 41h1M156 41h1M23 42h1M40 42h1M79 42h1M141 42h1M24 43h1M63 43h1M81 43h1M120 43h1M4 44h1M25 44h1M64 44h1M83 44h1M122 44h1M143 44h1M6 45h1M66 45h1M85 45h1M105 45h1M124 45h1M144 45h1M48 46h1M68 46h1M87 46h1M107 46h1M126 46h1M146 46h1M31 47h1M50 47h1M70 47h1M89 47h1M128 47h1M149 47h1M52 48h1M73 48h1M91 48h1M112 48h1M151 48h1M14 49h1M36 49h1M75 49h1M93 49h1M132 49h1M154 49h1M38 50h1M55 50h1M94 50h1M133 50h1M156 50h1M40 51h1M79 51h1M95 51h1M134 51h1M17 52h1M81 52h1M120 52h1M135 52h1M4 53h1M18 53h1M43 53h1M57 53h1M122 53h1M6 54h1M45 54h1M58 54h1M84 54h1M97 54h1M136 54h1M19 55h1M47 55h1M86 55h1M98 55h1M125 55h1M137 55h1M10 56h1M20 56h1M49 56h1M59 56h1M88 56h1M99 56h1M138 56h1M12 57h1M21 57h1M51 57h1M61 57h1M90 57h2M100 57h1M130 57h1M139 57h1M14 58h1M23 58h2M53 58h2M63 58h1M93 58h1M102 58h1M132 58h1M141 58h1M16 59h1M27 59h1M55 59h1M66 59h1M94 59h1M105 59h1M134 59h1M144 59h1M17 60h1M30 60h1M69 60h1M96 60h1M108 60h1M135 60h1M148 60h1M18 61h1M33 61h1M57 61h1M72 61h1M111 61h1M136 61h1M19 62h1M35 62h1M58 62h1M114 62h1M153 62h1M37 63h1M59 63h1M98 63h1M155 63h1M39 64h1M78 64h1M99 64h1M138 64h1M1 65h1M21 65h1M40 65h1M100 65h1M119 65h1M139 65h1M158 65h1M81 66h1M101 66h1M120 66h1M140 66h1M24 67h1M43 67h1M63 67h1M82 67h1M102 67h1M5 68h1M44 68h1M65 68h1M104 68h1M143 68h1M6 69h1M28 69h1M67 69h1M85 69h1M124 69h1M146 69h1M8 70h1M31 70h1M47 70h1M70 70h1M86 70h1M109 70h1M34 71h1M49 71h1M73 71h1M88 71h1M127 71h1M152 71h1M11 72h1M37 72h1M50 72h1M76 72h1M115 72h1M129 72h1M0 73h1M39 73h1M52 73h1M78 73h1M91 73h1M130 73h1M157 73h1M14 74h1M41 74h1M53 74h1M80 74h1M119 74h1M3 75h1M15 75h1M42 75h1M133 75h1M160 75h1M4 76h1M16 76h1M95 76h1M122 76h1M134 76h1M5 77h1M57 77h1M84 77h1M96 77h1M123 77h1M135 77h1M19 78h1M46 78h1M58 78h1M85 78h1M97 78h1M124 78h1M8 79h1M20 79h1M47 79h1M86 79h1M99 79h1M138 79h1M9 80h1M22 80h1M48 80h1M61 80h1M127 80h1M140 80h1M11 81h1M24 81h1M50 81h1M64 81h1M89 81h1M103 81h1M128 81h1M142 81h1M12 82h1M27 82h1M91 82h1M106 82h1M130 82h1M145 82h1M14 83h1M53 83h1M70 83h1M92 83h1M109 83h1M148 83h1M15 84h1M33 84h1M94 84h1M112 84h1M133 84h1M151 84h1M17 85h1M56 85h1M75 85h1M95 85h1M114 85h1M153 85h1M18 86h1M37 86h1M57 86h1M136 86h1M155 86h1M19 87h1M98 87h1M117 87h1M137 87h1M156 87h1M0 88h1M60 88h1M99 88h1M118 88h1M157 88h1M1 89h1M22 89h1M119 89h1M140 89h1M158 89h1M2 90h1M24 90h1M41 90h1M63 90h1M102 90h1M159 90h1M26 91h1M42 91h1M65 91h1M81 91h1M68 92h1M82 92h1M107 92h1M121 92h1M146 92h1M4 93h1M44 93h1M71 93h1M83 93h1M110 93h1M122 93h1M149 93h1M6 94h1M35 94h1M45 94h1M74 94h1M84 94h1M113 94h1M123 94h1M152 94h2M7 95h2M38 95h1M47 95h1M77 95h1M86 95h1M116 95h1M125 95h1M155 95h1M0 96h1M10 96h1M39 96h1M49 96h1M79 96h1M88 96h1M118 96h1M128 96h1M157 96h1M1 97h1M12 97h1M41 97h1M51 97h1M80 97h1M91 97h1M119 97h1M130 97h1M158 97h1M2 98h1M14 98h1M81 98h1M93 98h1M120 98h1M132 98h1M159 98h1M3 99h1M16 99h1M42 99h1M55 99h1M134 99h1M160 99h1M43 100h1M57 100h1M82 100h1M96 100h1M4 101h1M83 101h1M98 101h1M122 101h1M137 101h1M5 102h1M21 102h1M60 102h1M123 102h1M139 102h1M6 103h1M23 103h1M62 103h1M124 103h1M25 104h1M64 104h1M86 104h1M125 104h1M143 104h1M9 105h1M48 105h1M67 105h1M106 105h1M127 105h1M145 105h1M11 106h1M30 106h1M90 106h1M109 106h1M129 106h1M148 106h1M53 107h1M72 107h1M92 107h1M111 107h1M131 107h1M150 107h1M55 108h1M74 108h1M94 108h1M113 108h1M133 108h1M152 108h1M36 109h1M57 109h1M75 109h1M96 109h1M135 109h1M19 110h1M37 110h1M76 110h1M98 110h1M137 110h1M21 111h1M60 111h1M77 111h1M116 111h1M62 112h1M101 112h1M117 112h1M156 112h1M39 113h1M78 113h1M103 113h1M142 113h1M0 114h1M66 114h1M79 114h1M105 114h1M118 114h1M144 114h1M157 114h1M1 115h1M29 115h1M40 115h1M68 115h1M79 115h1M107 115h1M158 115h1M2 116h1M31 116h1M41 116h1M71 116h1M80 116h1M110 116h1M119 116h1M149 116h1M159 116h1"/>
<path stroke="#f9d403" d="M8 0h1M35 0h1M47 0h1M74 0h1M86 0h1M114 0h1M125 0h1M153 0h1M11 1h1M36 1h1M50 1h1M76 1h1M115 1h1M129 1h1M154 1h1M14 2h1M53 2h1M92 2h1M116 2h1M155 2h1M16 3h1M38 3h1M55 3h1M117 3h1M134 3h1M156 3h1M0 4h1M18 4h1M39 4h1M57 4h1M96 4h1M157 4h1M1 5h1M19 5h1M40 5h1M137 5h1M158 5h1M2 6h1M99 6h1M120 6h1M138 6h1M159 6h1M43 7h1M82 7h1M100 7h1M121 7h1M139 7h1M5 8h1M22 8h1M84 8h1M101 8h1M123 8h1M140 8h1M23 9h1M47 9h1M86 9h1M125 9h1M141 9h1M10 10h1M24 10h1M63 10h1M89 10h1M103 10h1M128 10h1M142 10h1M14 11h1M25 11h1M53 11h1M65 11h1M92 11h1M104 11h1M131 11h1M143 11h1M17 12h1M27 12h1M56 12h1M66 12h1M95 12h1M105 12h1M135 12h1M145 12h1M19 13h2M29 13h1M59 13h1M68 13h1M98 13h1M107 13h1M137 13h1M146 13h1M21 14h1M70 14h1M100 14h1M109 14h1M139 14h1M148 14h1M32 15h1M62 15h1M101 15h1M111 15h1M140 15h1M150 15h1M34 16h1M63 16h1M73 16h1M102 16h1M141 16h1M152 16h1M24 17h1M75 17h1M103 17h1M114 17h1M142 17h1M153 17h1M25 18h1M37 18h1M76 18h1M143 18h1M155 18h1M26 19h1M65 19h1M78 19h1M117 19h1M144 19h1M156 19h1M1 20h1M27 20h1M40 20h1M66 20h1M119 20h1M145 20h1M158 20h1M3 21h1M28 21h1M42 21h1M107 21h1M121 21h1M146 21h1M160 21h1M30 22h1M45 22h1M69 22h1M84 22h1M108 22h1M123 22h1M8 23h1M71 23h1M87 23h1M110 23h1M126 23h1M149 23h1M11 24h1M50 24h1M73 24h1M112 24h1M129 24h1M151 24h1M35 25h1M53 25h1M92 25h1M114 25h1M153 25h1M37 26h1M55 26h1M76 26h1M94 26h1M133 26h1M17 27h1M56 27h1M117 27h1M156 27h1M18 28h1M40 28h1M57 28h1M79 28h1M136 28h1M2 29h1M19 29h1M58 29h1M120 29h1M159 29h1M4 30h1M43 30h1M98 30h1M137 30h1M6 31h1M20 31h1M45 31h1M59 31h1M84 31h1M138 31h1M8 32h1M60 32h1M99 32h1M126 32h1M138 32h1M11 33h1M21 33h1M50 33h1M60 33h1M129 33h1M139 33h1M14 34h2M21 34h2M54 34h1M61 34h1M93 34h1M100 34h1M132 34h1M139 34h2M17 35h2M22 35h2M57 35h2M62 35h2M96 35h2M101 35h2M135 35h2M140 35h2M20 36h1M25 36h2M59 36h2M64 36h2M98 36h2M104 36h1M137 36h2M143 36h2M21 37h1M29 37h1M60 37h1M68 37h1M99 37h1M107 37h1M138 37h2M146 37h2M21 38h1M61 38h1M71 38h1M100 38h1M110 38h1M139 38h1M149 38h1M22 39h1M34 39h1M61 39h1M73 39h1M152 39h1M36 40h1M75 40h1M101 40h1M140 40h1M154 40h1M23 41h1M38 41h1M62 41h1M77 41h1M116 41h1M0 42h1M63 42h1M102 42h1M118 42h1M157 42h1M2 43h1M41 43h1M103 43h1M142 43h1M159 43h1M43 44h1M65 44h1M82 44h1M104 44h1M27 45h1M45 45h1M84 45h1M106 45h1M123 45h1M145 45h1M8 46h1M29 46h1M47 46h1M86 46h1M108 46h1M147 46h1M10 47h1M32 47h1M49 47h1M71 47h1M88 47h1M110 47h1M12 48h1M34 48h1M51 48h1M113 48h1M130 48h1M152 48h1M37 49h1M53 49h1M76 49h1M92 49h1M115 49h1M131 49h1M15 50h1M39 50h1M54 50h1M78 50h1M93 50h1M117 50h1M1 51h1M16 51h1M55 51h1M80 51h1M94 51h1M119 51h1M158 51h1M3 52h1M42 52h1M56 52h1M95 52h1M160 52h1M17 53h1M44 53h1M83 53h1M96 53h1M135 53h1M18 54h1M57 54h1M85 54h1M96 54h1M124 54h1M8 55h1M58 55h1M87 55h1M97 55h1M126 55h1M136 55h1M11 56h1M19 56h1M50 56h1M58 56h1M89 56h1M98 56h1M128 56h1M137 56h1M13 57h1M20 57h1M52 57h2M59 57h2M92 57h1M99 57h1M131 57h1M138 57h1M15 58h2M22 58h1M55 58h1M61 58h2M94 58h1M101 58h1M133 58h1M140 58h1M17 59h1M25 59h2M56 59h1M65 59h1M95 59h2M104 59h1M135 59h1M143 59h1M18 60h1M29 60h1M57 60h1M68 60h1M97 60h1M107 60h1M136 60h1M147 60h1M19 61h1M32 61h1M58 61h1M71 61h1M97 61h1M150 61h1M59 62h1M74 62h1M98 62h1M113 62h1M137 62h1M20 63h1M76 63h1M115 63h1M138 63h1M21 64h1M60 64h1M117 64h1M156 64h1M22 65h1M61 65h1M79 65h1M118 65h1M2 66h1M23 66h1M41 66h1M62 66h1M80 66h1M159 66h1M3 67h1M42 67h1M103 67h1M121 67h1M142 67h1M160 67h1M4 68h1M26 68h1M83 68h1M105 68h1M122 68h1M144 68h1M29 69h1M45 69h1M68 69h1M84 69h1M107 69h1M123 69h1M7 70h1M32 70h1M46 70h1M71 70h1M110 70h1M125 70h1M149 70h1M9 71h1M35 71h1M48 71h1M74 71h1M87 71h1M113 71h1M126 71h1M10 72h1M38 72h1M77 72h1M89 72h1M116 72h1M128 72h1M155 72h1M12 73h1M40 73h1M51 73h1M79 73h1M90 73h1M118 73h1M2 74h1M13 74h1M81 74h1M92 74h1M120 74h1M131 74h1M159 74h1M43 75h1M54 75h1M82 75h1M93 75h1M121 75h1M132 75h1M5 76h1M44 76h1M55 76h1M83 76h1M94 76h1M6 77h1M17 77h1M45 77h1M56 77h1M95 77h1M124 77h1M7 78h1M18 78h1M57 78h1M125 78h1M136 78h1M48 79h1M59 79h1M87 79h1M98 79h1M126 79h1M137 79h1M10 80h1M21 80h1M49 80h1M88 80h1M100 80h1M128 80h1M139 80h1M51 81h1M63 81h1M90 81h1M102 81h1M129 81h1M141 81h1M13 82h1M52 82h1M66 82h1M92 82h1M105 82h1M131 82h1M144 82h1M15 83h1M30 83h1M54 83h1M69 83h1M93 83h1M108 83h1M132 83h1M147 83h1M16 84h1M55 84h1M72 84h1M111 84h1M134 84h1M150 84h1M35 85h1M74 85h1M96 85h1M135 85h1M58 86h1M76 86h1M97 86h1M115 86h1M20 87h1M38 87h1M59 87h1M77 87h1M21 88h1M39 88h1M78 88h1M139 88h1M40 89h1M62 89h1M79 89h1M101 89h1M1 90h1M80 90h1M103 90h1M119 90h1M142 90h1M158 90h1M2 91h1M41 91h1M66 91h1M105 91h1M120 91h1M144 91h1M159 91h1M3 92h1M29 92h1M42 92h1M81 92h1M108 92h1M120 92h1M147 92h1M160 92h1M3 93h1M32 93h1M43 93h1M72 93h1M82 93h1M111 93h1M121 93h1M150 93h1M160 93h1M4 94h2M36 94h1M44 94h1M75 94h1M83 94h1M114 94h2M122 94h1M154 94h1M0 95h1M6 95h1M39 95h1M45 95h2M78 95h1M85 95h1M117 95h2M124 95h1M156 95h2M1 96h1M9 96h1M40 96h2M48 96h1M80 96h1M87 96h1M119 96h1M126 96h2M158 96h1M2 97h1M11 97h1M81 97h1M90 97h1M120 97h1M129 97h1M159 97h1M3 98h1M42 98h1M53 98h1M92 98h1M121 98h1M131 98h1M160 98h1M43 99h1M82 99h1M94 99h1M121 99h1M133 99h1M4 100h1M17 100h1M122 100h1M135 100h1M5 101h1M19 101h1M44 101h1M58 101h1M97 101h1M45 102h1M84 102h1M99 102h1M138 102h1M7 103h1M22 103h1M46 103h1M85 103h1M101 103h1M140 103h1M8 104h1M47 104h1M103 104h1M126 104h1M142 104h1M10 105h1M27 105h1M49 105h1M66 105h1M88 105h1M105 105h1M12 106h1M29 106h1M51 106h1M69 106h1M108 106h1M130 106h1M147 106h1M14 107h1M32 107h1M71 107h1M93 107h1M110 107h1M132 107h1M16 108h1M34 108h1M73 108h1M95 108h1M112 108h1M134 108h1M18 109h1M35 109h1M114 109h1M136 109h1M153 109h1M20 110h1M36 110h1M59 110h1M115 110h1M154 110h1M37 111h1M61 111h1M100 111h1M139 111h1M155 111h1M23 112h1M38 112h1M77 112h1M116 112h1M141 112h1M25 113h1M38 113h1M64 113h1M117 113h1M143 113h1M156 113h1M27 114h1M39 114h1M78 114h1M117 114h1M145 114h1M0 115h1M30 115h1M39 115h1M69 115h1M108 115h1M118 115h1M147 115h1M157 115h1M0 116h2M32 116h2M40 116h1M72 116h1M79 116h1M111 116h1M118 116h1M150 116h1M157 116h2"/>
<path stroke="#ffc100" d="M7 0h1M36 0h1M46 0h1M75 0h1M85 0h1M115 0h1M124 0h1M154 0h1M10 1h1M37 1h1M49 1h1M89 1h1M116 1h1M128 1h1M155 1h1M13 2h1M38 2h1M52 2h1M77 2h1M131 2h1M156 2h1M39 3h1M78 3h1M94 3h1M133 3h1M17 4h1M40 4h1M79 4h1M118 4h1M135 4h1M41 5h1M58 5h1M80 5h1M97 5h1M119 5h1M20 6h1M42 6h1M59 6h1M81 6h1M98 6h1M4 7h1M21 7h1M60 7h1M99 7h1M122 7h1M6 8h1M45 8h1M61 8h1M100 8h1M8 9h1M62 9h1M87 9h1M101 9h1M126 9h1M140 9h1M11 10h1M23 10h1M50 10h1M90 10h1M102 10h1M129 10h1M141 10h1M15 11h1M24 11h1M54 11h1M64 11h1M93 11h1M103 11h1M132 11h1M142 11h1M18 12h1M25 12h2M57 12h2M65 12h1M96 12h2M104 12h1M136 12h1M143 12h2M21 13h1M27 13h2M60 13h1M66 13h2M99 13h1M106 13h1M138 13h2M145 13h1M22 14h1M29 14h2M61 14h2M69 14h1M101 14h1M108 14h1M140 14h1M147 14h1M23 15h1M31 15h1M63 15h1M71 15h1M102 15h1M110 15h1M141 15h1M149 15h1M24 16h1M33 16h1M103 16h1M112 16h1M142 16h1M151 16h1M25 17h1M35 17h1M64 17h1M74 17h1M113 17h1M143 17h1M26 18h1M36 18h1M65 18h1M104 18h1M115 18h1M154 18h1M27 19h1M38 19h1M66 19h1M77 19h1M105 19h1M116 19h1M0 20h1M28 20h1M67 20h1M79 20h1M106 20h1M118 20h1M157 20h1M2 21h1M29 21h1M68 21h1M81 21h1M120 21h1M147 21h1M159 21h1M5 22h1M31 22h1M44 22h1M70 22h1M83 22h1M109 22h1M122 22h1M148 22h1M32 23h1M47 23h1M72 23h1M86 23h1M111 23h1M125 23h1M150 23h1M10 24h1M34 24h1M89 24h1M113 24h1M128 24h1M152 24h1M13 25h1M36 25h1M52 25h1M75 25h1M131 25h1M154 25h1M15 26h1M54 26h1M77 26h1M116 26h1M155 26h1M0 27h1M39 27h1M78 27h1M95 27h1M134 27h1M157 27h1M1 28h1M96 28h1M119 28h1M135 28h1M158 28h1M18 29h1M42 29h1M81 29h1M97 29h1M136 29h1M19 30h1M58 30h1M83 30h1M122 30h1M46 31h1M85 31h1M98 31h1M124 31h1M137 31h1M9 32h1M20 32h1M48 32h1M59 32h1M87 32h1M98 32h1M127 32h1M12 33h1M20 33h1M51 33h1M59 33h1M90 33h2M98 33h2M130 33h1M138 33h1M16 34h5M55 34h6M94 34h6M133 34h6M19 35h3M59 35h3M98 35h3M137 35h3M21 36h4M61 36h3M100 36h4M139 36h4M22 37h2M27 37h2M61 37h2M66 37h2M100 37h2M105 37h2M140 37h1M145 37h1M22 38h1M31 38h1M62 38h1M70 38h1M101 38h1M109 38h1M140 38h1M148 38h1M33 39h1M62 39h1M101 39h1M112 39h1M140 39h1M151 39h1M23 40h1M62 40h1M114 40h1M141 40h1M153 40h1M37 41h1M63 41h1M102 41h1M141 41h1M155 41h1M24 42h1M39 42h1M78 42h1M142 42h1M1 43h1M25 43h1M64 43h1M80 43h1M119 43h1M143 43h1M158 43h1M3 44h1M26 44h1M42 44h1M105 44h1M121 44h1M144 44h1M160 44h1M5 45h1M28 45h1M44 45h1M67 45h1M83 45h1M7 46h1M30 46h1M46 46h1M69 46h1M125 46h1M148 46h1M9 47h1M48 47h1M72 47h1M111 47h1M127 47h1M150 47h1M11 48h1M35 48h1M50 48h1M74 48h1M90 48h1M129 48h1M153 48h1M13 49h1M52 49h1M91 49h1M116 49h1M155 49h1M0 50h1M14 50h1M118 50h1M132 50h1M157 50h1M2 51h1M15 51h1M41 51h1M133 51h1M159 51h1M16 52h1M43 52h1M55 52h1M82 52h1M121 52h1M134 52h1M5 53h1M56 53h1M84 53h1M95 53h1M123 53h1M134 53h1M7 54h1M17 54h1M46 54h1M56 54h1M125 54h1M135 54h1M9 55h1M18 55h1M48 55h1M57 55h1M88 55h1M96 55h1M127 55h1M135 55h1M12 56h1M18 56h1M51 56h1M57 56h1M90 56h1M96 56h2M129 56h2M136 56h1M14 57h6M54 57h5M93 57h6M132 57h6M17 58h5M56 58h5M95 58h6M134 58h6M18 59h2M23 59h2M57 59h2M63 59h2M97 59h2M102 59h2M136 59h2M141 59h2M19 60h1M28 60h1M58 60h1M67 60h1M98 60h1M106 60h1M137 60h1M146 60h1M31 61h1M59 61h1M98 61h1M110 61h1M137 61h1M149 61h1M20 62h1M34 62h1M73 62h1M138 62h1M152 62h1M21 63h1M36 63h1M60 63h1M99 63h1M154 63h1M38 64h1M77 64h1M100 64h1M116 64h1M139 64h1M0 65h1M39 65h1M101 65h1M140 65h1M157 65h1M1 66h1M102 66h1M119 66h1M141 66h1M158 66h1M25 67h1M64 67h1M81 67h1M120 67h1M27 68h1M43 68h1M66 68h1M82 68h1M121 68h1M5 69h1M44 69h1M69 69h1M83 69h1M108 69h1M147 69h1M6 70h1M45 70h1M72 70h1M85 70h1M111 70h1M124 70h1M150 70h1M8 71h1M36 71h1M47 71h1M75 71h1M86 71h1M114 71h1M125 71h1M153 71h1M9 72h1M49 72h1M78 72h1M88 72h1M117 72h1M127 72h1M156 72h1M1 73h1M11 73h1M41 73h1M50 73h1M80 73h1M89 73h1M119 73h1M129 73h1M158 73h1M3 74h1M12 74h1M42 74h1M52 74h1M91 74h1M121 74h1M130 74h1M160 74h1M4 75h1M14 75h1M53 75h1M83 75h1M92 75h1M122 75h1M15 76h1M45 76h1M54 76h1M84 76h1M93 76h1M123 76h1M133 76h1M7 77h1M16 77h1M46 77h1M55 77h1M85 77h1M134 77h1M8 78h1M17 78h1M47 78h1M86 78h1M96 78h1M126 78h1M135 78h1M9 79h1M19 79h1M58 79h1M88 79h1M97 79h1M127 79h1M136 79h1M11 80h1M20 80h1M50 80h1M60 80h1M89 80h1M99 80h1M138 80h1M12 81h1M23 81h1M52 81h1M62 81h1M91 81h1M101 81h1M130 81h1M140 81h1M14 82h1M26 82h1M53 82h1M65 82h1M104 82h1M132 82h1M143 82h1M29 83h1M55 83h1M68 83h1M94 83h1M107 83h1M133 83h1M17 84h1M32 84h1M56 84h1M71 84h1M95 84h1M110 84h1M18 85h1M34 85h1M57 85h1M113 85h1M136 85h1M152 85h1M19 86h1M36 86h1M75 86h1M137 86h1M154 86h1M99 87h1M116 87h1M138 87h1M155 87h1M61 88h1M100 88h1M117 88h1M156 88h1M0 89h1M23 89h1M39 89h1M118 89h1M141 89h1M157 89h1M25 90h1M40 90h1M64 90h1M79 90h1M1 91h1M27 91h1M80 91h1M119 91h1M145 91h1M158 91h1M2 92h1M30 92h1M41 92h1M69 92h1M80 92h1M148 92h1M159 92h1M2 93h1M33 93h2M41 93h2M73 93h1M81 93h1M112 93h1M120 93h1M151 93h1M159 93h1M2 94h2M37 94h2M41 94h3M76 94h3M81 94h2M116 94h2M120 94h2M155 94h2M159 94h2M1 95h5M40 95h5M79 95h6M119 95h5M158 95h3M2 96h2M7 96h2M42 96h2M46 96h2M81 96h2M85 96h2M120 96h2M124 96h2M159 96h2M3 97h1M10 97h1M42 97h2M49 97h2M82 97h1M89 97h1M121 97h1M128 97h1M160 97h1M4 98h1M13 98h1M43 98h1M52 98h1M82 98h1M91 98h1M130 98h1M4 99h1M15 99h1M54 99h1M83 99h1M93 99h1M122 99h1M5 100h1M44 100h1M56 100h1M83 100h1M95 100h1M134 100h1M18 101h1M45 101h1M84 101h1M123 101h1M136 101h1M6 102h1M20 102h1M59 102h1M85 102h1M98 102h1M124 102h1M61 103h1M86 103h1M100 103h1M125 103h1M9 104h1M24 104h1M48 104h1M63 104h1M87 104h1M102 104h1M26 105h1M50 105h1M65 105h1M89 105h1M128 105h1M144 105h1M13 106h1M52 106h1M68 106h1M91 106h1M107 106h1M146 106h1M15 107h1M31 107h1M54 107h1M70 107h1M133 107h1M149 107h1M17 108h1M33 108h1M56 108h1M72 108h1M135 108h1M151 108h1M19 109h1M58 109h1M74 109h1M97 109h1M113 109h1M75 110h1M99 110h1M114 110h1M138 110h1M22 111h1M76 111h1M115 111h1M140 111h1M154 111h1M24 112h1M37 112h1M63 112h1M102 112h1M155 112h1M65 113h1M77 113h1M104 113h1M116 113h1M28 114h1M38 114h1M67 114h1M77 114h1M106 114h1M146 114h1M156 114h1M31 115h1M38 115h1M70 115h1M77 115h2M109 115h1M117 115h1M148 115h1M156 115h1M34 116h2M37 116h3M73 116h2M76 116h3M112 116h3M116 116h2M151 116h3M155 116h2"/>
<path stroke="#ffac00" d="M5 0h2M37 0h2M44 0h2M76 0h2M84 0h1M116 0h1M123 0h1M155 0h1M9 1h1M38 1h1M48 1h1M77 1h1M88 1h1M117 1h1M127 1h1M156 1h1M12 2h1M39 2h1M78 2h1M91 2h1M117 2h1M130 2h1M0 3h1M15 3h1M54 3h1M79 3h1M93 3h1M118 3h1M157 3h1M1 4h1M56 4h1M95 4h1M119 4h1M158 4h1M2 5h1M18 5h1M120 5h1M136 5h1M159 5h1M3 6h1M19 6h1M121 6h1M137 6h1M160 6h1M20 7h1M44 7h1M83 7h1M138 7h1M21 8h1M46 8h1M60 8h1M85 8h1M124 8h1M139 8h1M9 9h1M22 9h1M48 9h1M61 9h1M100 9h1M127 9h1M12 10h1M22 10h1M51 10h1M62 10h1M91 10h1M101 10h1M130 10h1M140 10h1M16 11h1M23 11h1M55 11h1M62 11h2M94 11h2M101 11h2M133 11h2M141 11h1M19 12h6M59 12h6M98 12h6M137 12h6M22 13h5M61 13h5M100 13h6M140 13h5M23 14h2M27 14h2M63 14h2M67 14h2M102 14h2M106 14h2M141 14h2M145 14h2M24 15h2M30 15h1M64 15h1M69 15h2M103 15h1M109 15h1M142 15h1M148 15h1M25 16h1M32 16h1M64 16h1M72 16h1M104 16h1M111 16h1M143 16h1M150 16h1M26 17h1M34 17h1M65 17h1M73 17h1M104 17h1M152 17h1M66 18h1M75 18h1M105 18h1M114 18h1M144 18h1M153 18h1M37 19h1M67 19h1M76 19h1M106 19h1M145 19h1M155 19h1M39 20h1M68 20h1M78 20h1M107 20h1M117 20h1M146 20h1M1 21h1M30 21h1M41 21h1M69 21h1M80 21h1M108 21h1M119 21h1M148 21h1M158 21h1M4 22h1M43 22h1M71 22h1M82 22h1M110 22h1M149 22h1M7 23h1M33 23h1M46 23h1M85 23h1M112 23h1M124 23h1M151 23h1M35 24h1M49 24h1M74 24h1M88 24h1M127 24h1M153 24h1M12 25h1M37 25h1M76 25h1M91 25h1M115 25h1M130 25h1M14 26h1M38 26h1M93 26h1M132 26h1M156 26h1M16 27h1M55 27h1M79 27h1M94 27h1M118 27h1M2 28h1M17 28h1M41 28h1M56 28h1M80 28h1M159 28h1M3 29h1M57 29h1M82 29h1M96 29h1M121 29h1M160 29h1M5 30h1M18 30h1M44 30h1M97 30h1M123 30h1M136 30h1M7 31h1M19 31h1M58 31h1M97 31h1M125 31h1M10 32h1M19 32h1M49 32h1M58 32h1M88 32h1M97 32h1M137 32h1M13 33h2M18 33h2M52 33h2M57 33h2M92 33h1M97 33h1M131 33h2M136 33h2M24 37h3M63 37h3M102 37h3M141 37h4M23 38h2M29 38h2M63 38h1M69 38h1M102 38h1M108 38h1M141 38h1M147 38h1M23 39h1M63 39h1M72 39h1M102 39h1M111 39h1M141 39h1M150 39h1M35 40h1M63 40h1M74 40h1M102 40h1M113 40h1M24 41h1M76 41h1M115 41h1M142 41h1M154 41h1M25 42h1M38 42h1M64 42h1M103 42h1M117 42h1M156 42h1M40 43h1M65 43h1M79 43h1M104 43h1M2 44h1M27 44h1M66 44h1M81 44h1M120 44h1M159 44h1M4 45h1M43 45h1M68 45h1M107 45h1M122 45h1M146 45h1M6 46h1M31 46h1M45 46h1M70 46h1M85 46h1M109 46h1M124 46h1M8 47h1M33 47h1M73 47h1M87 47h1M112 47h1M126 47h1M151 47h1M10 48h1M36 48h1M75 48h1M89 48h1M114 48h1M128 48h1M154 48h1M12 49h1M38 49h1M51 49h1M77 49h1M130 49h1M156 49h1M1 50h1M40 50h1M53 50h1M79 50h1M92 50h1M131 50h1M158 50h1M42 51h1M54 51h1M81 51h1M93 51h1M120 51h1M132 51h1M4 52h1M15 52h1M83 52h1M94 52h1M122 52h1M133 52h1M6 53h1M16 53h1M45 53h1M55 53h1M124 53h1M8 54h1M16 54h1M47 54h1M86 54h1M95 54h1M126 54h1M134 54h1M10 55h1M16 55h2M49 55h2M56 55h1M89 55h1M95 55h1M128 55h1M134 55h1M13 56h5M52 56h5M91 56h5M131 56h5M20 59h3M59 59h4M99 59h3M138 59h3M20 60h2M26 60h2M59 60h2M66 60h1M99 60h1M105 60h1M138 60h1M144 60h2M20 61h1M30 61h1M60 61h1M70 61h1M99 61h1M109 61h1M138 61h1M148 61h1M21 62h1M33 62h1M60 62h1M99 62h1M112 62h1M151 62h1M75 63h1M100 63h1M114 63h1M139 63h1M153 63h1M22 64h1M37 64h1M61 64h1M140 64h1M155 64h1M23 65h1M62 65h1M78 65h1M117 65h1M24 66h1M40 66h1M63 66h1M79 66h1M142 66h1M2 67h1M41 67h1M65 67h1M80 67h1M104 67h1M143 67h1M159 67h1M3 68h1M42 68h1M67 68h1M106 68h1M145 68h1M160 68h1M4 69h1M30 69h1M43 69h1M109 69h1M122 69h1M148 69h1M5 70h1M33 70h1M44 70h1M73 70h1M84 70h1M112 70h1M123 70h1M151 70h1M7 71h1M37 71h1M46 71h1M76 71h1M85 71h1M115 71h1M124 71h1M154 71h2M0 72h1M8 72h1M39 72h2M47 72h2M79 72h1M87 72h1M118 72h1M126 72h1M157 72h1M2 73h1M10 73h1M42 73h1M49 73h1M81 73h1M88 73h1M120 73h1M128 73h1M159 73h1M4 74h1M11 74h1M43 74h1M51 74h1M82 74h1M90 74h1M122 74h1M129 74h1M5 75h1M13 75h1M44 75h1M52 75h1M84 75h1M91 75h1M123 75h1M131 75h1M6 76h1M14 76h1M46 76h1M53 76h1M85 76h1M124 76h1M132 76h1M15 77h1M47 77h1M54 77h1M86 77h1M94 77h1M125 77h1M133 77h1M9 78h1M16 78h1M48 78h1M56 78h1M87 78h1M95 78h1M127 78h1M134 78h1M10 79h1M18 79h1M49 79h1M57 79h1M89 79h1M96 79h1M128 79h1M135 79h1M12 80h1M19 80h1M51 80h1M58 80h2M90 80h1M98 80h1M129 80h2M137 80h1M13 81h2M21 81h2M53 81h1M61 81h1M92 81h1M100 81h1M131 81h1M139 81h1M15 82h1M24 82h2M54 82h1M64 82h1M93 82h2M103 82h1M133 82h1M142 82h1M16 83h1M28 83h1M56 83h1M67 83h1M95 83h1M106 83h1M134 83h1M146 83h1M31 84h1M57 84h1M70 84h1M96 84h1M135 84h1M149 84h1M58 85h1M73 85h1M97 85h1M112 85h1M151 85h1M20 86h1M59 86h1M98 86h1M114 86h1M153 86h1M21 87h1M37 87h1M60 87h1M76 87h1M22 88h1M38 88h1M77 88h1M140 88h1M63 89h1M78 89h1M102 89h1M117 89h1M0 90h1M65 90h1M104 90h1M118 90h1M143 90h1M157 90h1M28 91h1M40 91h1M67 91h1M79 91h1M106 91h1M118 91h1M1 92h1M31 92h1M40 92h1M70 92h1M79 92h1M109 92h1M119 92h1M149 92h1M158 92h1M0 93h2M35 93h2M40 93h1M74 93h2M79 93h2M113 93h2M118 93h2M152 93h2M157 93h2M0 94h2M39 94h2M79 94h2M118 94h2M157 94h2M4 96h3M44 96h2M83 96h2M122 96h2M4 97h3M8 97h2M44 97h2M47 97h2M83 97h2M86 97h3M122 97h2M126 97h2M5 98h1M12 98h1M44 98h1M51 98h1M83 98h1M90 98h1M122 98h2M129 98h1M5 99h1M14 99h1M44 99h1M53 99h1M92 99h1M123 99h1M132 99h1M16 100h1M45 100h1M55 100h1M84 100h1M94 100h1M123 100h1M6 101h1M57 101h1M96 101h1M124 101h1M135 101h1M7 102h1M19 102h1M46 102h1M125 102h1M137 102h1M8 103h1M21 103h1M47 103h1M60 103h1M126 103h1M139 103h1M23 104h1M49 104h1M62 104h1M88 104h1M127 104h1M141 104h1M11 105h1M25 105h1M51 105h1M90 105h1M104 105h1M129 105h1M143 105h1M28 106h1M53 106h1M67 106h1M92 106h1M106 106h1M131 106h1M16 107h1M30 107h1M55 107h1M94 107h1M109 107h1M148 107h1M32 108h1M57 108h1M96 108h1M111 108h1M150 108h1M34 109h1M73 109h1M98 109h1M137 109h1M152 109h1M21 110h1M35 110h1M60 110h1M139 110h1M153 110h1M36 111h1M62 111h1M75 111h1M101 111h1M76 112h1M103 112h1M115 112h1M142 112h1M154 112h1M26 113h1M37 113h1M76 113h1M105 113h1M144 113h1M155 113h1M29 114h1M37 114h1M68 114h1M76 114h1M107 114h1M116 114h1M155 114h1M32 115h1M37 115h1M71 115h2M76 115h1M110 115h2M115 115h2M149 115h2M154 115h2M36 116h1M75 116h1M115 116h1M154 116h1"/>
<path stroke="#ff9700" d="M0 0h5M39 0h5M78 0h6M117 0h6M156 0h5M0 1h1M8 1h1M39 1h1M47 1h1M78 1h1M87 1h1M118 1h1M126 1h1M157 1h1M0 2h1M51 2h1M79 2h1M90 2h1M118 2h1M129 2h1M157 2h1M1 3h1M14 3h1M40 3h1M53 3h1M119 3h1M132 3h1M158 3h1M16 4h1M41 4h1M55 4h1M80 4h1M134 4h1M42 5h1M57 5h1M81 5h1M96 5h1M135 5h1M4 6h1M43 6h1M58 6h1M82 6h1M97 6h1M5 7h1M59 7h1M84 7h1M98 7h1M123 7h1M7 8h1M20 8h1M86 8h1M99 8h1M125 8h1M138 8h1M10 9h1M21 9h1M49 9h1M60 9h1M88 9h1M139 9h1M13 10h1M21 10h1M52 10h1M61 10h1M92 10h1M100 10h1M131 10h1M139 10h1M17 11h6M56 11h6M96 11h5M135 11h6M25 14h2M65 14h2M104 14h2M143 14h2M26 15h4M65 15h4M104 15h5M143 15h5M26 16h2M31 16h1M65 16h2M70 16h2M105 16h1M109 16h2M144 16h1M149 16h1M27 17h1M33 17h1M66 17h1M72 17h1M105 17h1M111 17h2M144 17h2M151 17h1M27 18h1M35 18h1M67 18h1M74 18h1M106 18h1M113 18h1M145 18h1M152 18h1M28 19h1M36 19h1M68 19h1M75 19h1M107 19h1M115 19h1M146 19h1M154 19h1M29 20h1M38 20h1M69 20h1M77 20h1M108 20h1M116 20h1M147 20h1M156 20h1M0 21h1M31 21h1M40 21h1M70 21h1M79 21h1M109 21h1M118 21h1M149 21h1M157 21h1M3 22h1M32 22h2M42 22h1M72 22h1M81 22h1M111 22h1M121 22h1M150 22h1M160 22h1M6 23h1M34 23h1M45 23h1M73 23h1M84 23h1M113 23h1M123 23h1M152 23h1M9 24h1M36 24h1M48 24h1M75 24h1M87 24h1M114 24h1M126 24h1M154 24h1M51 25h1M77 25h1M90 25h1M116 25h1M129 25h1M155 25h1M39 26h1M53 26h1M78 26h1M92 26h1M117 26h1M131 26h1M1 27h1M15 27h1M40 27h1M133 27h1M158 27h1M16 28h1M81 28h1M95 28h1M120 28h1M134 28h1M4 29h1M17 29h1M43 29h1M135 29h1M45 30h1M57 30h1M84 30h1M96 30h1M8 31h1M18 31h1M47 31h1M57 31h1M86 31h1M136 31h1M11 32h1M18 32h1M50 32h1M57 32h1M89 32h1M96 32h1M128 32h2M136 32h1M15 33h3M54 33h3M93 33h4M133 33h3M25 38h4M64 38h5M103 38h5M142 38h5M24 39h1M31 39h2M64 39h1M71 39h1M103 39h1M110 39h1M142 39h1M149 39h1M24 40h1M34 40h1M64 40h1M73 40h1M103 40h1M142 40h1M152 40h1M25 41h1M36 41h1M64 41h1M75 41h1M103 41h1M77 42h1M104 42h1M116 42h1M143 42h1M0 43h1M26 43h1M39 43h1M105 43h1M118 43h1M144 43h1M157 43h1M41 44h1M67 44h1M80 44h1M106 44h1M119 44h1M145 44h1M3 45h1M29 45h1M69 45h1M82 45h1M108 45h1M121 45h1M147 45h1M160 45h1M5 46h1M32 46h1M71 46h1M84 46h1M110 46h1M123 46h1M149 46h1M7 47h1M34 47h1M47 47h1M86 47h1M113 47h1M125 47h1M152 47h1M37 48h1M49 48h1M76 48h1M88 48h1M115 48h1M127 48h1M0 49h1M11 49h1M39 49h1M78 49h1M90 49h1M117 49h1M129 49h1M157 49h1M13 50h1M41 50h1M52 50h1M80 50h1M91 50h1M119 50h1M3 51h1M14 51h1M53 51h1M82 51h1M92 51h1M121 51h1M160 51h1M5 52h1M44 52h1M54 52h1M93 52h1M123 52h1M132 52h1M7 53h1M15 53h1M46 53h1M54 53h1M85 53h1M94 53h1M133 53h1M9 54h1M15 54h1M48 54h1M55 54h1M87 54h1M94 54h1M127 54h1M133 54h1M11 55h5M51 55h5M90 55h5M129 55h5M22 60h4M61 60h5M100 60h5M139 60h5M21 61h1M29 61h1M61 61h1M69 61h1M100 61h1M108 61h1M139 61h1M147 61h1M61 62h1M72 62h1M100 62h1M111 62h1M139 62h1M150 62h1M22 63h1M35 63h1M61 63h1M74 63h1M140 63h1M62 64h1M76 64h1M101 64h1M115 64h1M38 65h1M102 65h1M141 65h1M156 65h1M0 66h1M64 66h1M103 66h1M118 66h1M157 66h1M1 67h1M26 67h1M119 67h1M144 67h1M158 67h1M2 68h1M28 68h1M81 68h1M107 68h1M120 68h1M146 68h1M159 68h1M3 69h1M31 69h1M42 69h1M70 69h1M82 69h1M121 69h1M149 69h1M160 69h1M4 70h1M34 70h2M43 70h1M74 70h1M83 70h1M113 70h1M122 70h1M152 70h1M5 71h2M38 71h1M44 71h2M77 71h2M84 71h1M116 71h2M123 71h1M156 71h1M1 72h2M6 72h2M41 72h2M45 72h2M80 72h2M85 72h2M119 72h2M124 72h2M158 72h2M3 73h2M8 73h2M43 73h2M47 73h2M82 73h2M87 73h1M121 73h2M126 73h2M160 73h1M5 74h1M10 74h1M44 74h2M49 74h2M83 74h2M88 74h2M123 74h1M128 74h1M6 75h1M12 75h1M45 75h2M51 75h1M85 75h1M90 75h1M124 75h1M129 75h2M7 76h2M13 76h1M47 76h1M52 76h1M86 76h1M91 76h2M125 76h1M131 76h1M8 77h2M14 77h1M48 77h1M53 77h1M87 77h1M92 77h2M126 77h1M132 77h1M10 78h1M15 78h1M49 78h1M54 78h2M88 78h2M94 78h1M128 78h1M133 78h1M11 79h2M16 79h2M50 79h2M55 79h2M90 79h1M95 79h1M129 79h2M134 79h1M13 80h2M17 80h2M52 80h2M57 80h1M91 80h2M96 80h2M131 80h1M135 80h2M15 81h1M20 81h1M54 81h2M59 81h2M93 81h2M98 81h2M132 81h2M137 81h2M16 82h1M23 82h1M55 82h2M62 82h2M95 82h1M102 82h1M134 82h1M141 82h1M17 83h1M27 83h1M57 83h1M66 83h1M96 83h1M105 83h1M135 83h1M145 83h1M18 84h1M30 84h1M58 84h1M97 84h1M109 84h1M136 84h1M148 84h1M19 85h1M33 85h1M72 85h1M98 85h1M111 85h1M137 85h1M35 86h1M74 86h1M99 86h1M113 86h1M138 86h1M36 87h1M61 87h1M100 87h1M115 87h1M139 87h1M154 87h1M23 88h1M62 88h1M101 88h1M116 88h1M155 88h1M24 89h1M38 89h1M103 89h1M142 89h1M156 89h1M26 90h1M39 90h1M78 90h1M105 90h1M117 90h1M144 90h1M0 91h1M29 91h1M39 91h1M68 91h1M78 91h1M107 91h1M146 91h1M157 91h1M0 92h1M32 92h1M39 92h1M71 92h1M78 92h1M110 92h2M117 92h2M150 92h1M157 92h1M37 93h3M76 93h3M115 93h3M154 93h3M7 97h1M46 97h1M85 97h1M124 97h2M6 98h2M10 98h2M45 98h2M49 98h2M84 98h2M88 98h2M124 98h1M128 98h1M6 99h1M13 99h1M45 99h1M52 99h1M84 99h1M91 99h1M124 99h1M131 99h1M6 100h1M15 100h1M54 100h1M85 100h1M124 100h1M133 100h1M7 101h1M17 101h1M46 101h1M56 101h1M85 101h1M95 101h1M8 102h1M47 102h1M58 102h1M86 102h1M97 102h1M136 102h1M9 103h1M20 103h1M48 103h1M87 103h1M99 103h1M138 103h1M10 104h1M22 104h1M50 104h1M61 104h1M89 104h1M101 104h1M128 104h1M140 104h1M12 105h1M24 105h1M64 105h1M91 105h1M103 105h1M130 105h1M142 105h1M14 106h1M27 106h1M54 106h1M66 106h1M93 106h1M105 106h1M132 106h1M145 106h1M56 107h1M69 107h1M95 107h1M108 107h1M134 107h1M147 107h1M18 108h1M58 108h1M71 108h1M97 108h1M110 108h1M136 108h1M149 108h1M20 109h1M33 109h1M59 109h1M112 109h1M138 109h1M151 109h1M22 110h1M61 110h1M74 110h1M100 110h1M113 110h1M152 110h1M23 111h1M35 111h1M102 111h1M114 111h1M141 111h1M153 111h1M25 112h1M36 112h1M64 112h1M75 112h1M143 112h1M27 113h1M36 113h1M66 113h1M106 113h1M115 113h1M145 113h1M154 113h1M30 114h1M36 114h1M69 114h1M75 114h1M108 114h1M115 114h1M147 114h2M154 114h1M33 115h4M73 115h3M112 115h3M151 115h3"/>
<path stroke="#ff8200" d="M1 1h2M6 1h2M40 1h2M46 1h1M79 1h2M85 1h2M119 1h1M124 1h2M158 1h2M1 2h1M11 2h1M40 2h1M50 2h1M80 2h1M89 2h1M119 2h1M128 2h1M158 2h1M41 3h1M80 3h1M92 3h1M131 3h1M2 4h1M81 4h1M94 4h1M120 4h1M133 4h1M159 4h1M3 5h1M17 5h1M56 5h1M121 5h1M160 5h1M18 6h1M83 6h1M122 6h1M136 6h1M6 7h1M19 7h1M45 7h1M58 7h1M137 7h1M8 8h1M47 8h1M59 8h1M98 8h1M11 9h1M20 9h1M50 9h1M59 9h1M89 9h1M99 9h1M128 9h1M138 9h1M14 10h2M20 10h1M53 10h2M59 10h2M93 10h1M98 10h2M132 10h2M137 10h2M28 16h3M67 16h3M106 16h3M145 16h4M28 17h5M67 17h5M106 17h5M146 17h5M28 18h2M33 18h2M68 18h1M72 18h2M107 18h1M112 18h1M146 18h2M151 18h1M29 19h2M35 19h1M69 19h1M74 19h1M108 19h1M113 19h2M147 19h1M153 19h1M30 20h2M37 20h1M70 20h1M76 20h1M109 20h1M115 20h1M148 20h1M154 20h2M32 21h1M38 21h2M71 21h1M78 21h1M110 21h2M117 21h1M150 21h1M156 21h1M1 22h2M34 22h1M41 22h1M73 22h1M80 22h1M112 22h1M119 22h2M151 22h2M158 22h2M4 23h2M35 23h1M44 23h1M74 23h2M83 23h1M114 23h1M122 23h1M153 23h1M8 24h1M37 24h1M47 24h1M76 24h1M86 24h1M115 24h1M125 24h1M155 24h1M11 25h1M38 25h1M50 25h1M89 25h1M117 25h1M128 25h1M156 25h1M0 26h1M13 26h1M52 26h1M79 26h1M91 26h1M118 26h1M157 26h1M41 27h1M54 27h1M80 27h1M93 27h1M119 27h1M132 27h1M3 28h1M42 28h1M55 28h1M94 28h1M121 28h1M160 28h1M44 29h1M56 29h1M83 29h1M95 29h1M122 29h1M134 29h1M6 30h1M17 30h1M56 30h1M85 30h1M124 30h1M135 30h1M9 31h1M17 31h1M48 31h1M56 31h1M87 31h1M96 31h1M126 31h1M135 31h1M12 32h2M16 32h2M51 32h2M55 32h2M90 32h2M94 32h2M130 32h1M134 32h2M25 39h2M30 39h1M65 39h1M69 39h2M104 39h1M108 39h2M143 39h2M148 39h1M25 40h1M33 40h1M72 40h1M104 40h1M112 40h1M143 40h1M151 40h1M35 41h1M65 41h1M104 41h1M114 41h1M143 41h1M153 41h1M26 42h1M37 42h1M65 42h1M76 42h1M144 42h1M155 42h1M27 43h1M66 43h1M78 43h1M117 43h1M145 43h1M156 43h1M1 44h1M28 44h1M40 44h1M79 44h1M107 44h1M146 44h1M158 44h1M30 45h1M42 45h1M81 45h1M109 45h1M120 45h1M148 45h1M4 46h1M33 46h1M44 46h1M72 46h1M83 46h1M111 46h1M122 46h1M150 46h1M6 47h1M35 47h1M46 47h1M74 47h1M85 47h1M114 47h1M124 47h1M153 47h1M9 48h1M38 48h1M48 48h1M77 48h1M87 48h1M116 48h1M126 48h1M155 48h1M10 49h1M40 49h1M50 49h1M79 49h1M89 49h1M118 49h1M128 49h1M2 50h1M12 50h1M42 50h1M51 50h1M81 50h1M90 50h1M120 50h1M130 50h1M159 50h1M4 51h1M13 51h1M43 51h1M52 51h1M122 51h1M131 51h1M6 52h1M14 52h1M45 52h1M53 52h1M84 52h1M92 52h1M8 53h1M14 53h1M47 53h1M53 53h1M86 53h1M93 53h1M125 53h2M132 53h1M10 54h2M13 54h2M49 54h2M52 54h3M88 54h3M92 54h2M128 54h2M131 54h2M22 61h2M28 61h1M62 61h1M67 61h2M101 61h2M106 61h2M140 61h2M146 61h1M22 62h1M32 62h1M62 62h1M71 62h1M101 62h1M110 62h1M140 62h1M34 63h1M62 63h1M101 63h1M113 63h1M152 63h1M23 64h1M36 64h1M75 64h1M141 64h1M154 64h1M24 65h1M63 65h1M77 65h1M116 65h1M142 65h1M155 65h1M25 66h1M39 66h1M78 66h1M104 66h1M117 66h1M143 66h1M27 67h1M40 67h1M66 67h1M79 67h1M105 67h1M118 67h1M29 68h1M41 68h1M68 68h1M80 68h1M119 68h1M147 68h1M2 69h1M32 69h1M41 69h1M71 69h1M81 69h1M110 69h2M120 69h1M150 69h1M159 69h1M3 70h1M36 70h1M42 70h1M75 70h1M81 70h2M114 70h2M120 70h2M153 70h2M160 70h1M0 71h5M39 71h5M79 71h5M118 71h5M157 71h4M3 72h3M43 72h2M82 72h3M121 72h3M160 72h1M5 73h3M45 73h2M84 73h3M123 73h3M6 74h4M46 74h3M85 74h3M124 74h4M7 75h5M47 75h4M86 75h4M125 75h4M9 76h4M48 76h4M87 76h4M126 76h5M10 77h4M49 77h4M88 77h4M127 77h5M11 78h4M50 78h4M90 78h4M129 78h4M13 79h3M52 79h3M91 79h4M131 79h3M15 80h2M54 80h3M93 80h3M132 80h3M16 81h4M56 81h3M95 81h3M134 81h3M17 82h6M57 82h5M96 82h6M135 82h6M18 83h2M26 83h1M58 83h1M65 83h1M97 83h1M104 83h1M136 83h2M143 83h2M19 84h1M29 84h1M69 84h1M98 84h1M108 84h1M137 84h1M147 84h1M20 85h1M32 85h1M59 85h1M71 85h1M138 85h1M150 85h1M21 86h1M34 86h1M60 86h1M139 86h1M152 86h1M22 87h1M75 87h1M114 87h1M140 87h1M37 88h1M76 88h1M102 88h1M115 88h1M141 88h1M25 89h1M64 89h1M77 89h1M116 89h1M155 89h1M27 90h1M38 90h1M66 90h1M77 90h1M156 90h1M38 91h1M69 91h1M77 91h1M108 91h1M117 91h1M147 91h1M156 91h1M33 92h6M72 92h6M112 92h5M151 92h6M8 98h2M47 98h2M86 98h2M125 98h3M7 99h2M11 99h2M46 99h2M51 99h1M85 99h2M90 99h1M125 99h1M129 99h2M7 100h1M14 100h1M46 100h1M53 100h1M86 100h1M93 100h1M125 100h1M132 100h1M8 101h1M16 101h1M47 101h1M55 101h1M86 101h1M94 101h1M125 101h1M134 101h1M18 102h1M48 102h1M57 102h1M87 102h1M96 102h1M126 102h1M135 102h1M10 103h1M19 103h1M49 103h1M59 103h1M88 103h1M98 103h1M127 103h1M137 103h1M11 104h1M21 104h1M60 104h1M90 104h1M100 104h1M129 104h1M139 104h1M13 105h1M23 105h1M52 105h1M63 105h1M92 105h1M102 105h1M131 105h1M141 105h1M15 106h1M26 106h1M55 106h1M65 106h1M94 106h1M104 106h1M133 106h1M144 106h1M17 107h1M29 107h1M57 107h1M68 107h1M96 107h1M107 107h1M135 107h1M146 107h1M19 108h1M31 108h1M70 108h1M98 108h1M109 108h1M137 108h1M21 109h1M60 109h1M72 109h1M99 109h1M111 109h1M150 109h1M34 110h1M73 110h1M101 110h1M112 110h1M140 110h1M24 111h1M63 111h1M74 111h1M113 111h1M142 111h1M26 112h1M35 112h1M65 112h1M74 112h1M104 112h1M114 112h1M153 112h1M28 113h1M35 113h1M67 113h1M75 113h1M107 113h1M114 113h1M146 113h1M153 113h1M31 114h5M70 114h5M109 114h6M149 114h5"/>
<path stroke="#ff6b00" d="M3 1h3M42 1h4M81 1h4M120 1h4M160 1h1M2 2h1M10 2h1M41 2h2M49 2h1M81 2h1M88 2h1M120 2h1M127 2h1M159 2h1M2 3h1M13 3h1M42 3h1M52 3h1M81 3h1M91 3h1M120 3h1M130 3h1M159 3h1M3 4h1M15 4h1M42 4h1M54 4h1M93 4h1M121 4h1M160 4h1M4 5h1M16 5h1M43 5h1M82 5h1M95 5h1M134 5h1M5 6h1M44 6h1M57 6h1M96 6h1M123 6h1M135 6h1M18 7h1M46 7h1M85 7h1M97 7h1M124 7h1M136 7h1M9 8h1M19 8h1M48 8h1M58 8h1M87 8h1M97 8h1M126 8h1M137 8h1M12 9h1M19 9h1M51 9h1M58 9h1M90 9h1M97 9h2M129 9h1M137 9h1M16 10h4M55 10h4M94 10h4M134 10h3M30 18h3M69 18h3M108 18h4M148 18h3M31 19h4M70 19h4M109 19h4M148 19h5M32 20h5M71 20h5M110 20h5M149 20h5M33 21h5M72 21h6M112 21h5M151 21h5M0 22h1M35 22h6M74 22h6M113 22h6M153 22h5M3 23h1M36 23h2M42 23h2M76 23h2M81 23h2M115 23h2M120 23h2M154 23h2M160 23h1M6 24h2M38 24h1M46 24h1M77 24h1M85 24h1M116 24h2M124 24h1M156 24h1M0 25h1M10 25h1M39 25h1M49 25h1M78 25h1M88 25h1M118 25h1M127 25h1M157 25h1M1 26h1M12 26h1M40 26h1M51 26h1M119 26h1M130 26h1M158 26h1M2 27h1M14 27h1M53 27h1M81 27h1M92 27h1M120 27h1M159 27h1M15 28h1M43 28h1M54 28h1M82 28h1M133 28h1M5 29h1M16 29h1M55 29h1M84 29h1M94 29h1M123 29h1M7 30h1M16 30h1M46 30h1M86 30h1M95 30h1M125 30h1M134 30h1M10 31h1M16 31h1M49 31h1M55 31h1M88 31h1M94 31h2M127 31h2M134 31h1M14 32h2M53 32h2M92 32h2M131 32h3M27 39h3M66 39h3M105 39h3M145 39h3M26 40h1M32 40h1M65 40h2M71 40h1M105 40h1M110 40h2M144 40h1M150 40h1M26 41h1M34 41h1M74 41h1M105 41h1M113 41h1M144 41h1M152 41h1M27 42h1M36 42h1M66 42h1M105 42h1M115 42h1M154 42h1M28 43h1M38 43h1M67 43h1M77 43h1M106 43h1M116 43h1M0 44h1M29 44h1M39 44h1M68 44h1M108 44h1M118 44h1M147 44h1M157 44h1M2 45h1M31 45h1M41 45h1M70 45h1M80 45h1M110 45h1M119 45h1M149 45h1M159 45h1M3 46h1M34 46h1M43 46h1M73 46h1M82 46h1M112 46h1M121 46h1M151 46h1M160 46h1M5 47h1M36 47h1M44 47h2M75 47h2M84 47h1M115 47h1M123 47h1M154 47h1M0 48h1M7 48h2M39 48h1M47 48h1M78 48h1M86 48h1M117 48h1M125 48h1M156 48h2M1 49h2M9 49h1M41 49h1M49 49h1M80 49h1M88 49h1M119 49h1M127 49h1M158 49h2M3 50h1M11 50h1M43 50h1M50 50h1M82 50h1M89 50h1M121 50h1M129 50h1M160 50h1M5 51h1M12 51h1M44 51h1M51 51h1M83 51h2M91 51h1M123 51h1M130 51h1M7 52h1M13 52h1M46 52h1M52 52h1M85 52h1M91 52h1M124 52h2M130 52h2M9 53h2M12 53h2M48 53h2M51 53h2M87 53h2M91 53h2M127 53h2M130 53h2M12 54h1M51 54h1M91 54h1M130 54h1M24 61h4M63 61h4M103 61h3M142 61h4M23 62h1M31 62h1M63 62h1M70 62h1M102 62h1M109 62h1M141 62h1M148 62h2M23 63h1M73 63h1M102 63h1M112 63h1M141 63h1M151 63h1M24 64h1M63 64h1M102 64h1M114 64h1M153 64h1M37 65h1M64 65h1M76 65h1M103 65h1M26 66h1M38 66h1M65 66h1M77 66h1M156 66h1M0 67h1M39 67h1M67 67h1M78 67h1M106 67h1M145 67h1M157 67h1M1 68h1M30 68h1M40 68h1M69 68h1M79 68h1M108 68h1M118 68h1M148 68h1M158 68h1M1 69h1M33 69h1M40 69h1M72 69h2M79 69h2M112 69h1M119 69h1M151 69h1M158 69h1M0 70h3M37 70h5M76 70h5M116 70h4M155 70h5M20 83h6M59 83h6M98 83h6M138 83h5M20 84h1M28 84h1M59 84h2M67 84h2M99 84h1M107 84h1M138 84h1M146 84h1M21 85h1M31 85h1M60 85h1M99 85h1M110 85h1M139 85h1M149 85h1M22 86h1M61 86h1M73 86h1M100 86h1M112 86h1M151 86h1M23 87h1M35 87h1M62 87h1M74 87h1M101 87h1M153 87h1M24 88h1M36 88h1M63 88h1M142 88h1M154 88h1M37 89h1M65 89h1M76 89h1M104 89h1M115 89h1M143 89h1M28 90h1M37 90h1M67 90h1M106 90h1M116 90h1M145 90h1M155 90h1M30 91h2M37 91h1M70 91h1M76 91h1M109 91h1M115 91h2M148 91h1M155 91h1M9 99h2M48 99h3M87 99h3M126 99h3M8 100h2M12 100h2M47 100h2M52 100h1M87 100h1M91 100h2M126 100h2M130 100h2M9 101h1M15 101h1M48 101h1M54 101h1M87 101h1M93 101h1M126 101h1M133 101h1M9 102h1M17 102h1M49 102h1M56 102h1M88 102h1M95 102h1M127 102h1M134 102h1M11 103h1M18 103h1M50 103h1M58 103h1M89 103h1M97 103h1M128 103h1M136 103h1M12 104h1M20 104h1M51 104h2M59 104h1M91 104h1M99 104h1M130 104h1M138 104h1M14 105h1M22 105h1M53 105h2M61 105h2M93 105h1M101 105h1M132 105h1M140 105h1M16 106h2M25 106h1M56 106h1M64 106h1M95 106h1M103 106h1M134 106h1M142 106h2M18 107h1M28 107h1M58 107h1M67 107h1M97 107h1M106 107h1M136 107h1M145 107h1M20 108h1M30 108h1M59 108h1M69 108h1M99 108h1M108 108h1M138 108h1M148 108h1M32 109h1M61 109h1M71 109h1M100 109h1M110 109h1M139 109h1M23 110h1M33 110h1M62 110h1M72 110h1M102 110h1M141 110h1M151 110h1M25 111h1M34 111h1M64 111h1M73 111h1M103 111h1M112 111h1M152 111h1M27 112h1M34 112h1M66 112h1M105 112h1M113 112h1M144 112h1M152 112h1M29 113h1M34 113h1M68 113h2M73 113h2M108 113h1M112 113h2M147 113h1M152 113h1"/>
<path stroke="#ff5000" d="M3 2h2M8 2h2M43 2h2M47 2h2M82 2h2M86 2h2M121 2h2M125 2h2M160 2h1M3 3h1M12 3h1M51 3h1M82 3h1M90 3h1M121 3h1M160 3h1M4 4h1M14 4h1M43 4h1M53 4h1M82 4h1M132 4h1M44 5h1M55 5h1M83 5h1M94 5h1M122 5h1M17 6h1M45 6h1M56 6h1M84 6h1M95 6h1M7 7h1M57 7h1M86 7h1M96 7h1M125 7h1M135 7h1M18 8h1M49 8h1M57 8h1M88 8h1M127 8h1M136 8h1M13 9h2M17 9h2M52 9h2M56 9h2M91 9h2M95 9h2M130 9h2M135 9h2M0 23h3M38 23h4M78 23h3M117 23h3M156 23h4M0 24h2M4 24h2M39 24h2M44 24h2M78 24h3M83 24h2M118 24h2M122 24h2M157 24h2M1 25h1M8 25h2M40 25h1M48 25h1M79 25h2M87 25h1M119 25h1M126 25h1M158 25h1M2 26h1M11 26h1M41 26h1M80 26h1M90 26h1M120 26h1M129 26h1M159 26h1M3 27h1M13 27h1M42 27h1M52 27h1M121 27h1M131 27h1M160 27h1M4 28h1M14 28h1M83 28h1M93 28h1M122 28h1M132 28h1M6 29h1M15 29h1M45 29h1M54 29h1M124 29h1M133 29h1M8 30h1M15 30h1M47 30h1M55 30h1M94 30h1M126 30h1M133 30h1M11 31h5M50 31h5M89 31h5M129 31h5M27 40h5M67 40h4M106 40h4M145 40h5M27 41h1M33 41h1M66 41h2M73 41h1M106 41h1M112 41h1M145 41h1M151 41h1M28 42h1M35 42h1M67 42h1M75 42h1M106 42h1M114 42h1M145 42h1M153 42h1M29 43h1M37 43h1M68 43h1M76 43h1M107 43h1M115 43h1M146 43h1M155 43h1M30 44h1M38 44h1M69 44h1M78 44h1M109 44h1M117 44h1M148 44h1M156 44h1M0 45h2M32 45h1M40 45h1M71 45h2M79 45h1M111 45h1M118 45h1M150 45h1M157 45h2M2 46h1M35 46h1M41 46h2M74 46h1M80 46h2M113 46h2M119 46h2M152 46h2M159 46h1M3 47h2M37 47h2M42 47h2M77 47h2M82 47h2M116 47h2M121 47h2M155 47h2M160 47h1M1 48h2M5 48h2M40 48h2M45 48h2M79 48h2M84 48h2M118 48h2M123 48h2M158 48h2M3 49h1M8 49h1M42 49h2M47 49h2M81 49h2M86 49h2M120 49h2M125 49h2M160 49h1M4 50h2M9 50h2M44 50h1M49 50h1M83 50h1M88 50h1M122 50h2M127 50h2M6 51h2M10 51h2M45 51h2M50 51h1M85 51h1M89 51h2M124 51h1M128 51h2M8 52h5M47 52h5M86 52h5M126 52h4M11 53h1M50 53h1M89 53h2M129 53h1M24 62h2M29 62h2M64 62h1M68 62h2M103 62h1M108 62h1M142 62h2M147 62h1M24 63h1M33 63h1M63 63h1M72 63h1M103 63h1M111 63h1M142 63h1M150 63h1M35 64h1M64 64h1M74 64h1M103 64h1M113 64h1M142 64h1M25 65h1M36 65h1M104 65h1M115 65h1M143 65h1M154 65h1M66 66h1M105 66h1M116 66h1M144 66h1M155 66h1M28 67h1M38 67h1M107 67h1M117 67h1M146 67h1M156 67h1M0 68h1M31 68h1M39 68h1M70 68h1M78 68h1M109 68h1M117 68h1M149 68h1M157 68h1M0 69h1M34 69h6M74 69h5M113 69h6M152 69h6M21 84h2M26 84h2M61 84h1M66 84h1M100 84h2M105 84h2M139 84h2M144 84h2M22 85h1M30 85h1M61 85h1M70 85h1M100 85h1M109 85h1M140 85h1M148 85h1M33 86h1M62 86h1M72 86h1M101 86h1M111 86h1M140 86h1M34 87h1M102 87h1M113 87h1M141 87h1M152 87h1M64 88h1M75 88h1M103 88h1M114 88h1M153 88h1M26 89h1M36 89h1M75 89h1M105 89h1M144 89h1M154 89h1M29 90h1M36 90h1M68 90h1M76 90h1M107 90h1M115 90h1M146 90h1M154 90h1M32 91h5M71 91h5M110 91h5M149 91h6M10 100h2M49 100h3M88 100h3M128 100h2M10 101h5M49 101h5M88 101h5M127 101h6M10 102h2M15 102h2M50 102h1M54 102h2M89 102h1M94 102h1M128 102h2M133 102h1M12 103h1M17 103h1M51 103h1M56 103h2M90 103h2M95 103h2M129 103h2M135 103h1M13 104h2M18 104h2M53 104h1M58 104h1M92 104h2M97 104h2M131 104h2M136 104h2M15 105h2M20 105h2M55 105h2M59 105h2M94 105h2M99 105h2M133 105h2M138 105h2M18 106h1M23 106h2M57 106h2M62 106h2M96 106h2M101 106h2M135 106h2M141 106h1M19 107h2M26 107h2M59 107h1M65 107h2M98 107h1M105 107h1M137 107h2M144 107h1M21 108h1M29 108h1M60 108h1M68 108h1M100 108h1M107 108h1M139 108h1M147 108h1M22 109h1M31 109h1M62 109h1M70 109h1M101 109h1M109 109h1M140 109h1M149 109h1M24 110h1M32 110h1M63 110h1M71 110h1M111 110h1M142 110h1M150 110h1M26 111h1M33 111h1M65 111h1M72 111h1M104 111h1M111 111h1M143 111h1M151 111h1M28 112h1M33 112h1M67 112h1M72 112h2M106 112h1M112 112h1M145 112h2M151 112h1M30 113h4M70 113h3M109 113h3M148 113h4"/>
<path stroke="#ff3500" d="M5 2h3M45 2h2M84 2h2M123 2h2M4 3h1M11 3h1M43 3h2M50 3h1M83 3h1M89 3h1M122 3h1M128 3h2M13 4h1M44 4h1M83 4h1M92 4h1M122 4h1M131 4h1M5 5h1M15 5h1M54 5h1M84 5h1M123 5h1M133 5h1M6 6h1M16 6h1M55 6h1M85 6h1M124 6h1M134 6h1M8 7h1M17 7h1M47 7h1M56 7h1M95 7h1M126 7h1M10 8h2M17 8h1M50 8h1M56 8h1M89 8h1M95 8h2M128 8h1M135 8h1M15 9h2M54 9h2M93 9h2M132 9h3M2 24h2M41 24h3M81 24h2M120 24h2M159 24h2M2 25h2M7 25h1M41 25h2M46 25h2M81 25h2M85 25h2M120 25h2M124 25h2M159 25h2M3 26h1M10 26h1M42 26h1M49 26h2M81 26h1M89 26h1M121 26h1M128 26h1M160 26h1M4 27h1M12 27h1M43 27h1M51 27h1M82 27h1M91 27h1M122 27h1M130 27h1M5 28h1M44 28h1M53 28h1M84 28h1M92 28h1M123 28h1M131 28h1M7 29h1M14 29h1M46 29h1M53 29h1M85 29h1M93 29h1M125 29h1M132 29h1M9 30h1M14 30h1M48 30h2M53 30h2M87 30h2M92 30h2M127 30h1M132 30h1M28 41h5M68 41h5M107 41h5M146 41h5M29 42h1M34 42h1M68 42h1M73 42h2M107 42h1M113 42h1M146 42h2M152 42h1M30 43h1M36 43h1M69 43h1M75 43h1M108 43h1M114 43h1M147 43h2M154 43h1M31 44h1M37 44h1M70 44h2M76 44h2M110 44h1M116 44h1M149 44h1M155 44h1M33 45h2M38 45h2M73 45h2M77 45h2M112 45h2M116 45h2M151 45h2M155 45h2M0 46h2M36 46h5M75 46h5M115 46h4M154 46h5M0 47h3M39 47h3M79 47h3M118 47h3M157 47h3M3 48h2M42 48h3M81 48h3M120 48h3M160 48h1M4 49h4M44 49h3M83 49h3M122 49h3M6 50h3M45 50h4M84 50h4M124 50h3M8 51h2M47 51h3M86 51h3M125 51h3M26 62h3M65 62h3M104 62h4M144 62h3M25 63h1M32 63h1M64 63h1M71 63h1M104 63h1M110 63h1M143 63h1M149 63h1M25 64h1M34 64h1M73 64h1M104 64h1M112 64h1M143 64h1M152 64h1M26 65h1M65 65h1M75 65h1M114 65h1M144 65h1M153 65h1M27 66h1M37 66h1M76 66h1M106 66h1M115 66h1M145 66h1M154 66h1M29 67h1M37 67h1M68 67h1M77 67h1M108 67h1M116 67h1M147 67h1M155 67h1M32 68h1M37 68h2M71 68h2M76 68h2M110 68h2M116 68h1M150 68h1M155 68h2M23 84h3M62 84h4M102 84h3M141 84h3M23 85h1M29 85h1M62 85h1M68 85h2M101 85h2M108 85h1M141 85h1M147 85h1M23 86h1M32 86h1M71 86h1M102 86h1M110 86h1M141 86h1M150 86h1M24 87h1M63 87h1M73 87h1M103 87h1M112 87h1M142 87h1M151 87h1M25 88h1M35 88h1M65 88h1M74 88h1M104 88h1M113 88h1M143 88h1M27 89h1M35 89h1M66 89h1M106 89h1M114 89h1M145 89h1M153 89h1M30 90h1M35 90h1M69 90h1M74 90h2M108 90h1M114 90h1M147 90h2M153 90h1M12 102h3M51 102h3M90 102h4M130 102h3M13 103h4M52 103h4M92 103h3M131 103h4M15 104h3M54 104h4M94 104h3M133 104h3M17 105h3M57 105h2M96 105h3M135 105h3M19 106h4M59 106h3M98 106h3M137 106h4M21 107h5M60 107h5M99 107h6M139 107h5M22 108h2M27 108h2M61 108h2M66 108h2M101 108h1M106 108h1M140 108h2M145 108h2M23 109h2M30 109h1M63 109h1M69 109h1M102 109h1M108 109h1M141 109h2M147 109h2M25 110h1M31 110h1M64 110h1M70 110h1M103 110h2M110 110h1M143 110h1M149 110h1M27 111h1M32 111h1M66 111h1M71 111h1M105 111h1M110 111h1M144 111h2M149 111h2M29 112h4M68 112h4M107 112h5M147 112h4"/>
<path stroke="#ff1a00" d="M5 3h6M45 3h5M84 3h5M123 3h5M5 4h1M12 4h1M45 4h1M51 4h2M84 4h1M91 4h1M123 4h1M130 4h1M6 5h1M14 5h1M45 5h1M53 5h1M93 5h1M124 5h1M132 5h1M7 6h1M15 6h1M46 6h1M86 6h1M94 6h1M125 6h1M133 6h1M9 7h1M16 7h1M48 7h1M55 7h1M87 7h2M94 7h1M127 7h1M134 7h1M12 8h5M51 8h5M90 8h5M129 8h6M4 25h3M43 25h3M83 25h2M122 25h2M4 26h2M8 26h2M43 26h2M48 26h1M82 26h2M87 26h2M122 26h2M126 26h2M5 27h1M11 27h1M44 27h1M50 27h1M83 27h2M90 27h1M123 27h1M129 27h1M6 28h1M12 28h2M45 28h1M52 28h1M85 28h1M91 28h1M124 28h1M130 28h1M8 29h1M13 29h1M47 29h1M52 29h1M86 29h2M91 29h2M126 29h1M131 29h1M10 30h4M50 30h3M89 30h3M128 30h4M30 42h4M69 42h4M108 42h5M148 42h4M31 43h5M70 43h5M109 43h5M149 43h5M32 44h5M72 44h4M111 44h5M150 44h5M35 45h3M75 45h2M114 45h2M153 45h2M26 63h6M65 63h3M69 63h2M105 63h2M108 63h2M144 63h2M147 63h2M26 64h1M33 64h1M65 64h2M72 64h1M105 64h1M111 64h1M144 64h1M151 64h1M27 65h1M35 65h1M66 65h1M74 65h1M105 65h1M113 65h1M145 65h1M152 65h1M28 66h1M36 66h1M67 66h1M75 66h1M107 66h1M114 66h1M146 66h1M30 67h1M36 67h1M69 67h2M75 67h2M109 67h1M115 67h1M148 67h1M154 67h1M33 68h4M73 68h3M112 68h4M151 68h4M24 85h5M63 85h5M103 85h5M142 85h5M24 86h1M31 86h1M63 86h2M70 86h1M103 86h1M109 86h1M142 86h1M149 86h1M25 87h1M33 87h1M64 87h1M72 87h1M111 87h1M143 87h1M150 87h1M26 88h1M34 88h1M73 88h1M105 88h1M112 88h1M144 88h1M152 88h1M28 89h1M34 89h1M67 89h1M73 89h2M107 89h1M113 89h1M146 89h1M152 89h1M31 90h4M70 90h4M109 90h5M149 90h4M24 108h3M63 108h3M102 108h4M142 108h3M25 109h5M64 109h5M103 109h5M143 109h4M26 110h5M65 110h5M105 110h5M144 110h5M28 111h4M67 111h4M106 111h4M146 111h3"/>
<path stroke="#fd0b00" d="M6 4h2M10 4h2M46 4h1M50 4h1M85 4h2M89 4h2M124 4h2M128 4h2M7 5h1M13 5h1M46 5h1M52 5h1M85 5h2M92 5h1M125 5h1M131 5h1M8 6h1M14 6h1M47 6h1M53 6h2M87 6h1M93 6h1M126 6h1M132 6h1M10 7h2M14 7h2M49 7h2M53 7h2M89 7h1M93 7h1M128 7h2M132 7h2M6 26h2M45 26h3M84 26h3M124 26h2M6 27h5M45 27h5M85 27h5M124 27h5M7 28h5M46 28h6M86 28h5M125 28h5M9 29h4M48 29h4M88 29h3M127 29h4M68 63h1M107 63h1M146 63h1M27 64h2M31 64h2M67 64h1M70 64h2M106 64h1M110 64h1M145 64h2M149 64h2M28 65h1M33 65h2M67 65h1M73 65h1M106 65h2M112 65h1M146 65h1M151 65h1M29 66h1M34 66h2M68 66h2M74 66h1M108 66h1M113 66h1M147 66h1M152 66h2M31 67h5M71 67h4M110 67h5M149 67h5M25 86h6M65 86h5M104 86h2M107 86h2M143 86h6M26 87h1M31 87h2M65 87h1M71 87h1M104 87h2M110 87h1M144 87h1M149 87h1M27 88h1M33 88h1M66 88h2M72 88h1M106 88h1M111 88h1M145 88h1M150 88h2M29 89h5M68 89h5M108 89h5M147 89h5"/>
<path stroke="#fa0400" d="M8 4h2M47 4h3M87 4h2M126 4h2M8 5h5M47 5h5M87 5h5M126 5h5M9 6h5M48 6h5M88 6h5M127 6h5M12 7h2M51 7h2M90 7h3M130 7h2M29 64h2M68 64h2M107 64h3M147 64h2M29 65h4M68 65h5M108 65h4M147 65h4M30 66h4M70 66h4M109 66h4M148 66h4M106 86h1M27 87h4M66 87h5M106 87h4M145 87h4M28 88h5M68 88h4M107 88h4M146 88h4"/>
</g></g>
<g filter="url(#bl2)">
<rect x="65.5" y="1148" width="626.5" height="20.5" fill="#0a30c0"/>
<rect x="65.2" y="1148" width="20.2" height="20.5" fill="#18a8f4"/>
<rect x="84.8" y="1148" width="20.2" height="20.5" fill="#0a48e4"/>
<rect x="104.4" y="1148" width="20.2" height="20.5" fill="#0a58f0"/>
<rect x="123.9" y="1148" width="20.2" height="20.5" fill="#28d4f0"/>
<rect x="143.5" y="1148" width="20.2" height="20.5" fill="#d4e628"/>
<rect x="163.1" y="1148" width="20.2" height="20.5" fill="#ff4a10"/>
<rect x="182.7" y="1148" width="20.2" height="20.5" fill="#cc0404"/>
<rect x="202.2" y="1148" width="20.2" height="20.5" fill="#ff5a14"/>
<rect x="221.8" y="1148" width="20.2" height="20.5" fill="#18a8f4"/>
<rect x="241.4" y="1148" width="20.2" height="20.5" fill="#0a48e4"/>
<rect x="261" y="1148" width="20.2" height="20.5" fill="#0a58f0"/>
<rect x="280.6" y="1148" width="20.2" height="20.5" fill="#28d4f0"/>
<rect x="300.1" y="1148" width="20.2" height="20.5" fill="#d4e628"/>
<rect x="319.7" y="1148" width="20.2" height="20.5" fill="#ff4a10"/>
<rect x="339.3" y="1148" width="20.2" height="20.5" fill="#cc0404"/>
<rect x="358.9" y="1148" width="20.2" height="20.5" fill="#ff5a14"/>
<rect x="378.4" y="1148" width="20.2" height="20.5" fill="#18a8f4"/>
<rect x="398" y="1148" width="20.2" height="20.5" fill="#0a48e4"/>
<rect x="417.6" y="1148" width="20.2" height="20.5" fill="#0a58f0"/>
<rect x="437.2" y="1148" width="20.2" height="20.5" fill="#28d4f0"/>
<rect x="456.8" y="1148" width="20.2" height="20.5" fill="#d4e628"/>
<rect x="476.3" y="1148" width="20.2" height="20.5" fill="#ff4a10"/>
<rect x="495.9" y="1148" width="20.2" height="20.5" fill="#cc0404"/>
<rect x="515.5" y="1148" width="20.2" height="20.5" fill="#ff5a14"/>
<rect x="535.1" y="1148" width="20.2" height="20.5" fill="#18a8f4"/>
<rect x="554.7" y="1148" width="20.2" height="20.5" fill="#0a48e4"/>
<rect x="574.2" y="1148" width="20.2" height="20.5" fill="#0a58f0"/>
<rect x="593.8" y="1148" width="20.2" height="20.5" fill="#28d4f0"/>
<rect x="613.4" y="1148" width="20.2" height="20.5" fill="#d4e628"/>
<rect x="633" y="1148" width="20.2" height="20.5" fill="#ff4a10"/>
<rect x="652.5" y="1148" width="20.2" height="20.5" fill="#cc0404"/>
<rect x="672.1" y="1148" width="20.2" height="20.5" fill="#ff5a14"/>
<path d="M69.3 1149h12l-6 8zM69.3 1167.5h12l-6 -8zM88.9 1149h12l-6 8zM88.9 1167.5h12l-6 -8zM108.4 1149h12l-6 8zM108.4 1167.5h12l-6 -8zM128 1149h12l-6 8zM128 1167.5h12l-6 -8zM147.6 1149h12l-6 8zM147.6 1167.5h12l-6 -8zM167.2 1149h12l-6 8zM167.2 1167.5h12l-6 -8zM186.8 1149h12l-6 8zM186.8 1167.5h12l-6 -8zM206.3 1149h12l-6 8zM206.3 1167.5h12l-6 -8zM225.9 1149h12l-6 8zM225.9 1167.5h12l-6 -8zM245.5 1149h12l-6 8zM245.5 1167.5h12l-6 -8zM265.1 1149h12l-6 8zM265.1 1167.5h12l-6 -8zM284.6 1149h12l-6 8zM284.6 1167.5h12l-6 -8zM304.2 1149h12l-6 8zM304.2 1167.5h12l-6 -8zM323.8 1149h12l-6 8zM323.8 1167.5h12l-6 -8zM343.4 1149h12l-6 8zM343.4 1167.5h12l-6 -8zM363 1149h12l-6 8zM363 1167.5h12l-6 -8zM382.5 1149h12l-6 8zM382.5 1167.5h12l-6 -8zM402.1 1149h12l-6 8zM402.1 1167.5h12l-6 -8zM421.7 1149h12l-6 8zM421.7 1167.5h12l-6 -8zM441.3 1149h12l-6 8zM441.3 1167.5h12l-6 -8zM460.9 1149h12l-6 8zM460.9 1167.5h12l-6 -8zM480.4 1149h12l-6 8zM480.4 1167.5h12l-6 -8zM500 1149h12l-6 8zM500 1167.5h12l-6 -8zM519.6 1149h12l-6 8zM519.6 1167.5h12l-6 -8zM539.2 1149h12l-6 8zM539.2 1167.5h12l-6 -8zM558.7 1149h12l-6 8zM558.7 1167.5h12l-6 -8zM578.3 1149h12l-6 8zM578.3 1167.5h12l-6 -8zM597.9 1149h12l-6 8zM597.9 1167.5h12l-6 -8zM617.5 1149h12l-6 8zM617.5 1167.5h12l-6 -8zM637.1 1149h12l-6 8zM637.1 1167.5h12l-6 -8zM656.6 1149h12l-6 8zM656.6 1167.5h12l-6 -8zM676.2 1149h12l-6 8zM676.2 1167.5h12l-6 -8z" fill="#08082c"/>
<path d="M92.4 1151h5l-2.5 4.5zM92.4 1165.5h5l-2.5 -4.5zM249 1151h5l-2.5 4.5zM249 1165.5h5l-2.5 -4.5zM405.6 1151h5l-2.5 4.5zM405.6 1165.5h5l-2.5 -4.5zM562.2 1151h5l-2.5 4.5zM562.2 1165.5h5l-2.5 -4.5z" fill="#b00010"/>
</g>
<rect x="65.5" y="698" width="626.5" height="470.5" fill="none" stroke="#0a0a0a" stroke-width="2"/>
<path d="M65.5 1148H692" stroke="#0a0a0a" stroke-width="1.8"/>
<rect x="83.8" y="704.5" width="91.2" height="78.5" fill="#fff"/>
<text x="134.4" y="758.5" font-size="70" text-anchor="middle" font-family="'Liberation Serif','Noto Serif CJK SC',serif" fill="#0c0c0c">(<tspan font-weight="bold" font-size="66">c</tspan>)</text>
<path d="M262.4 900.8H464M262.4 1040.5H464" fill="none" stroke="#0a0a0a" stroke-width="3.2" stroke-dasharray="13.6 7.18"/>
<path d="M264 899.2V1042.1M462.4 899.2V1042.1" fill="none" stroke="#0a0a0a" stroke-width="3.2" stroke-dasharray="13.6 7.95"/>
<path d="M146.8 839.5H155.8V1050L173.8 1042.5L151.4 1113L128.8 1044L146.8 1050Z" fill="#fff5f6"/>
<path d="M272.5 1088.9L414.3 873.3L379.4 879L442.3 842.6L433.7 914.8L425.2 880.4L283.3 1096.1Z" fill="#0a0a0a"/>
<g font-family="'Liberation Serif','Noto Serif CJK SC',serif" fill="#111" font-size="31">
<text x="60" y="1215.5">0</text><text x="253" y="1218.5">20</text><text x="443.5" y="1215.5">40</text><text x="641" y="1216">60</text>
<text x="684.5" y="1211.5" font-size="35.5">(cm)</text>
</g>
</g>
<g id="pd">
<clipPath id="cpd"><rect x="809" y="703.6" width="597" height="463.8"/></clipPath>
<g clip-path="url(#cpd)" stroke="#101010" stroke-width="1.3" stroke-linejoin="round">
<path fill="#0a04f8" d="M1406 1111.7L1350.3 1111.7L1339.7 1110.3L1332.5 1101.1L1308.8 1070.3L1339.7 1068L1372.8 1068L1406 1078.1L1406 1101.1ZM809 914.8L824.3 917.7L833.9 902.4L873.1 900.1L875.3 900.3L877.3 902.4L891.9 918.9L901.9 968.6L894.3 987.6L875.3 975.6L817.8 977.4L809 976.1L809 968.6ZM941.7 751.5L990.7 752.5L1008 743.1L1065.8 761.4L1074.3 766.2L1076.3 769.9L1082.6 778.1L1074.3 786.4L1048.1 810L1008 816L989 817.2L941.7 807.5L932.6 769.9L925.9 754.1ZM1273.3 738.5L1312.4 742.6L1339.7 750L1357.3 769.9L1372.8 803L1339.7 797.7L1305.3 801.8L1273.3 783.9L1264.3 769.9L1250.1 746.6ZM1140.7 877.9L1179.4 874.8L1207 890.5L1216.3 902.4L1241.5 936.9L1207 935.5L1170.6 932.2L1140.7 920.4L1131 902.4L1102.4 864.1ZM1008 1034.9L1074.3 1099L1076.2 1101.1L1078.3 1105.1L1074.3 1109.4L1027 1120.1L1008 1124.9L985.3 1101.1L984.2 1077.4Z"/>
<path fill="#0a88fc" d="M814.5 703.6L811.4 706L809 705.9L809 703.6ZM1406 838.2L1372.8 836.1L1339.7 830.8L1334.9 831.4L1273.3 797L1256 769.9L1228.5 725.1L1273.3 709.4L1279.8 710.1L1339.7 726.3L1378.3 769.9L1406 829L1406 836.1ZM1406 1078.1L1372.8 1068L1339.7 1068L1308.8 1070.3L1332.5 1101.1L1339.7 1110.3L1350.3 1111.7L1406 1111.7L1406 1125L1363.5 1125L1339.7 1121.7L1323.5 1101.1L1273.3 1035.8L1272 1034.9L1207 968.6L1140.7 942.3L1119.2 902.4L1074.3 842.4L1017 845.1L1008 843.5L944.8 839.3L941.7 838.8L938.7 836.1L938.8 833.2L923.4 769.9L910.1 738.3L941.7 733L971.8 733.7L1008 714.1L1023.3 718.9L1074.3 747.8L1086.2 769.9L1124.1 819.6L1107.5 836.1L1140.7 848.1L1151.7 847.2L1207 878.7L1225.6 902.4L1273.3 967.6L1338.1 967.1L1339.7 967.2L1341.2 968.6L1352.5 981.5L1358.6 1034.9L1406 1049.3ZM809 976.1L817.8 977.4L875.3 975.6L894.3 987.6L901.9 968.6L891.9 918.9L877.3 902.4L875.3 900.3L873.1 900.1L833.9 902.4L824.3 917.7L809 914.8L809 902.4L809 891.8L861.7 888.8L875.3 889.8L886.9 902.4L941.7 964.3L947.1 968.6L1008 1022.8L1019.1 1034.9L1074.3 1088.2L1085.4 1101.1L1098.3 1125.1L1074.3 1150.8L1060.8 1153.9L1008 1167.4L944.9 1101.1L941.7 1034.9L875.3 993L834.7 994.3L809 990.5ZM925.9 754.1L932.6 769.9L941.7 807.5L989 817.2L1008 816L1048.1 810L1074.3 786.4L1082.6 778.1L1076.3 769.9L1074.3 766.2L1065.8 761.4L1008 743.1L990.7 752.5L941.7 751.5ZM1250.1 746.6L1264.3 769.9L1273.3 783.9L1305.3 801.8L1339.7 797.7L1372.8 803L1357.3 769.9L1339.7 750L1312.4 742.6L1273.3 738.5ZM1102.4 864.1L1131 902.4L1140.7 920.4L1170.6 932.2L1207 935.5L1241.5 936.9L1216.3 902.4L1207 890.5L1179.4 874.8L1140.7 877.9ZM984.2 1077.4L985.3 1101.1L1008 1124.9L1027 1120.1L1074.3 1109.4L1078.3 1105.1L1076.2 1101.1L1074.3 1099L1008 1034.9Z"/>
<path fill="#00fafc" d="M842.2 703.6L823.5 718.1L809 717.3L809 705.9L811.4 706L814.5 703.6ZM1028.8 703.6L1074.3 729.4L1096.2 769.9L1140.7 828.3L1153.1 836.1L1207 866.9L1234.9 902.4L1273.3 954.9L1325.5 954.5L1339.7 955.7L1354.4 968.6L1406 1027.4L1406 1034.9L1406 1049.3L1358.6 1034.9L1352.5 981.5L1341.2 968.6L1339.7 967.2L1338.1 967.1L1273.3 967.6L1225.6 902.4L1207 878.7L1151.7 847.2L1140.7 848.1L1107.5 836.1L1124.1 819.5L1086.2 769.9L1074.3 747.8L1023.3 718.9L1008 714.1L971.8 733.7L941.7 733L910.1 738.3L923.4 769.9L938.8 833.2L938.7 836.1L941.7 838.8L944.8 839.3L1008 843.5L1017 845.1L1074.3 842.4L1119.2 902.4L1140.7 942.3L1207 968.6L1272 1034.9L1273.3 1035.8L1323.5 1101.1L1339.7 1121.7L1363.5 1125L1406 1125L1406 1138.2L1376.8 1138.2L1339.7 1133.1L1314.6 1101.1L1273.3 1047.5L1255.4 1034.9L1207 985.5L1151.7 968.6L1140.7 964.2L1107.4 902.4L1074.3 858.2L1032.1 860.2L1008 855.7L958 852.4L941.7 850L926.3 836.1L926.8 821.2L914.3 769.9L894.3 722.5L941.7 714.6L953 714.9L973.8 703.6L1008 703.6ZM1406 746.8L1347 711L1399.3 769.9L1406 784.2L1406 829L1378.3 769.9L1339.7 726.3L1279.8 710.1L1273.3 709.4L1228.5 725.1L1256 769.9L1273.3 797L1334.9 831.4L1339.7 830.8L1372.8 836.1L1406 838.2L1406 851.4L1351.5 847.9L1339.7 846.3L1320 836.1L1273.3 810L1247.7 769.9L1207 703.6L1273.3 703.6L1339.7 703.6L1406 703.6ZM966.5 1167.4L941.7 1141.2L926.6 1101.1L915.4 1074.9L914 1034.9L875.3 1010.5L851.6 1011.2L809 1004.9L809 990.5L834.7 994.3L875.3 993L941.7 1034.9L944.9 1101.1L1008 1167.4L1060.8 1153.9L1074.3 1150.8L1098.3 1125.1L1085.4 1101.1L1074.3 1088.2L1019.1 1034.9L1008 1022.8L947.1 968.6L941.7 964.3L886.9 902.4L875.3 889.8L861.7 888.8L809 891.8L809 879.8L850.3 877.4L875.3 879.3L896.5 902.4L941.7 953.4L960.7 968.6L1008 1010.7L1030.3 1034.9L1074.3 1077.5L1094.6 1101.1L1118.3 1145L1097.5 1167.4L1074.3 1167.4L1008 1167.4Z"/>
<path fill="#08f888" d="M869.8 703.6L835.6 730.2L809 728.7L809 717.3L823.5 718.1L842.2 703.6ZM973.8 703.6L953 714.9L941.7 714.6L894.3 722.5L914.3 769.9L926.8 821.2L926.3 836.1L941.7 850L958 852.4L1008 855.7L1032.1 860.2L1074.3 858.2L1107.4 902.4L1140.7 964.2L1151.7 968.6L1207 985.5L1255.4 1034.9L1273.3 1047.5L1314.6 1101.1L1339.7 1133.1L1376.8 1138.2L1406 1138.2L1406 1151.5L1390.1 1151.5L1339.7 1144.6L1305.6 1101.1L1273.3 1059.1L1238.8 1034.9L1207 1002.4L1160.2 988.1L1140.7 990L1129.1 968.6L1120.3 948.2L1095.6 902.4L1074.3 874L1047.2 875.3L1008 868L971.1 865.6L941.7 861.2L913.9 836.1L914.7 809.2L905.2 769.9L878.5 706.8L897.4 703.6L941.7 703.6ZM1061.3 703.6L1074.3 711L1106.1 769.9L1140.7 815.2L1173.8 836.1L1207 855L1244.3 902.4L1273.3 942.1L1312.8 941.8L1339.7 944.1L1367.6 968.6L1406 1012.4L1406 1027.4L1354.4 968.6L1339.7 955.7L1325.5 954.5L1273.3 954.9L1234.9 902.4L1207 866.9L1153.1 836.1L1140.7 828.3L1096.2 769.9L1074.3 729.4L1028.8 703.6ZM1207 703.6L1247.7 769.9L1273.3 810L1320 836.1L1339.7 846.3L1351.5 847.9L1406 851.4L1406 864.5L1365.5 861.9L1339.7 858.5L1296.7 836.1L1273.3 823.1L1239.3 769.9L1207 717.2L1170.1 703.6ZM1406 784.2L1399.3 769.9L1347 711L1406 746.8L1406 769.9ZM1097.5 1167.4L1118.3 1145L1094.6 1101.1L1074.3 1077.5L1030.3 1034.9L1008 1010.7L960.7 968.6L941.7 953.4L896.5 902.4L875.3 879.3L850.3 877.4L809 879.8L809 867.8L839 866.1L875.3 868.8L906.2 902.4L941.7 942.5L974.3 968.6L1008 998.6L1041.4 1034.9L1074.3 1066.7L1103.8 1101.1L1138.3 1165L1136 1167.4ZM866.3 1167.4L868.2 1160.3L875.3 1155.2L931.1 1156.9L910.1 1101.1L886.8 1046.3L886.4 1034.9L875.3 1027.9L868.6 1028.1L809 1019.3L809 1004.9L851.6 1011.2L875.3 1010.5L914 1034.9L915.4 1074.9L926.6 1101.1L941.7 1141.2L966.5 1167.4L941.7 1167.4L875.3 1167.4Z"/>
<path fill="#08ee08" d="M897.4 703.6L878.5 706.8L905.2 769.9L914.7 809.2L913.9 836.1L941.7 861.2L971.1 865.6L1008 868L1047.2 875.3L1074.3 874L1095.6 902.4L1120.3 948.2L1129.1 968.6L1140.7 990L1160.2 988.1L1207 1002.4L1238.8 1034.9L1273.3 1059.1L1305.6 1101.1L1339.7 1144.6L1390.1 1151.5L1406 1151.5L1406 1164.7L1403.3 1164.7L1339.7 1156L1296.6 1101.1L1273.3 1070.8L1222.3 1034.9L1207 1019.3L1184.6 1012.5L1140.7 1016.7L1114.7 968.6L1094.7 922.8L1083.8 902.4L1074.3 889.8L1062.3 890.3L1008 880.3L984.3 878.7L941.7 872.4L901.6 836.1L902.7 797.2L896.1 769.9L875.3 720.8L847.7 742.3L809 740.2L809 728.7L835.6 730.2L869.8 703.6L875.3 703.6ZM1170.1 703.6L1207 717.2L1239.3 769.9L1273.3 823.1L1296.7 836.1L1339.7 858.5L1365.5 861.9L1406 864.5L1406 877.7L1379.6 876L1339.7 870.7L1273.3 836.1L1231 769.9L1207 730.8L1145 707.9L1140.7 708.5L1087.3 716.5L1116 769.9L1140.7 802.2L1194.6 836.1L1207 843.2L1253.6 902.4L1273.3 929.4L1300.2 929.2L1339.7 932.5L1380.7 968.6L1406 997.4L1406 1012.4L1367.6 968.6L1339.7 944.1L1312.8 941.8L1273.3 942.1L1244.3 902.4L1207 855L1173.8 836.1L1140.7 815.2L1106.1 769.9L1074.3 711L1061.3 703.6L1074.3 703.6L1140.7 703.6ZM1136 1167.4L1138.3 1165L1103.8 1101.1L1074.3 1066.7L1041.4 1034.9L1008 998.6L974.3 968.6L941.7 942.5L906.2 902.4L875.3 868.8L839 866.1L809 867.8L809 855.8L827.6 854.7L875.3 858.3L915.8 902.4L941.7 931.6L987.9 968.6L1008 986.5L1052.5 1034.9L1074.3 1056L1113 1101.1L1140.7 1152.4L1195.9 1156.4L1207 1155L1256.8 1167.4L1207 1167.4L1140.7 1167.4ZM847.4 1167.4L853.4 1145.5L875.3 1129.7L904.8 1130.6L893.7 1101.1L875.3 1058L816.8 1034.9L809 1033.7L809 1019.3L868.6 1028.1L875.3 1027.9L886.4 1034.9L886.8 1046.3L910.1 1101.1L931.1 1156.9L875.3 1155.2L868.2 1160.3L866.3 1167.4Z"/>
<path fill="#fcfc00" d="M1406 890.8L1393.6 890L1339.7 882.9L1298.8 861.6L1273.3 867.4L1224.5 853.6L1262.9 902.4L1273.3 916.6L1287.5 916.5L1339.7 920.9L1393.9 968.6L1406 982.4L1406 997.4L1380.7 968.6L1339.7 932.5L1300.2 929.2L1273.3 929.4L1253.6 902.4L1207 843.2L1194.6 836.1L1140.7 802.2L1116 769.9L1087.3 716.5L1140.7 708.5L1145 707.9L1207 730.8L1231 769.9L1273.3 836.1L1339.7 870.7L1379.6 876L1406 877.7ZM1339.7 1167.4L1287.7 1101.1L1273.3 1082.5L1210.2 1038L1207 1038L1151.7 1045.9L1140.7 1044L1124.1 1034.9L1130.7 1024.9L1100.3 968.6L1074.3 909L1061.1 902.4L1008 892.6L997.5 891.9L941.7 883.6L889.2 836.1L890.7 785.2L887 769.9L875.3 742.3L859.8 754.4L809 751.6L809 740.2L847.7 742.3L875.3 720.8L896.1 769.9L902.7 797.2L901.6 836.1L941.7 872.4L984.3 878.7L1008 880.3L1062.3 890.3L1074.3 889.8L1083.8 902.4L1094.7 922.8L1114.7 968.6L1140.7 1016.7L1184.6 1012.5L1207 1019.3L1222.3 1034.9L1273.3 1070.8L1296.6 1101.1L1339.7 1156L1403.3 1164.7L1406 1164.7L1406 1167.4ZM1256.8 1167.4L1207 1155L1195.9 1156.4L1140.7 1152.4L1113 1101.1L1074.3 1056L1052.5 1034.9L1008 986.5L987.9 968.6L941.7 931.6L915.8 902.4L875.3 858.3L827.6 854.7L809 855.8L809 843.8L816.3 843.4L875.3 847.9L925.5 902.4L941.7 920.7L1001.5 968.6L1008 974.4L1063.6 1034.9L1074.3 1045.2L1122.2 1101.1L1140.7 1135.3L1177.5 1138L1207 1134.3L1251.2 1145.3L1273.3 1145.3L1339.7 1167.4L1273.3 1167.4ZM828.6 1167.4L838.6 1130.7L875.3 1104.2L878.5 1104.3L877.3 1101.1L875.3 1096.5L867.7 1093.5L809 1055.8L809 1034.9L809 1033.7L816.8 1034.9L875.3 1058L893.7 1101.1L904.8 1130.6L875.3 1129.7L853.4 1145.5L847.4 1167.4ZM1108.8 738L1126 769.9L1140.7 789.2L1192.9 822L1207 824.5L1250.3 813.1L1222.7 769.9L1207 744.3L1166.5 729.4L1140.7 733.3Z"/>
<path fill="#ff8200" d="M1406 982.4L1393.9 968.6L1339.7 920.9L1287.5 916.5L1273.3 916.6L1262.9 902.4L1224.5 853.6L1273.3 867.4L1298.8 861.6L1339.7 882.9L1393.6 890L1406 890.8L1406 902.4L1406 968.6ZM1339.7 1167.4L1273.3 1145.3L1251.2 1145.3L1207 1134.3L1177.5 1138L1140.7 1135.3L1122.2 1101.1L1074.3 1045.2L1063.6 1034.9L1008 974.4L1001.5 968.6L941.7 920.7L925.5 902.4L875.3 847.9L816.3 843.4L809 843.8L809 836.1L809 811.3L858.8 836.1L875.3 837.4L935.1 902.4L941.7 909.8L979.3 939.9L992.9 902.4L941.7 894.8L876.8 836.1L878.7 773.2L877.9 769.9L875.3 763.8L871.9 766.5L809 763L809 751.6L859.8 754.4L875.3 742.3L887 769.9L890.7 785.2L889.2 836.1L941.7 883.6L997.5 891.9L1008 892.6L1061.1 902.4L1074.3 909L1100.3 968.6L1130.7 1024.9L1124.1 1034.9L1140.7 1044L1151.7 1045.9L1207 1038L1210.2 1038L1273.3 1082.5L1287.7 1101.1ZM809.8 1167.4L823.8 1115.9L844.3 1101.1L809 1078.5L809 1055.8L867.7 1093.5L875.3 1096.5L877.3 1101.1L878.5 1104.3L875.3 1104.2L838.6 1130.7L828.6 1167.4ZM1140.7 733.3L1166.5 729.4L1207 744.3L1222.7 769.9L1250.3 813.1L1207 824.5L1192.9 822L1140.7 789.2L1126 769.9L1108.8 738ZM1130.3 759.5L1135.9 769.9L1140.7 776.1L1157.6 786.8L1207 795.4L1227.3 790.1L1214.3 769.9L1207 757.9L1188 750.9L1140.7 758ZM1268.1 897.1L1272.2 902.4L1273.3 903.9L1274.9 903.9L1339.7 909.3L1398.2 960.8L1394.9 902.4L1339.7 895.1L1324.4 887.1L1273.3 898.6ZM1021.3 915.6L1034.1 968.6L1074.3 1031.7L1099.4 993.6L1085.9 968.6L1074.3 942.1ZM1076.9 1037.4L1131.5 1101.1L1140.7 1118.2L1159.1 1119.5L1207 1113.6L1223.6 1117.7L1273.3 1117.7L1298.2 1126L1278.7 1101.1L1273.3 1094.1L1249.6 1077.5L1207 1077.5L1186.3 1080.4L1140.7 1072.6Z"/>
<path fill="#fc0000" d="M809 1078.5L844.3 1101.1L823.8 1115.9L809.8 1167.4L809 1167.4L809 1101.1ZM809 763L871.9 766.5L875.3 763.8L877.9 769.9L878.7 773.2L876.8 836.1L941.7 894.8L992.9 902.4L979.3 939.9L941.7 909.8L935.1 902.4L875.3 837.4L858.8 836.1L809 811.3L809 769.9ZM1140.7 758L1188 750.9L1207 757.9L1214.3 769.9L1227.3 790.1L1207 795.4L1157.6 786.8L1140.7 776.1L1135.9 769.9L1130.3 759.5ZM1273.3 898.6L1324.4 887.1L1339.7 895.1L1394.9 902.4L1398.2 960.8L1339.7 909.3L1274.9 903.9L1273.3 903.9L1272.2 902.4L1268.1 897.1ZM1074.3 942.1L1085.9 968.6L1099.4 993.6L1074.3 1031.7L1034.1 968.6L1021.3 915.6ZM1140.7 1072.6L1186.3 1080.4L1207 1077.5L1249.6 1077.5L1273.3 1094.1L1278.7 1101.1L1298.2 1126L1273.3 1117.7L1223.6 1117.7L1207 1113.6L1159.1 1119.5L1140.7 1118.2L1131.5 1101.1L1076.9 1037.4Z"/>
</g>
<path d="M801 1167.4H1407M809 702.6V1167.4" stroke="#0a0a0a" stroke-width="2.2" fill="none"/>
<path d="M809 1167.4v8.5M842.2 1167.4v5M875.3 1167.4v8.5M908.5 1167.4v5M941.7 1167.4v8.5M974.8 1167.4v5M1008 1167.4v8.5M1041.2 1167.4v5M1074.3 1167.4v8.5M1107.5 1167.4v5M1140.7 1167.4v8.5M1173.8 1167.4v5M1207 1167.4v8.5M1240.2 1167.4v5M1273.3 1167.4v8.5M1306.5 1167.4v5M1339.7 1167.4v8.5M1372.8 1167.4v5M1406 1167.4v8.5M809 703.6h-8.5M809 736.7h-5M809 769.9h-8.5M809 803h-5M809 836.1h-8.5M809 869.2h-5M809 902.4h-8.5M809 935.5h-5M809 968.6h-8.5M809 1001.8h-5M809 1034.9h-8.5M809 1068h-5M809 1101.1h-8.5M809 1134.3h-5M809 1167.4h-8.5" stroke="#0a0a0a" stroke-width="2" fill="none"/>
<rect x="823.8" y="717" width="82.2" height="65.5" fill="#fff"/>
<text x="866" y="767.3" font-size="63.5" text-anchor="middle" font-family="'Liberation Serif','Noto Serif CJK SC',serif" fill="#111">(d)</text>
<path d="M993 833H1001.3V1049.5L1018.3 1044.3L997 1114L975.3 1043L993 1049.5Z" fill="#fff5f6"/>
<path d="M1018.8 1095L1195.6 838.1L1166.6 841.2L1220.3 812.6L1212.8 873L1205.3 844.8L1028.6 1101.6Z" fill="#0a0a0a"/>
<g font-family="'Liberation Serif','Noto Serif CJK SC',serif" fill="#111" font-size="33" text-anchor="middle">
<text x="804.5" y="1212.5">0</text>
<text x="870.8" y="1212.5">2</text>
<text x="937.2" y="1212.5">4</text>
<text x="1003.5" y="1212.5">6</text>
<text x="1069.8" y="1212.5">8</text>
<text x="1136.2" y="1212.5">10</text>
<text x="1202.5" y="1212.5">12</text>
<text x="1268.8" y="1212.5">14</text>
<text x="1335.2" y="1212.5">16</text>
<text x="1400" y="1212.5">18</text>
<text x="1464" y="1208" font-size="36">(cm)</text>
</g>
<rect x="1436.5" y="680" width="19.5" height="471" fill="url(#jetv)" stroke="#333" stroke-width="1"/>
<g font-family="'Liberation Serif','Noto Serif CJK SC',serif" fill="#111" font-size="29.3">
<text transform="translate(1474.3,692.4) scale(.925,1)">1</text>
<text transform="translate(1475.2,745) scale(.925,1)">0.75</text>
<text transform="translate(1475.2,803.6) scale(.925,1)">0.5</text>
<text transform="translate(1475.2,869.6) scale(.925,1)">0.25</text>
<text transform="translate(1476,924.5) scale(.925,1)">0</text>
<text transform="translate(1472,982) scale(.925,1)">-0.25</text>
<text transform="translate(1474,1041.5) scale(.925,1)">-0.5</text>
<text transform="translate(1472,1101.5) scale(.925,1)">-0.75</text>
<text transform="translate(1476,1157.5) scale(.925,1)">-1</text>
</g>
<text transform="translate(1549.3,796) rotate(90)" font-size="43.6" font-family="'Liberation Serif','Noto Serif CJK SC',serif" fill="#111">Pressure /a.u.</text>
</g>
</svg>
</body></html>
